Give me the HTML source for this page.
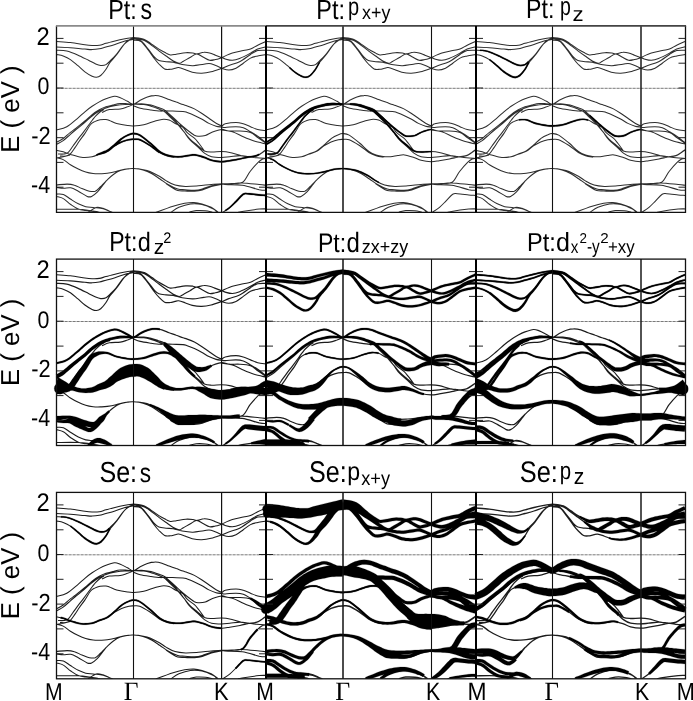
<!DOCTYPE html><html><head><meta charset="utf-8"><style>html,body{margin:0;padding:0;background:#fff;}svg{display:block;}</style></head><body>
<svg width="693" height="701" viewBox="0 0 693 701">
<rect width="693" height="701" fill="#fff"/>
<defs><path id="thin" d="M56.5 41.5C58.8 41.7 65.7 42.1 70.4 42.6C75.1 43.1 81.3 44.3 84.9 44.8C88.5 45.3 89.7 45.4 92.1 45.5C94.5 45.6 97.0 45.6 99.3 45.2C101.6 44.8 103.4 44.0 106.0 43.3C108.6 42.6 111.8 41.8 115.0 41.0C118.2 40.2 121.9 39.4 125.0 38.8C128.1 38.2 132.1 37.8 133.5 37.6 M56.5 47.0C58.8 47.1 65.7 47.4 70.4 47.7C75.1 48.1 81.3 48.8 84.9 49.1C88.5 49.4 89.7 49.7 92.1 49.6C94.5 49.5 97.0 49.2 99.3 48.8C101.6 48.4 103.4 47.7 106.0 47.0C108.6 46.3 111.8 45.5 115.0 44.5C118.2 43.5 121.9 41.9 125.0 41.0C128.1 40.1 132.1 39.6 133.5 39.3 M56.5 50.2C58.2 50.3 63.3 50.1 66.8 50.9C70.3 51.7 74.0 53.3 77.6 54.9C81.2 56.5 85.5 58.8 88.5 60.3C91.5 61.8 93.7 63.0 95.7 63.9C97.7 64.8 99.0 65.3 100.7 65.4C102.4 65.5 104.3 65.5 106.0 64.6C107.7 63.7 109.3 61.6 111.0 60.0C112.7 58.4 114.0 57.3 116.0 54.9C118.0 52.5 120.8 48.0 123.0 45.5C125.2 43.0 127.2 41.2 129.0 40.0C130.8 38.8 132.8 38.5 133.5 38.2 M56.5 54.5C57.6 54.8 60.9 55.1 63.2 56.0C65.5 56.9 68.0 58.0 70.4 59.6C72.8 61.2 75.2 63.4 77.6 65.4C80.0 67.4 82.5 70.0 84.9 71.8C87.3 73.6 90.2 75.3 92.1 76.2C94.0 77.1 95.0 77.4 96.4 77.3C97.8 77.2 99.1 76.8 100.7 75.5C102.3 74.2 104.5 71.5 106.0 69.3C107.5 67.1 108.3 64.8 110.0 62.5C111.7 60.2 113.6 58.6 116.0 55.5C118.4 52.4 122.2 46.6 124.5 44.0C126.8 41.4 128.5 40.7 130.0 39.8C131.5 38.9 132.9 39.0 133.5 38.8 M133.5 37.6C135.3 37.9 141.4 38.3 144.4 39.4C147.4 40.5 149.2 42.5 151.6 44.1C154.0 45.7 156.5 47.6 158.9 49.1C161.3 50.6 164.2 52.1 166.1 53.1C168.0 54.1 168.7 54.7 170.4 54.9C172.1 55.1 173.6 54.6 176.2 54.2C178.8 53.8 183.0 52.9 185.8 52.7C188.6 52.5 191.2 52.8 193.0 53.0C194.8 53.2 194.8 54.0 196.6 53.9C198.4 53.8 201.7 52.4 203.9 52.3C206.1 52.1 207.7 52.5 209.6 53.0C211.5 53.5 213.4 54.4 215.4 55.2C217.4 56.0 220.7 57.3 221.8 57.7 M133.5 38.4C135.3 38.7 141.4 39.2 144.4 40.4C147.4 41.6 149.2 43.7 151.6 45.4C154.0 47.1 156.5 49.0 158.9 50.8C161.3 52.6 163.7 54.3 166.1 56.0C168.5 57.7 171.2 59.8 173.3 61.0C175.5 62.2 177.4 63.2 179.0 63.3C180.6 63.4 181.2 62.5 183.0 61.5C184.8 60.5 187.7 58.8 190.0 57.5C192.3 56.2 194.4 54.0 196.6 53.9C198.8 53.8 200.8 55.9 203.0 57.0C205.2 58.1 207.5 59.9 209.6 60.3C211.7 60.7 213.4 59.9 215.4 59.5C217.4 59.1 220.7 58.0 221.8 57.7 M133.5 40.1C134.7 40.2 138.4 39.3 140.8 40.8C143.2 42.2 145.7 46.1 148.0 48.8C150.3 51.5 152.7 55.2 154.5 57.2C156.3 59.2 157.0 59.8 158.9 60.5C160.8 61.2 163.7 61.4 166.1 61.7C168.5 62.0 170.6 61.7 173.3 62.2C176.0 62.7 178.9 64.0 182.2 64.6C185.5 65.2 189.4 65.8 193.0 65.7C196.6 65.6 200.9 64.5 203.9 64.2C206.9 63.9 208.1 63.1 211.1 63.8C214.1 64.5 220.0 67.5 221.8 68.3 M133.5 40.3C134.8 40.5 138.6 39.9 141.0 41.5C143.4 43.1 145.8 46.9 148.0 49.8C150.2 52.7 152.7 56.4 154.5 58.8C156.3 61.2 157.2 62.3 158.9 64.0C160.6 65.7 162.7 68.1 164.6 69.0C166.5 69.9 168.7 69.4 170.4 69.3C172.1 69.2 173.6 68.5 175.0 68.2C176.4 67.9 176.9 67.4 178.6 67.6C180.3 67.8 182.7 68.7 185.0 69.5C187.3 70.3 189.5 71.6 192.3 72.2C195.1 72.8 198.6 73.3 201.7 73.2C204.8 73.1 207.8 72.6 211.1 71.8C214.4 71.0 220.0 68.9 221.8 68.3 M221.8 57.5C223.6 56.8 228.8 54.2 232.4 53.1C236.0 52.0 240.3 51.3 243.3 50.6C246.3 49.9 248.1 50.0 250.5 49.1C252.9 48.2 255.1 46.5 257.7 45.2C260.3 43.9 264.6 42.1 266.0 41.5 M221.8 57.5C222.4 57.7 223.4 58.4 225.2 58.9C227.0 59.4 230.0 60.4 232.4 60.3C234.8 60.2 236.6 59.7 239.6 58.5C242.6 57.3 247.5 54.7 250.5 53.1C253.5 51.5 255.1 50.2 257.7 49.1C260.3 48.0 264.6 47.2 266.0 46.8 M221.8 68.5C223.0 68.0 225.8 66.5 228.8 65.4C231.8 64.3 236.0 63.5 239.6 61.7C243.2 59.9 247.5 56.4 250.5 54.5C253.5 52.6 255.1 51.3 257.7 50.6C260.3 49.9 264.6 50.3 266.0 50.2 M221.8 68.5C223.0 68.8 226.4 70.0 228.8 70.0C231.2 70.0 233.6 69.3 236.0 68.2C238.4 67.1 240.9 64.9 243.3 63.2C245.7 61.5 248.1 59.3 250.5 58.1C252.9 56.9 255.1 56.6 257.7 56.0C260.3 55.4 264.6 54.8 266.0 54.5 M56.5 130.0C58.2 129.5 63.3 128.8 66.8 126.8C70.3 124.8 74.6 120.8 77.6 118.3C80.6 115.8 82.5 113.8 84.9 111.8C87.3 109.8 89.7 107.9 92.1 106.3C94.5 104.7 97.0 103.2 99.3 101.9C101.6 100.6 103.5 99.6 106.0 98.7C108.5 97.8 112.1 96.5 114.5 96.3C116.9 96.1 118.1 96.9 120.3 97.7C122.5 98.5 125.3 100.2 127.5 101.3C129.7 102.4 131.4 104.4 133.5 104.2C135.6 104.0 137.9 101.5 140.2 100.3C142.5 99.1 145.0 97.8 147.4 97.0C149.8 96.2 152.2 95.6 154.6 95.6C157.0 95.5 159.5 96.0 161.9 96.7C164.3 97.4 166.7 98.6 169.1 99.5C171.5 100.4 174.0 101.2 176.3 102.1C178.6 102.9 181.2 104.0 183.0 104.6C184.8 105.2 185.3 105.2 187.2 105.9C189.1 106.6 192.0 107.7 194.4 108.9C196.8 110.1 199.2 111.7 201.6 113.3C204.0 114.9 206.5 116.6 208.9 118.3C211.3 120.0 214.0 122.0 216.1 123.2C218.2 124.4 220.2 125.6 221.7 125.7C223.2 125.8 222.8 124.3 225.2 123.8C227.6 123.2 233.0 122.4 236.0 122.4C239.0 122.4 240.9 123.1 243.3 123.8C245.7 124.5 248.1 125.7 250.5 126.7C252.9 127.7 255.1 128.9 257.7 129.6C260.3 130.3 264.6 130.5 266.0 130.7 M56.5 142.3C57.6 141.7 60.9 140.2 63.2 138.5C65.5 136.8 68.0 134.3 70.4 132.4C72.8 130.5 75.2 128.7 77.6 126.8C80.0 124.9 82.5 123.0 84.9 121.0C87.3 119.0 89.7 116.5 92.1 114.6C94.5 112.7 97.0 111.1 99.3 109.8C101.6 108.5 103.7 107.6 106.0 106.8C108.3 106.0 110.6 105.4 113.0 104.9C115.4 104.4 118.0 103.8 120.3 103.6C122.6 103.4 124.8 103.6 127.0 103.7C129.2 103.8 132.4 104.1 133.5 104.2 M56.5 144.5C57.6 143.8 60.9 142.3 63.2 140.6C65.5 138.9 68.0 136.4 70.4 134.3C72.8 132.2 75.2 130.3 77.6 128.3C80.0 126.3 82.5 124.5 84.9 122.4C87.3 120.4 89.7 117.9 92.1 116.0C94.5 114.1 97.0 112.3 99.3 111.0C101.6 109.7 103.7 108.8 106.0 108.0C108.3 107.2 110.6 106.5 113.0 106.0C115.4 105.5 118.0 105.0 120.3 104.8C122.6 104.5 124.8 104.6 127.0 104.5C129.2 104.4 132.4 104.4 133.5 104.4 M102.0 112.5C103.2 112.0 106.4 110.2 109.4 109.6C112.5 109.0 117.3 109.4 120.3 108.9C123.3 108.4 125.3 107.5 127.5 106.8C129.7 106.0 132.5 104.8 133.5 104.4 M58.0 154.0C59.0 154.0 62.3 154.3 64.0 154.0C65.7 153.7 66.8 153.7 68.3 152.4C69.8 151.1 71.5 148.1 73.0 146.0C74.5 143.9 75.9 141.8 77.6 139.6C79.3 137.4 81.2 135.1 83.1 132.6C85.0 130.1 87.4 126.9 88.9 124.8C90.5 122.7 91.2 121.5 92.4 120.0C93.6 118.5 94.5 117.1 95.8 115.8C97.1 114.5 98.6 113.0 100.0 112.0C101.4 111.0 103.3 109.9 104.0 109.5 M60.0 156.0C61.0 156.0 64.3 156.4 66.0 156.0C67.7 155.6 68.9 155.2 70.4 153.8C71.9 152.4 73.5 149.7 75.0 147.6C76.5 145.5 77.8 143.3 79.4 141.0C81.0 138.7 82.9 136.3 84.8 133.6C86.7 130.8 88.9 126.5 90.6 124.5C92.2 122.5 93.1 122.4 94.7 121.6C96.3 120.8 98.1 120.1 100.0 119.8C101.9 119.5 104.4 119.5 106.0 119.6C107.6 119.7 107.6 119.9 109.4 120.5C111.2 121.1 113.6 122.6 116.6 123.4C119.6 124.2 124.7 125.1 127.5 125.5C130.3 125.9 130.8 126.0 133.5 125.9C136.2 125.8 140.3 125.6 143.8 124.8C147.3 124.0 151.6 122.1 154.6 121.2C157.6 120.3 159.5 119.6 161.9 119.4C164.3 119.2 166.7 119.3 169.1 120.1C171.5 120.9 174.0 122.9 176.3 124.1C178.6 125.3 181.2 125.9 183.0 127.3C184.8 128.7 185.3 130.9 187.2 132.7C189.1 134.5 192.4 136.4 194.4 138.2C196.4 140.0 197.3 141.4 199.0 143.5C200.7 145.6 203.5 149.7 204.4 150.9 M133.5 104.0C135.2 104.0 140.9 103.7 143.8 103.9C146.7 104.1 148.6 104.4 151.0 105.0C153.4 105.6 156.1 106.7 158.3 107.5C160.5 108.3 162.2 108.5 164.0 109.6C165.8 110.7 167.0 112.2 169.1 114.0C171.2 115.8 174.5 118.8 176.3 120.5C178.1 122.2 178.2 122.4 180.0 124.0C181.8 125.6 184.8 128.1 187.2 130.0C189.6 131.9 192.6 134.1 194.4 135.2C196.2 136.2 196.2 136.2 198.0 136.3C199.8 136.4 202.9 136.3 205.3 135.6C207.7 134.9 209.8 133.0 212.5 132.0C215.2 131.0 219.0 129.6 221.7 129.4C224.4 129.2 225.8 130.7 228.8 131.0C231.8 131.3 236.0 130.8 239.6 131.0C243.2 131.2 247.5 131.4 250.5 132.5C253.5 133.6 255.1 135.7 257.7 137.5C260.3 139.3 264.6 142.3 266.0 143.3 M133.5 104.2C135.2 104.3 140.9 104.3 143.8 104.6C146.7 104.9 148.6 105.5 151.0 106.2C153.4 106.9 156.1 107.9 158.3 108.8C160.5 109.7 162.2 110.2 164.0 111.4C165.8 112.6 167.0 114.1 169.1 116.0C171.2 117.9 174.0 120.6 176.3 123.0C178.6 125.4 180.7 127.9 183.0 130.6C185.3 133.3 187.6 136.6 190.0 139.0C192.4 141.4 194.8 143.2 197.2 145.2C199.6 147.2 202.0 149.8 204.4 150.9C206.8 152.0 208.7 151.9 211.6 152.0C214.5 152.1 218.6 151.5 221.6 151.6C224.6 151.7 226.6 151.8 229.7 152.4C232.8 153.0 237.0 154.6 240.0 155.3C243.0 156.0 245.0 156.6 247.8 156.7C250.6 156.8 253.9 156.9 256.9 155.8C259.9 154.7 264.5 151.0 266.0 150.0 M165.5 111.8C166.8 113.0 171.1 116.7 173.4 119.0C175.7 121.3 177.4 123.4 179.2 125.5C181.0 127.6 182.2 129.4 184.0 131.8C185.8 134.2 187.8 137.6 190.0 140.0C192.2 142.4 194.8 144.1 197.2 146.3C199.6 148.5 202.0 151.4 204.4 153.1C206.8 154.8 208.7 156.0 211.6 156.7C214.5 157.4 218.6 157.4 221.6 157.4C224.6 157.4 226.6 157.0 229.7 156.7C232.8 156.4 236.9 155.6 240.0 155.6C243.1 155.6 245.2 156.1 248.0 156.5C250.8 156.9 253.9 157.5 256.9 157.8C259.9 158.1 264.5 158.3 266.0 158.4 M133.5 105.7C134.6 106.1 137.3 107.5 140.2 108.2C143.1 108.9 147.6 109.5 151.0 110.0C154.4 110.5 158.2 111.0 160.4 111.1C162.6 111.2 161.9 110.8 164.0 110.8C166.1 110.8 169.5 111.0 172.7 111.1C175.9 111.2 180.6 111.2 183.0 111.4C185.4 111.6 185.3 111.8 187.2 112.5C189.1 113.2 192.0 114.3 194.4 115.4C196.8 116.5 199.2 117.7 201.6 119.0C204.0 120.3 206.5 122.2 208.9 123.4C211.3 124.6 214.0 125.6 216.1 126.2C218.2 126.8 220.2 126.8 221.7 127.0C223.2 127.2 222.8 127.5 225.2 127.4C227.6 127.4 233.0 126.6 236.0 126.7C239.0 126.8 240.9 127.0 243.3 127.8C245.7 128.6 248.1 130.3 250.5 131.7C252.9 133.1 255.1 134.3 257.7 136.1C260.3 137.9 264.6 141.5 266.0 142.6 M221.6 129.9C223.4 130.2 228.8 130.5 232.4 131.7C236.0 132.8 239.7 135.2 243.3 136.8C246.9 138.4 250.3 139.9 254.1 141.1C257.9 142.3 264.0 143.5 266.0 144.0 M56.5 150.3C57.6 150.5 60.9 151.0 63.2 151.7C65.5 152.4 67.4 153.5 70.4 154.4C73.4 155.3 77.7 156.9 81.3 157.3C84.9 157.7 89.1 157.3 92.1 156.7C95.1 156.1 96.8 154.9 99.3 153.9C101.8 152.9 104.7 152.4 107.2 150.9C109.7 149.4 112.0 147.2 114.4 145.2C116.8 143.2 119.2 140.4 121.6 138.7C124.0 136.9 126.9 135.5 128.9 134.7C130.9 133.8 131.7 133.5 133.5 133.6C135.3 133.7 136.9 133.5 139.7 135.1C142.4 136.7 146.7 140.3 150.0 143.0C153.3 145.7 156.6 149.4 159.4 151.4C162.2 153.4 164.2 154.2 166.6 155.1C169.0 156.0 171.5 156.3 173.9 156.6C176.3 156.9 178.7 156.9 181.1 156.7C183.5 156.5 186.0 155.9 188.3 155.6C190.6 155.3 192.3 154.6 195.0 154.9C197.7 155.2 201.6 156.5 204.4 157.4C207.2 158.3 208.7 159.6 211.6 160.3C214.5 161.0 218.6 161.6 221.6 161.7C224.6 161.8 226.6 161.2 229.7 160.7C232.8 160.2 237.0 159.5 240.0 158.9C243.0 158.3 245.0 157.8 247.8 157.2C250.6 156.6 254.4 156.3 256.9 155.5C259.4 154.7 261.1 153.0 262.6 152.1C264.1 151.2 265.4 150.2 266.0 149.8 M99.3 154.2C100.6 153.7 104.7 152.8 107.2 151.4C109.7 150.0 112.0 147.5 114.4 145.9C116.8 144.3 119.2 142.9 121.6 141.9C124.0 140.9 126.9 140.1 128.9 139.7C130.9 139.3 131.7 139.4 133.5 139.4C135.3 139.4 136.9 138.7 139.7 139.7C142.4 140.7 146.7 143.4 150.0 145.5C153.3 147.6 156.6 150.8 159.4 152.5C162.2 154.2 164.2 155.0 166.6 155.8C169.0 156.6 172.7 157.0 173.9 157.2 M56.5 158.2C57.6 157.9 61.0 157.2 63.2 156.7C65.5 156.2 68.9 155.3 70.0 155.0 M56.5 157.8C57.6 158.1 60.9 158.4 63.2 159.6C65.5 160.8 67.9 163.1 70.4 164.7C72.9 166.3 75.8 167.8 78.3 169.0C80.8 170.2 83.2 171.2 85.7 172.0C88.2 172.8 90.6 173.2 93.1 173.5C95.6 173.8 98.1 173.8 100.5 173.7C102.9 173.6 104.7 173.6 107.3 173.2C109.9 172.8 113.1 172.2 116.0 171.5C118.9 170.8 121.7 169.8 124.6 169.3C127.5 168.8 130.4 168.5 133.5 168.6C136.6 168.7 140.6 169.2 143.3 169.7C146.1 170.2 147.3 170.4 150.0 171.5C152.7 172.6 156.7 174.7 159.4 176.2C162.1 177.7 163.4 179.1 166.0 180.6C168.6 182.1 171.8 184.1 175.1 185.1C178.3 186.1 181.6 186.3 185.5 186.4C189.4 186.5 194.1 186.1 198.4 185.8C202.7 185.5 207.5 184.8 211.4 184.5C215.3 184.2 218.7 183.9 221.8 183.8C224.9 183.7 226.6 184.0 230.0 183.8C233.4 183.7 237.2 182.8 242.1 182.9C247.0 183.0 255.2 184.2 259.2 184.6C263.2 185.0 264.9 185.1 266.0 185.2 M56.5 184.9C58.3 184.8 64.1 184.1 67.1 184.1C70.1 184.1 72.0 184.4 74.5 185.2C77.0 185.9 79.5 187.6 82.0 188.6C84.5 189.6 87.2 190.8 89.4 191.2C91.6 191.6 93.5 191.9 95.3 191.2C97.1 190.4 98.7 188.4 100.5 186.7C102.3 185.0 103.8 183.1 106.0 181.1C108.2 179.1 111.0 176.2 113.4 174.5C115.8 172.8 118.0 171.5 120.3 170.6C122.6 169.7 124.8 169.3 127.0 169.0C129.2 168.7 130.8 168.4 133.5 168.6C136.2 168.8 139.9 169.1 143.0 170.0C146.1 170.9 149.2 172.3 152.0 173.8C154.8 175.3 157.3 177.2 160.0 179.0C162.7 180.8 165.1 182.8 168.0 184.5C170.9 186.2 174.9 188.1 177.7 189.0C180.5 189.9 182.2 189.5 185.0 189.7C187.8 189.9 191.6 190.4 194.5 190.3C197.4 190.2 199.5 189.8 202.3 189.0C205.1 188.2 208.2 186.6 211.4 185.8C214.7 185.0 219.5 184.4 221.8 184.2C224.1 184.0 221.6 184.4 225.0 184.6C228.4 184.8 236.4 184.3 242.1 185.2C247.8 186.0 255.2 188.8 259.2 189.7C263.2 190.5 264.9 190.2 266.0 190.3 M56.5 187.4C57.6 187.5 61.0 188.1 63.4 188.2C65.8 188.3 68.3 187.3 70.8 187.8C73.3 188.3 75.6 189.8 78.3 191.2C81.0 192.6 85.0 195.5 87.2 196.4C89.4 197.3 89.9 197.2 91.6 196.4C93.3 195.7 95.6 193.8 97.5 191.9C99.4 190.0 101.6 186.8 103.0 185.0C104.4 183.2 105.5 181.8 106.0 181.1 M166.0 183.5C167.0 184.2 170.1 186.3 172.0 187.5C173.9 188.7 175.5 190.0 177.7 190.6C179.9 191.2 182.2 190.9 185.0 191.0C187.8 191.1 191.6 191.4 194.5 191.2C197.4 191.0 199.5 190.8 202.3 190.0C205.1 189.2 208.2 187.6 211.4 186.6C214.7 185.6 220.1 184.6 221.8 184.2 M221.8 184.2C223.5 184.1 228.5 183.8 232.0 183.5C235.5 183.2 239.7 184.3 242.7 182.3C245.7 180.3 247.5 174.8 250.1 171.5C252.7 168.2 256.0 164.5 258.1 162.4C260.2 160.3 261.3 159.7 262.6 159.0C263.9 158.3 265.4 158.5 266.0 158.4 M56.5 194.1C57.6 194.2 61.0 193.6 63.4 194.5C65.8 195.4 68.3 197.8 70.8 199.3C73.3 200.9 75.8 202.6 78.3 203.8C80.8 205.0 83.2 206.1 85.7 206.7C88.2 207.3 90.6 207.2 93.1 207.5C95.6 207.8 98.3 207.8 100.5 208.2C102.7 208.6 104.1 209.0 106.0 209.7C107.9 210.4 111.0 212.0 112.0 212.5 M56.5 196.4C57.6 196.8 61.0 197.2 63.4 198.6C65.8 199.9 68.3 202.8 70.8 204.5C73.3 206.2 75.8 208.0 78.3 209.0C80.8 210.0 82.9 210.0 85.7 210.4C88.5 210.8 92.6 211.2 95.0 211.5C97.4 211.8 99.2 212.3 100.0 212.5 M56.5 209.3C60.1 209.3 72.4 209.1 78.0 209.3C83.6 209.5 86.7 210.1 90.0 210.5C93.3 210.9 96.7 211.6 98.0 211.8 M88.0 212.5C89.3 211.7 93.6 208.1 96.1 207.4C98.6 206.7 100.8 207.7 103.0 208.3C105.2 208.9 107.3 210.2 109.0 210.9C110.7 211.6 112.3 212.2 113.0 212.5 M155.8 212.5C158.7 211.4 168.3 207.7 173.1 206.2C177.9 204.7 181.1 203.9 184.6 203.3C188.1 202.7 191.0 202.4 193.9 202.5C196.8 202.6 199.1 203.1 202.0 203.9C204.9 204.7 208.5 205.9 211.2 207.3C213.9 208.7 216.9 211.4 218.1 212.2 M170.8 212.5C172.2 211.6 175.6 208.7 178.9 207.3C182.2 205.9 186.6 204.4 190.4 203.9C194.2 203.4 198.2 203.6 202.0 204.4C205.8 205.2 211.0 207.7 213.5 209.0C216.0 210.3 216.4 211.7 217.0 212.2 M189.3 212.2C190.5 211.9 193.5 210.8 196.2 210.6C198.9 210.4 202.7 210.5 205.4 210.8C208.1 211.1 211.2 212.0 212.4 212.2 M222.5 212.5C223.8 211.6 227.7 209.2 230.0 207.3C232.3 205.4 234.2 203.3 236.4 201.1C238.6 198.9 241.3 195.5 243.2 194.3C245.1 193.1 245.1 193.6 247.8 193.7C250.5 193.8 256.2 194.6 259.2 194.9C262.2 195.2 264.9 195.3 266.0 195.4 M238.0 212.5C238.7 212.3 238.6 212.0 242.1 211.4C245.6 210.8 255.2 209.5 259.2 209.1C263.2 208.7 264.9 208.9 266.0 208.9"/></defs>
<clipPath id="cr0"><rect x="53.0" y="25.9" width="635.5" height="186.4"/></clipPath>
<clipPath id="cr1"><rect x="53.0" y="259.1" width="635.5" height="186.4"/></clipPath>
<clipPath id="cr2"><rect x="53.0" y="492.4" width="635.5" height="186.4"/></clipPath>
<line x1="56.5" y1="88.3" x2="685.5" y2="88.3" stroke="#7a7a7a" stroke-width="1" stroke-dasharray="3.2,0.8"/>
<g clip-path="url(#cr0)">
<use href="#thin" transform="translate(0.0 0.0)" fill="none" stroke="#2e2e2e" stroke-width="1.05" stroke-linejoin="round"/>
<path d="M96.6,155.8 98.6,155.1 100.6,154.4 102.6,153.9 104.7,153.4 106.7,152.4 108.6,151.3 110.3,150.1 111.9,148.7 113.5,147.3 115.1,145.9 116.7,144.5 118.2,142.9 119.8,141.4 121.3,140.0 123.0,138.8 124.8,137.6 126.7,136.6 128.4,135.8 130.5,134.9 132.4,134.4 134.4,134.4 136.1,134.6 138.1,135.2 140.0,136.2 141.5,137.3 143.3,138.5 145.1,140.0 146.9,141.5 148.6,142.9 150.3,144.3 151.9,145.8 153.5,147.3 155.1,148.8 156.6,150.3 158.1,151.6 159.9,152.9 161.8,154.0 163.6,154.9 165.4,155.6 167.4,156.3 169.5,156.8 171.7,157.2 173.8,157.4 175.9,157.6 178.0,157.7 180.1,157.6 182.2,157.4 184.3,157.1 186.4,156.8 188.4,156.4 190.6,156.1 192.6,155.7 194.9,155.7 196.8,156.1 198.9,156.6 201.1,157.2 203.2,157.9 205.2,158.6 207.1,159.5 209.1,160.3 211.4,161.1 213.3,161.5 215.4,161.9 217.5,162.2 219.6,162.4 221.6,162.5 223.8,162.4 225.7,162.2 227.7,161.8 229.8,161.5 231.8,161.2 233.9,160.8 236.1,160.4 238.2,160.0 240.1,159.6 242.5,159.1 244.7,158.6 246.8,158.2 248.9,157.7 251.0,157.4 253.1,157.1 255.2,156.7 257.2,156.2 259.4,155.1 258.8,153.8 256.6,154.8 254.9,155.3 252.9,155.7 250.8,156.0 248.6,156.3 246.5,156.7 244.3,157.2 242.2,157.7 239.9,158.2 237.9,158.5 235.8,158.9 233.7,159.3 231.5,159.6 229.6,159.9 227.4,160.3 225.5,160.6 223.6,160.8 221.6,160.9 219.7,160.8 217.7,160.6 215.6,160.3 213.6,159.9 211.8,159.5 209.7,158.8 207.8,157.9 205.8,157.0 203.7,156.3 201.6,155.6 199.3,154.9 197.1,154.4 195.1,154.1 192.5,154.0 190.3,154.4 188.2,154.8 186.1,155.1 184.1,155.5 182.0,155.8 180.0,155.9 178.0,156.0 176.0,155.9 174.0,155.8 171.9,155.5 169.9,155.1 167.9,154.6 166.0,153.9 164.4,153.3 162.7,152.4 160.9,151.4 159.2,150.2 157.8,149.0 156.3,147.6 154.7,146.1 153.0,144.5 151.4,143.1 149.7,141.7 147.9,140.2 146.1,138.7 144.2,137.3 142.5,136.0 140.8,134.8 138.7,133.7 136.4,133.0 134.4,132.8 132.2,132.8 129.9,133.4 127.8,134.3 126.0,135.2 124.0,136.2 122.1,137.4 120.3,138.6 118.6,140.0 116.9,141.6 115.3,143.1 113.7,144.5 112.1,145.8 110.6,147.1 109.0,148.4 107.4,149.4 105.7,150.4 103.8,151.1 101.9,151.9 99.9,152.7 97.9,153.6 96.1,154.6Z M108.4,151.5 110.1,150.3 111.7,148.9 113.3,147.6 114.8,146.5 116.6,145.4 118.4,144.3 120.1,143.4 121.9,142.6 124.0,141.8 126.2,141.1 128.2,140.6 130.3,140.2 132.3,140.1 134.4,140.1 136.2,139.9 138.3,140.0 140.2,140.7 141.9,141.5 143.8,142.5 145.8,143.7 147.8,144.9 149.6,146.1 151.4,147.3 153.1,148.7 154.9,150.1 156.6,151.4 158.2,152.6 159.0,153.1 159.8,151.9 159.0,151.4 157.4,150.3 155.8,149.0 154.0,147.6 152.2,146.2 150.4,144.9 148.5,143.7 146.5,142.5 144.5,141.3 142.6,140.2 140.8,139.3 138.6,138.6 136.2,138.4 134.4,138.6 132.3,138.6 130.1,138.7 127.8,139.2 125.8,139.7 123.5,140.4 121.3,141.2 119.5,142.1 117.6,143.0 115.8,144.1 114.0,145.3 112.4,146.5 110.8,147.8 109.2,149.2 107.6,150.3Z M225.7,211.1 227.7,209.9 229.6,208.5 231.3,207.1 233.0,205.6 234.6,204.1 236.2,202.5 237.8,200.9 239.3,199.2 240.9,197.5 242.4,196.0 243.6,195.0 245.3,194.3 247.7,194.5 249.4,194.7 251.5,194.9 253.8,195.1 256.1,195.4 258.2,195.7 260.6,195.9 263.3,196.1 265.3,196.2 265.9,196.2 266.1,194.6 265.4,194.5 263.4,194.4 260.7,194.2 258.4,194.0 256.3,193.7 254.0,193.5 251.7,193.2 249.6,193.0 247.9,192.9 245.1,192.7 242.8,193.6 241.3,194.8 239.7,196.3 238.1,198.1 236.5,199.7 235.0,201.3 233.4,202.9 231.9,204.5 230.4,206.0 228.7,207.4 226.9,208.7 225.0,210.1Z" fill="#000" stroke="#000" stroke-width="0.2"/>
<use href="#thin" transform="translate(209.5 0.0)" fill="none" stroke="#2e2e2e" stroke-width="1.05" stroke-linejoin="round"/>
<path d="M289.1,68.0 290.7,69.5 292.4,71.0 294.0,72.3 295.9,73.7 297.8,74.9 299.7,76.0 301.3,76.9 303.7,77.8 306.0,78.0 308.3,77.5 310.6,76.1 312.0,74.7 313.4,73.1 314.8,71.4 316.0,69.7 317.2,67.7 318.3,65.8 319.4,63.8 320.0,62.8 319.0,62.2 318.3,63.2 317.2,65.2 316.1,67.1 315.0,68.9 313.7,70.6 312.4,72.3 311.0,73.8 309.8,74.9 307.7,76.2 305.8,76.6 304.1,76.4 301.9,75.5 300.3,74.8 298.5,73.7 296.6,72.6 294.8,71.3 293.2,70.0 291.6,68.6 289.9,67.1Z M266.3,143.0 267.8,142.2 269.8,141.1 272.1,139.8 273.9,138.5 275.5,137.2 277.2,135.8 278.8,134.3 280.4,133.0 282.0,131.7 283.6,130.5 285.1,129.3 286.8,128.0 288.4,126.8 290.0,125.5 291.6,124.2 293.3,122.9 294.9,121.6 296.5,120.1 298.1,118.7 299.7,117.2 301.3,115.8 303.0,114.5 304.7,113.2 306.5,112.0 308.3,111.0 310.1,109.9 312.0,109.0 313.9,108.2 315.7,107.5 317.7,106.9 319.6,106.3 321.7,105.9 323.7,105.4 325.8,105.0 327.9,104.6 329.9,104.3 332.1,104.3 334.3,104.3 336.5,104.4 338.9,104.6 341.3,104.8 342.9,104.9 343.1,103.5 341.4,103.3 339.0,103.1 336.5,103.0 334.3,102.8 332.1,102.8 329.7,102.9 327.6,103.1 325.5,103.5 323.4,103.9 321.3,104.4 319.3,104.9 317.3,105.4 315.3,106.1 313.3,106.8 311.4,107.6 309.4,108.6 307.5,109.7 305.7,110.8 303.9,112.0 302.1,113.3 300.3,114.7 298.7,116.1 297.1,117.6 295.5,119.0 293.9,120.4 292.3,121.8 290.7,123.0 289.1,124.3 287.4,125.6 285.8,126.8 284.2,128.1 282.6,129.3 281.0,130.5 279.4,131.8 277.8,133.2 276.2,134.6 274.6,136.0 273.0,137.3 271.3,138.6 269.1,139.8 267.1,140.9 265.7,141.6Z M266.3,145.1 267.7,144.4 269.8,143.3 272.0,141.9 273.9,140.6 275.5,139.2 277.1,137.7 278.8,136.2 280.4,134.8 281.9,133.5 283.5,132.1 285.1,130.8 286.7,129.5 288.3,128.2 290.0,126.9 291.6,125.6 293.2,124.3 294.9,122.9 296.5,121.5 298.1,120.0 299.7,118.6 301.2,117.2 302.9,115.8 304.7,114.5 306.5,113.2 308.3,112.1 310.1,111.1 312.0,110.2 313.8,109.4 315.7,108.7 317.7,108.0 319.6,107.4 321.6,106.9 323.7,106.5 325.8,106.1 327.8,105.7 329.9,105.5 332.1,105.3 334.3,105.3 336.5,105.2 338.9,105.1 341.3,105.1 343.0,105.1 343.0,103.7 341.3,103.7 338.9,103.7 336.5,103.8 334.3,103.9 332.0,103.9 329.7,104.1 327.7,104.4 325.5,104.7 323.4,105.1 321.3,105.6 319.3,106.1 317.3,106.7 315.3,107.3 313.3,108.1 311.4,108.9 309.5,109.8 307.6,110.9 305.7,112.1 303.9,113.4 302.1,114.7 300.4,116.1 298.7,117.5 297.1,119.0 295.5,120.5 293.9,121.9 292.3,123.2 290.7,124.5 289.1,125.8 287.5,127.1 285.9,128.4 284.2,129.7 282.6,131.1 281.0,132.4 279.4,133.8 277.8,135.2 276.2,136.7 274.6,138.1 273.0,139.5 271.3,140.7 269.1,142.0 267.1,143.1 265.7,143.9Z M267.5,154.7 269.1,154.8 271.4,154.8 273.6,154.7 276.0,154.3 278.2,152.9 279.7,151.4 281.0,149.4 282.4,147.4 283.7,145.5 285.0,143.7 286.3,141.9 287.7,140.0 289.0,138.3 290.3,136.6 291.7,134.9 293.2,133.0 294.5,131.3 295.8,129.4 297.2,127.6 298.4,126.0 299.8,124.0 301.2,122.1 302.5,120.4 303.8,118.7 305.1,117.1 306.6,115.5 308.3,113.9 309.9,112.6 312.1,111.1 313.9,110.1 313.1,108.9 311.4,109.9 309.1,111.4 307.3,112.9 305.6,114.5 304.0,116.1 302.7,117.8 301.3,119.6 300.1,121.3 298.7,123.2 297.3,125.1 296.1,126.8 294.7,128.6 293.4,130.4 292.0,132.2 290.6,134.0 289.2,135.8 287.9,137.5 286.5,139.2 285.2,141.1 283.9,142.9 282.6,144.7 281.3,146.6 279.9,148.6 278.6,150.5 277.4,151.9 275.5,152.9 273.4,153.3 271.4,153.4 269.1,153.4 267.5,153.3Z M350.1,104.5 352.3,104.5 354.4,104.7 356.5,104.9 358.4,105.2 360.3,105.7 362.4,106.3 364.5,107.1 366.6,107.8 368.6,108.6 370.5,109.1 372.3,109.8 373.9,110.8 375.5,112.1 377.1,113.7 378.8,115.2 380.5,116.7 382.2,118.3 383.9,119.8 385.3,121.0 386.8,122.5 388.1,123.7 389.7,125.1 391.2,126.4 392.8,127.8 394.6,129.3 396.2,130.6 398.1,132.0 400.1,133.5 401.9,134.8 403.5,135.9 406.0,136.9 408.3,137.1 410.4,137.0 412.7,136.8 415.0,136.3 416.9,135.5 418.6,134.5 420.4,133.5 422.3,132.6 424.2,131.9 426.3,131.2 428.4,130.6 430.4,130.1 431.3,130.0 431.1,128.8 430.1,128.9 428.1,129.3 425.9,129.9 423.7,130.6 421.7,131.4 419.7,132.3 417.9,133.3 416.2,134.2 414.6,134.9 412.5,135.3 410.3,135.5 408.4,135.6 406.3,135.5 404.3,134.5 402.8,133.6 401.0,132.3 399.0,130.9 397.2,129.4 395.5,128.1 393.8,126.7 392.1,125.3 390.6,124.0 389.1,122.6 387.9,121.5 386.3,120.0 384.9,118.7 383.2,117.1 381.5,115.6 379.8,114.1 378.1,112.6 376.5,111.0 374.8,109.6 372.9,108.4 371.0,107.7 369.1,107.1 367.1,106.5 365.0,105.7 362.8,104.9 360.7,104.3 358.7,103.9 356.7,103.5 354.5,103.3 352.4,103.2 350.1,103.2Z M350.1,105.0 352.3,105.2 354.4,105.4 356.5,105.8 358.3,106.3 360.3,106.9 362.4,107.5 364.5,108.3 366.6,109.1 368.6,109.9 370.5,110.7 372.2,111.5 373.9,112.6 375.4,114.0 377.1,115.6 378.7,117.1 380.1,118.4 381.6,119.9 383.1,121.3 384.6,122.8 385.9,124.2 387.3,125.7 388.6,127.2 389.9,128.7 391.2,130.3 392.6,131.9 394.0,133.6 395.4,135.4 396.8,137.1 398.2,138.8 399.8,140.3 401.4,141.8 403.0,143.2 404.6,144.5 406.2,145.8 407.8,147.2 409.4,148.6 411.0,149.9 412.7,151.1 414.7,152.0 416.7,152.5 418.8,152.6 421.1,152.7 423.0,152.7 425.0,152.6 427.1,152.4 429.2,152.3 431.1,152.3 431.1,150.9 429.2,151.0 427.1,151.1 424.9,151.2 422.9,151.3 421.1,151.3 418.9,151.2 416.9,151.1 415.1,150.6 413.5,149.8 412.0,148.8 410.4,147.5 408.8,146.0 407.2,144.6 405.6,143.3 404.0,142.0 402.4,140.7 400.8,139.2 399.3,137.7 398.0,136.1 396.6,134.4 395.2,132.7 393.8,130.9 392.4,129.3 391.1,127.8 389.7,126.2 388.4,124.7 387.0,123.2 385.6,121.7 384.1,120.2 382.6,118.8 381.1,117.4 379.8,116.1 378.2,114.5 376.5,112.9 374.8,111.4 373.0,110.2 371.1,109.3 369.1,108.5 367.1,107.7 365.0,107.0 362.9,106.2 360.7,105.5 358.7,105.0 356.7,104.5 354.6,104.1 352.4,103.8 350.2,103.7Z M270.0,159.3 272.4,160.2 274.1,161.2 275.8,162.5 277.7,163.9 279.5,165.3 281.5,166.4 283.5,167.6 285.5,168.6 287.5,169.6 289.7,170.6 291.8,171.5 293.9,172.3 296.1,172.9 298.2,173.5 300.4,173.9 302.5,174.2 304.7,174.3 306.9,174.4 309.0,174.4 311.2,174.3 313.4,174.2 315.6,174.0 317.9,173.7 320.1,173.3 322.3,172.9 324.6,172.4 326.7,171.9 328.9,171.3 331.0,170.7 333.2,170.2 335.3,169.8 337.4,169.5 339.6,169.4 341.8,169.3 344.0,169.3 346.3,169.5 348.5,169.8 350.7,170.1 352.7,170.4 355.0,170.8 357.0,171.3 359.3,172.1 361.0,172.9 362.9,173.8 364.9,174.8 366.8,175.8 368.6,176.8 370.5,178.0 372.3,179.3 374.1,180.5 376.0,181.6 377.7,182.6 378.6,183.1 379.2,182.0 378.3,181.5 376.6,180.5 374.8,179.4 373.0,178.2 371.3,176.9 369.2,175.6 367.5,174.6 365.5,173.6 363.5,172.6 361.5,171.6 359.7,170.9 357.4,170.0 355.3,169.5 352.9,169.0 350.9,168.7 348.7,168.4 346.4,168.1 344.1,167.9 341.8,167.9 339.5,168.0 337.3,168.2 335.1,168.4 332.9,168.8 330.7,169.4 328.5,170.0 326.4,170.6 324.3,171.1 322.0,171.6 319.8,172.0 317.7,172.4 315.5,172.7 313.3,172.9 311.1,173.0 309.0,173.0 306.9,173.1 304.8,173.0 302.7,172.8 300.6,172.5 298.5,172.2 296.4,171.7 294.4,171.0 292.3,170.3 290.2,169.4 288.1,168.4 286.1,167.4 284.2,166.4 282.2,165.3 280.3,164.1 278.4,162.9 276.6,161.5 274.8,160.1 273.0,159.0 270.4,158.1Z" fill="#000" stroke="#000" stroke-width="0.2"/>
<use href="#thin" transform="translate(419.0 0.0)" fill="none" stroke="#2e2e2e" stroke-width="1.05" stroke-linejoin="round"/>
<path d="M479.9,50.9 482.3,51.0 484.6,51.3 486.6,51.8 488.5,52.3 490.4,53.0 492.4,53.8 494.4,54.7 496.3,55.5 498.2,56.4 500.1,57.3 502.0,58.3 503.8,59.2 505.6,60.1 507.2,61.0 509.3,62.0 511.1,63.0 512.8,63.9 514.4,64.6 516.6,65.5 518.6,66.1 520.7,66.2 523.0,66.0 525.3,65.2 527.1,63.9 528.8,62.1 527.9,61.3 526.3,62.9 524.7,64.0 522.7,64.6 520.7,64.7 518.9,64.5 517.1,64.0 515.0,63.2 513.5,62.5 511.8,61.7 510.0,60.7 507.8,59.6 506.2,58.8 504.5,57.9 502.6,57.0 500.7,56.0 498.7,55.1 496.9,54.3 494.9,53.4 492.9,52.6 490.9,51.8 488.9,51.1 486.9,50.5 484.8,50.1 482.4,49.8 480.0,49.7Z M489.0,60.1 490.6,61.3 492.2,62.5 493.7,63.9 495.3,65.3 496.9,66.7 498.5,68.1 500.1,69.7 501.8,71.1 503.4,72.5 505.3,73.8 507.2,75.1 509.1,76.2 510.7,77.0 513.2,78.0 515.5,78.2 517.8,77.6 520.2,76.2 521.6,74.8 523.0,73.2 524.3,71.4 525.6,69.7 526.8,67.7 527.8,65.8 528.9,63.8 529.5,62.8 528.5,62.2 527.8,63.2 526.6,65.1 525.6,67.1 524.4,68.9 523.2,70.5 521.8,72.2 520.4,73.7 519.2,74.8 517.2,76.1 515.3,76.4 513.6,76.3 511.5,75.4 509.9,74.6 508.1,73.6 506.3,72.4 504.4,71.1 502.8,69.9 501.2,68.5 499.6,67.0 497.9,65.5 496.3,64.2 494.7,62.8 493.0,61.5 491.4,60.2 489.8,59.1Z M519.1,120.4 521.1,120.2 523.2,120.2 524.9,120.3 526.9,120.7 528.9,121.5 530.7,122.3 532.9,123.3 535.4,124.2 537.2,124.6 539.3,125.1 541.5,125.5 543.6,125.9 545.6,126.2 547.6,126.5 549.5,126.7 551.3,126.8 553.4,126.7 555.3,126.6 557.4,126.4 559.6,126.2 561.9,125.8 564.0,125.3 566.1,124.7 568.1,124.0 570.2,123.2 572.1,122.5 573.8,121.9 576.2,121.2 578.1,120.6 580.0,120.2 582.0,120.0 584.0,120.0 585.9,120.2 588.0,120.7 588.2,119.5 586.2,119.0 584.0,118.7 581.9,118.7 579.8,118.8 577.8,119.2 575.7,119.8 573.4,120.5 571.6,121.0 569.6,121.7 567.6,122.5 565.6,123.2 563.6,123.8 561.6,124.2 559.4,124.5 557.3,124.8 555.2,124.9 553.3,125.0 551.3,125.1 549.6,125.1 547.8,124.9 545.8,124.6 543.9,124.3 541.8,123.9 539.7,123.5 537.6,123.1 535.8,122.6 533.4,121.8 531.3,120.9 529.5,120.1 527.3,119.3 525.1,118.9 523.2,118.9 521.0,118.9 518.9,119.2Z M589.2,115.8 590.9,117.4 592.6,119.0 594.2,120.4 595.7,121.9 596.9,123.1 598.5,124.6 599.9,125.8 601.5,127.1 603.2,128.6 604.9,130.0 606.6,131.4 608.5,132.9 610.5,134.3 612.2,135.5 614.4,136.7 616.9,137.1 618.8,137.2 621.1,137.0 623.4,136.7 625.5,136.1 627.3,135.1 629.0,134.1 630.8,133.1 632.7,132.3 634.7,131.6 636.8,130.9 638.9,130.3 640.8,130.0 640.6,128.8 638.6,129.0 636.5,129.5 634.3,130.2 632.2,130.9 630.2,131.7 628.3,132.7 626.5,133.7 624.9,134.5 623.0,135.0 620.9,135.4 618.8,135.5 617.1,135.5 615.0,135.1 613.1,134.0 611.5,132.9 609.6,131.5 607.6,130.1 605.9,128.7 604.2,127.4 602.5,125.9 600.9,124.6 599.5,123.4 597.9,122.0 596.7,120.8 595.1,119.4 593.5,118.0 591.8,116.4 590.1,114.9Z" fill="#000" stroke="#000" stroke-width="0.2"/>
</g>
<line x1="56.5" y1="321.5" x2="685.5" y2="321.5" stroke="#7a7a7a" stroke-width="1" stroke-dasharray="3.2,0.8"/>
<g clip-path="url(#cr1)">
<use href="#thin" transform="translate(0.0 233.2)" fill="none" stroke="#1c1c1c" stroke-width="1.15" stroke-linejoin="round"/>
<path d="M55.4,389.6 57.1,389.6 59.6,389.1 62.1,388.7 63.9,388.8 65.9,389.1 68.3,389.7 70.5,390.2 72.4,390.6 74.5,391.1 76.7,391.7 78.9,392.2 81.1,392.6 83.5,392.8 85.9,392.9 88.3,392.8 90.5,392.7 92.7,392.4 95.3,391.8 97.5,391.0 99.4,390.2 101.3,389.7 103.3,389.2 105.5,388.7 107.8,387.8 110.0,386.7 112.0,385.5 113.8,384.2 115.4,382.8 117.0,381.4 118.7,379.9 120.4,378.3 121.9,376.9 123.3,375.6 124.7,374.5 126.3,373.3 127.9,372.1 129.4,371.2 131.1,370.1 132.6,369.5 134.3,369.4 135.7,369.6 137.1,370.3 138.6,371.3 139.8,372.3 141.2,373.6 142.8,375.0 144.6,376.4 146.4,377.8 148.1,379.0 149.7,380.3 151.4,381.7 153.1,383.2 154.8,384.5 156.6,385.7 158.7,386.9 160.9,388.0 162.9,388.7 164.9,389.2 167.0,389.7 169.3,390.1 171.6,390.3 173.8,390.3 175.9,390.3 178.0,390.3 180.1,390.2 182.3,390.0 184.4,389.7 186.4,389.3 188.5,389.0 190.7,389.0 192.7,389.0 194.9,389.3 196.6,390.1 198.5,391.2 200.5,392.3 202.4,393.3 204.2,394.3 205.9,395.5 207.9,396.7 210.3,398.0 212.5,398.5 214.7,398.9 217.0,399.2 219.3,399.4 221.6,399.6 224.0,399.4 226.3,399.1 228.3,398.7 230.4,398.3 232.4,398.0 234.5,397.6 236.7,397.1 238.8,396.6 240.8,396.1 243.2,395.5 245.4,394.9 247.4,394.2 249.4,393.6 251.3,393.1 253.5,392.6 255.7,392.1 257.9,391.3 260.5,390.0 262.5,388.6 264.1,387.5 266.1,386.0 267.4,385.1 264.6,380.9 263.2,381.8 261.1,383.1 259.5,384.2 257.8,385.3 255.9,386.1 254.4,386.3 252.5,386.6 250.4,386.7 248.2,386.9 245.9,387.1 243.6,387.4 241.5,387.7 239.2,388.1 237.3,388.3 235.2,388.6 233.0,388.9 230.9,389.2 229.0,389.5 226.8,389.8 225.0,390.1 223.4,390.2 221.6,390.2 220.0,390.2 218.2,389.9 216.2,389.7 214.4,389.3 212.9,389.0 211.0,388.8 209.1,388.3 206.8,387.7 204.4,387.3 202.1,386.9 199.7,386.8 197.3,386.7 195.1,386.9 192.5,386.6 190.3,386.8 188.1,387.0 186.1,387.3 184.0,387.7 182.0,388.0 180.0,388.1 178.0,388.1 176.0,388.0 174.0,387.5 172.1,387.0 170.1,386.4 168.3,385.6 166.5,384.7 165.1,383.9 163.7,382.9 162.2,381.7 160.8,380.4 159.6,379.1 158.3,377.6 156.8,376.1 155.2,374.4 153.5,372.8 151.9,371.2 150.2,369.6 148.3,368.1 146.3,367.0 144.3,366.0 142.3,365.1 139.7,364.2 136.8,363.9 134.5,364.1 132.0,364.2 129.3,364.6 126.8,365.3 124.8,366.0 122.6,366.9 120.4,368.0 118.3,369.4 116.5,371.0 114.8,372.5 113.3,374.0 111.8,375.4 110.2,376.7 108.7,378.1 107.3,379.4 106.0,380.4 104.7,381.4 103.0,382.2 101.2,383.0 99.2,383.8 97.1,384.8 95.2,385.9 93.5,386.7 91.5,387.4 89.8,387.8 87.8,388.1 85.7,388.4 83.6,388.5 81.5,388.4 79.7,388.1 77.7,387.7 75.7,387.1 73.8,386.3 72.0,385.5 70.1,384.7 68.1,383.6 66.4,382.3 64.3,381.1 61.7,379.5 59.3,378.0 57.6,377.4Z M230.8,390.9 232.9,390.8 235.0,390.7 237.2,390.7 239.1,390.7 241.0,390.9 242.9,391.3 244.7,391.7 246.6,392.2 248.6,392.7 250.8,393.2 253.0,393.6 255.4,394.0 257.7,394.3 260.0,394.6 262.4,394.8 264.4,395.0 265.8,395.1 266.2,388.1 264.8,388.1 262.8,388.0 260.5,388.0 258.2,387.9 256.2,387.7 254.0,387.5 251.7,387.2 249.5,387.0 247.4,386.9 245.4,386.8 243.4,386.7 241.2,386.7 239.0,386.9 236.8,387.3 234.7,387.8 232.5,388.3 230.5,388.7Z M57.1,394.3 58.9,393.8 61.3,393.1 63.8,392.3 65.9,391.5 68.0,390.6 69.8,389.9 70.4,389.7 69.6,386.7 69.0,386.8 67.1,387.0 64.8,387.3 62.6,387.5 60.1,387.9 57.6,388.2 55.9,388.5Z M105.8,387.2 108.3,386.6 110.4,385.7 112.4,384.6 114.1,383.4 115.6,382.4 117.2,381.5 119.0,380.7 120.7,379.9 122.4,379.3 124.2,378.7 126.1,378.0 128.1,377.5 129.6,377.1 131.5,376.8 133.6,376.8 135.5,376.5 136.9,376.2 138.6,376.4 139.8,376.7 141.6,377.4 143.6,378.3 145.6,379.3 147.6,380.4 149.5,381.4 151.3,382.5 153.1,383.7 155.0,384.9 156.8,386.1 158.5,387.2 160.9,388.3 163.1,389.2 164.1,389.5 165.1,387.1 164.2,386.7 162.3,385.6 160.3,384.2 158.9,383.1 157.4,381.8 155.8,380.3 154.1,378.8 152.3,377.2 150.5,375.8 148.7,374.4 146.7,373.0 144.7,371.7 142.8,370.5 140.8,369.4 137.7,368.5 135.0,368.4 133.4,368.4 131.0,368.4 128.2,368.7 126.0,369.2 123.6,369.9 121.2,370.7 119.0,371.7 117.0,372.9 115.2,374.2 113.4,375.5 111.6,376.9 110.0,378.4 108.5,379.9 107.3,381.3 106.1,382.6 104.4,383.9Z M59.8,392.9 61.5,392.8 64.0,392.6 66.6,392.3 69.7,391.2 72.3,389.2 74.0,387.3 75.4,385.3 76.6,383.3 77.9,381.4 79.1,379.5 80.3,377.6 81.6,375.7 82.6,374.2 83.8,372.6 85.0,370.9 86.3,369.2 87.5,367.3 88.7,365.3 89.9,363.2 91.0,361.3 92.0,359.8 93.1,358.4 94.2,357.5 95.6,356.7 97.4,355.7 99.3,354.8 101.2,354.3 103.2,353.9 105.1,353.8 107.0,353.9 109.1,354.6 110.7,355.2 112.7,356.1 115.1,357.0 117.3,357.6 119.3,358.1 121.4,358.5 123.6,358.9 125.6,359.2 127.4,359.5 129.6,359.8 131.3,359.9 133.5,359.9 135.3,359.8 137.4,359.8 139.5,359.6 141.8,359.3 144.0,359.0 146.1,358.4 148.2,357.8 150.3,357.1 152.3,356.4 154.1,355.8 156.2,355.2 158.3,354.5 160.2,354.1 162.0,353.8 164.0,353.7 165.9,353.8 167.8,354.1 169.6,354.7 171.3,355.6 173.0,356.7 174.9,357.8 176.9,358.8 178.9,359.6 180.8,360.4 182.3,361.3 183.7,362.8 185.2,361.5 183.7,359.7 181.8,358.5 179.7,357.6 177.8,356.8 176.0,355.9 174.2,354.8 172.4,353.6 170.5,352.6 168.4,351.9 166.2,351.5 164.0,351.3 161.8,351.4 159.7,351.7 157.7,352.2 155.5,352.9 153.4,353.6 151.5,354.2 149.5,355.0 147.5,355.8 145.5,356.5 143.6,357.0 141.5,357.5 139.3,357.8 137.2,358.0 135.2,358.2 133.5,358.3 131.4,358.3 129.8,358.2 127.6,357.9 125.9,357.6 123.9,357.3 121.7,356.9 119.6,356.5 117.7,356.1 115.6,355.5 113.4,354.5 111.4,353.6 109.7,352.8 107.4,352.0 105.2,351.7 103.1,351.5 100.8,351.4 98.5,351.6 96.0,352.2 93.8,352.9 91.9,353.7 89.9,355.0 88.2,356.9 87.0,358.7 85.7,360.7 84.4,362.7 83.3,364.6 82.1,366.2 80.9,367.9 79.6,369.5 78.4,371.1 77.2,372.7 75.8,374.7 74.6,376.6 73.4,378.4 72.1,380.2 70.7,382.1 69.4,383.7 68.5,384.8 66.9,385.8 65.4,386.1 63.8,386.1 61.8,385.7 60.2,385.5Z M56.7,420.1 58.2,419.9 60.3,419.5 62.7,419.2 65.1,418.9 67.1,418.8 69.3,419.0 71.2,419.4 73.0,419.8 74.8,420.5 76.5,421.3 78.2,422.4 80.1,423.5 82.1,424.5 84.3,425.6 86.6,426.5 88.8,427.1 91.7,427.6 94.7,427.5 97.6,426.3 99.9,424.6 101.7,422.8 103.4,421.3 104.6,419.4 105.7,417.3 106.9,415.2 108.3,413.7 109.9,412.1 108.5,410.5 106.7,412.0 105.1,413.4 102.9,414.7 100.9,415.9 99.1,417.1 97.6,418.7 96.0,420.4 94.8,421.5 93.6,422.0 92.1,422.0 90.0,421.7 88.2,421.2 86.2,420.6 84.0,419.9 82.0,419.3 80.1,418.6 78.2,417.7 76.1,417.0 73.9,416.4 71.8,416.0 69.6,415.8 67.1,415.8 64.9,415.8 62.4,415.8 60.0,415.9 57.8,416.0 56.3,416.1Z M56.3,422.1 58.1,422.4 60.6,422.8 63.4,423.1 65.7,423.0 67.8,423.0 69.6,423.3 71.0,423.9 72.3,424.7 73.8,425.8 75.7,426.8 77.6,427.5 79.5,428.4 81.6,429.3 83.7,430.3 85.7,431.1 88.2,432.0 90.9,432.0 93.3,430.9 95.2,429.6 97.0,428.1 98.7,426.3 100.2,424.5 101.6,422.5 102.9,420.6 104.0,419.0 102.0,417.4 100.7,419.0 99.3,420.7 97.7,422.4 96.3,423.9 94.6,425.3 92.9,426.6 91.4,427.5 90.1,428.1 89.0,428.1 87.3,427.5 85.9,426.4 84.3,425.1 82.5,423.6 80.7,422.2 78.9,420.9 76.9,419.8 74.8,419.1 72.4,418.6 69.9,418.5 67.4,419.0 65.3,419.5 63.4,419.7 61.0,419.6 58.5,419.3 56.7,419.1Z M149.7,405.4 151.4,406.3 153.2,407.3 155.2,408.4 157.0,409.6 158.7,410.6 160.5,412.1 162.0,413.5 163.8,415.0 165.6,416.4 167.2,417.6 169.0,418.8 170.9,419.9 173.1,421.0 175.2,421.8 177.4,422.5 179.6,423.0 181.9,423.4 184.2,423.7 186.4,424.0 188.7,424.1 190.9,423.9 193.2,423.7 195.4,423.5 197.6,423.2 199.7,423.0 201.8,422.7 203.9,422.3 205.9,421.8 207.9,421.2 209.8,420.7 211.6,420.3 213.9,419.8 216.0,419.4 218.0,419.1 220.0,418.8 221.8,418.5 223.9,418.5 225.8,418.6 227.7,418.6 230.1,418.6 231.9,418.5 233.7,418.3 235.7,418.1 237.7,418.0 239.9,417.9 239.6,414.4 237.4,414.5 235.3,414.8 233.4,415.0 231.6,415.2 229.9,415.4 227.7,415.5 225.8,415.5 223.9,415.4 221.8,415.5 219.8,415.4 217.8,415.3 215.7,415.3 213.5,415.3 211.2,415.1 209.3,415.0 207.2,414.9 205.2,414.8 203.1,414.7 201.1,414.7 199.1,414.8 197.0,414.9 194.8,415.0 192.6,415.1 190.5,415.1 188.4,415.1 186.5,415.2 184.5,415.4 182.4,415.5 180.5,415.5 178.7,415.5 176.9,415.3 175.2,415.0 173.5,414.4 171.6,413.7 169.8,412.9 168.0,412.1 166.1,411.3 164.3,410.3 162.4,409.3 160.1,408.2 158.3,407.3 156.3,406.4 154.2,405.5 152.1,404.7 150.3,404.0Z M170.1,420.7 172.1,422.0 174.1,423.1 176.0,424.2 178.3,424.9 180.7,425.0 182.8,425.0 184.9,424.9 186.8,424.9 189.0,424.9 191.3,424.8 193.5,424.7 194.5,424.5 194.5,422.5 193.5,422.4 191.5,422.1 189.3,421.7 187.2,421.3 185.1,420.9 182.9,420.7 181.1,420.5 179.4,420.1 177.6,419.6 175.7,419.2 173.7,418.5 171.6,417.8Z M88.6,446.5 90.0,445.8 92.0,444.8 94.2,443.8 96.0,442.9 97.5,442.7 99.3,443.0 101.3,443.4 103.3,443.9 105.4,444.5 107.4,445.2 109.7,445.8 111.0,446.1 111.8,444.0 110.7,443.4 108.8,442.2 107.0,441.0 104.8,439.8 102.6,438.9 100.1,438.1 97.1,438.1 94.4,438.9 92.1,440.3 90.2,442.1 88.5,443.8 87.4,444.9Z M156.7,446.5 158.2,446.0 160.0,445.5 162.1,444.9 164.3,444.3 166.6,443.6 168.9,442.9 171.0,442.2 172.9,441.7 175.0,441.1 177.3,440.5 179.4,439.9 181.3,439.5 183.2,439.1 185.0,438.7 187.1,438.3 189.2,438.0 191.1,437.8 192.9,437.7 194.8,437.8 196.7,437.9 198.6,438.1 200.5,438.5 202.5,438.9 204.6,439.5 206.7,440.1 208.8,440.8 210.6,441.5 212.7,442.7 213.7,443.3 214.9,441.6 213.8,440.8 211.8,439.5 209.8,438.4 207.7,437.5 205.5,436.6 203.4,435.8 201.4,435.2 199.3,434.6 197.2,434.1 195.1,433.8 192.9,433.6 190.9,433.6 188.7,433.7 186.5,434.0 184.2,434.3 182.3,434.6 180.3,435.1 178.3,435.6 176.1,436.1 173.7,436.9 171.6,437.7 169.7,438.4 167.6,439.3 165.4,440.2 163.2,441.2 161.0,442.2 159.1,443.1 157.3,443.9 156.0,444.5Z M225.8,444.4 227.8,443.2 229.7,441.9 231.5,440.5 233.2,439.1 234.8,437.5 236.5,436.0 238.1,434.5 239.8,432.9 241.5,431.3 243.1,430.0 244.2,429.3 245.5,428.8 247.6,429.2 249.3,429.5 251.4,429.7 253.7,430.0 255.9,430.3 258.1,430.5 260.5,430.7 263.1,430.9 265.2,431.0 265.8,431.1 266.2,426.1 265.5,426.1 263.5,425.9 260.9,425.7 258.6,425.5 256.5,425.3 254.2,425.0 251.9,424.7 249.7,424.6 248.0,424.6 244.9,424.6 242.2,425.7 240.6,427.2 239.1,428.9 237.6,430.8 236.2,432.6 234.7,434.2 233.2,435.9 231.7,437.5 230.2,439.0 228.6,440.4 226.8,441.8 224.9,443.2Z M251.2,444.2 253.6,444.2 255.8,444.2 257.8,444.2 259.4,444.2 262.6,444.5 264.6,444.8 265.9,445.1 266.1,439.1 264.6,439.3 262.4,439.7 259.0,440.4 257.4,440.8 255.4,441.3 253.2,441.8 251.0,442.4Z M163.4,343.6 164.9,345.0 166.2,346.6 167.9,348.6 169.3,350.1 170.9,351.7 172.6,353.3 174.1,354.8 175.6,356.3 176.8,357.5 178.3,359.1 179.7,360.3 181.3,361.7 183.1,363.1 184.8,364.5 186.6,365.9 188.6,367.4 190.5,368.8 192.3,370.1 194.9,371.5 197.8,372.0 199.9,371.9 202.2,371.6 204.7,371.1 206.9,370.3 208.7,369.1 210.3,367.8 212.0,366.6 211.0,364.7 209.0,365.4 207.1,366.1 205.5,366.7 203.8,367.0 201.8,367.2 199.8,367.1 198.2,367.0 196.6,366.8 195.0,365.8 193.4,364.7 191.6,363.4 189.7,361.9 187.9,360.6 186.3,359.2 184.6,357.8 183.0,356.5 181.7,355.3 180.1,354.0 178.8,352.8 177.2,351.4 175.6,350.0 173.8,348.5 172.0,347.0 170.3,345.8 168.3,344.4 166.5,343.0 164.6,342.0Z M163.4,345.4 164.8,346.9 166.2,348.5 167.8,350.5 169.0,351.9 170.5,353.2 172.0,354.7 173.4,356.1 174.9,357.6 176.2,359.0 177.5,360.5 178.8,362.0 180.2,363.4 181.6,364.9 183.1,366.5 184.5,368.2 186.0,369.9 187.5,371.6 189.1,373.1 190.8,374.6 192.5,376.0 194.2,377.2 195.4,375.7 193.9,374.3 192.4,372.8 190.9,371.3 189.6,369.7 188.3,368.0 187.0,366.2 185.7,364.4 184.4,362.7 183.1,361.0 181.8,359.4 180.5,357.8 179.1,356.3 177.7,354.8 176.3,353.3 174.8,351.8 173.2,350.4 171.8,349.0 170.4,347.9 168.3,346.3 166.5,344.9 164.6,343.8Z M56.7,364.1 58.1,363.7 60.1,363.3 62.4,362.7 64.9,361.9 67.2,360.8 69.0,359.7 70.8,358.4 72.5,357.0 74.3,355.6 75.9,354.1 77.5,352.8 79.2,351.4 80.9,349.8 82.5,348.4 84.0,347.0 85.5,345.7 87.1,344.4 88.7,343.2 90.3,342.0 91.8,340.8 93.5,339.7 95.3,338.5 97.1,337.4 98.9,336.4 100.7,335.4 102.5,334.4 104.3,333.6 106.3,332.8 108.4,332.0 110.6,331.3 112.7,330.7 114.5,330.4 116.8,330.6 118.8,331.3 120.8,332.1 122.5,333.0 124.4,333.9 126.2,334.9 128.1,335.9 130.1,337.2 132.3,338.2 134.7,338.1 136.8,337.0 138.8,335.5 140.7,334.3 142.6,333.3 144.7,332.3 146.7,331.4 148.7,330.7 150.7,330.2 152.6,329.8 154.6,329.7 156.6,329.7 158.6,330.0 159.7,330.2 160.0,328.6 158.9,328.3 156.8,328.0 154.6,327.9 152.4,328.1 150.3,328.5 148.2,329.0 146.0,329.7 143.9,330.6 141.8,331.6 139.7,332.7 137.7,334.0 135.8,335.4 134.1,336.3 132.7,336.4 131.0,335.6 129.1,334.3 127.1,333.2 125.3,332.3 123.4,331.3 121.5,330.4 119.4,329.5 117.1,328.8 114.5,328.6 112.3,328.9 110.0,329.5 107.8,330.3 105.7,331.0 103.6,331.9 101.7,332.8 99.8,333.8 98.0,334.8 96.2,335.8 94.3,336.9 92.5,338.1 90.8,339.3 89.2,340.5 87.5,341.7 85.9,343.0 84.3,344.3 82.7,345.7 81.2,347.0 79.7,348.5 78.0,350.0 76.3,351.4 74.7,352.7 73.1,354.2 71.4,355.6 69.7,357.0 68.0,358.2 66.4,359.2 64.2,360.2 61.9,360.9 59.6,361.5 57.7,362.0 56.3,362.3Z M57.0,376.4 58.4,375.6 60.4,374.6 62.7,373.2 64.6,371.9 66.2,370.6 67.8,369.2 69.4,367.7 71.0,366.4 72.6,365.1 74.2,363.9 75.8,362.7 77.4,361.4 79.0,360.2 80.6,358.9 82.3,357.6 83.9,356.3 85.5,355.0 87.2,353.5 88.8,352.0 90.4,350.6 91.9,349.2 93.6,347.9 95.4,346.6 97.2,345.4 98.9,344.4 100.7,343.4 102.6,342.4 104.5,341.7 106.3,340.9 108.3,340.3 110.2,339.8 112.2,339.3 114.2,338.8 116.3,338.4 118.4,338.0 120.4,337.8 122.6,337.7 124.8,337.8 126.9,337.9 129.3,338.1 131.7,338.3 133.4,338.4 133.6,336.4 131.9,336.3 129.5,336.1 127.1,335.9 124.8,335.8 122.6,335.7 120.2,335.8 118.1,336.1 115.9,336.4 113.8,336.9 111.8,337.4 109.7,337.8 107.7,338.4 105.7,339.1 103.7,339.8 101.8,340.6 99.8,341.6 97.9,342.6 96.1,343.8 94.3,345.0 92.4,346.3 90.7,347.7 89.0,349.1 87.4,350.6 85.8,352.0 84.3,353.4 82.7,354.8 81.0,356.0 79.4,357.3 77.8,358.6 76.2,359.8 74.6,361.1 73.0,362.3 71.4,363.5 69.8,364.8 68.1,366.2 66.5,367.7 64.9,369.1 63.4,370.3 61.6,371.6 59.5,372.8 57.4,373.9 56.0,374.6Z M57.0,378.6 58.4,377.8 60.4,376.7 62.7,375.4 64.6,374.0 66.2,372.6 67.8,371.2 69.5,369.7 71.1,368.3 72.6,366.9 74.2,365.6 75.8,364.3 77.4,362.9 79.0,361.6 80.7,360.3 82.3,359.0 83.9,357.7 85.6,356.4 87.2,354.9 88.8,353.4 90.4,352.0 91.9,350.6 93.6,349.3 95.4,347.9 97.2,346.7 98.9,345.6 100.7,344.5 102.6,343.6 104.4,342.9 106.3,342.1 108.3,341.5 110.2,340.9 109.7,339.0 107.7,339.6 105.7,340.3 103.7,341.0 101.8,341.8 99.8,342.8 97.9,343.9 96.1,345.0 94.2,346.3 92.4,347.7 90.7,349.1 89.0,350.5 87.4,352.0 85.8,353.4 84.2,354.8 82.6,356.2 81.0,357.5 79.4,358.8 77.8,360.1 76.2,361.4 74.6,362.7 73.0,364.0 71.4,365.4 69.7,366.7 68.1,368.2 66.5,369.7 64.9,371.1 63.4,372.4 61.6,373.7 59.4,375.0 57.4,376.1 56.0,376.8Z M54.2,388.5a5.8,5.8 0 1,0 11.6,0a5.8,5.8 0 1,0 -11.6,0Z" fill="#000" stroke="#000" stroke-width="0.2"/>
<use href="#thin" transform="translate(209.5 233.2)" fill="none" stroke="#1c1c1c" stroke-width="1.20" stroke-linejoin="round"/>
<path d="M265.9,275.8 267.3,275.9 269.2,276.1 271.4,276.2 273.8,276.4 276.3,276.6 278.7,276.8 280.8,277.1 282.9,277.4 285.2,277.7 287.4,278.1 289.6,278.4 291.6,278.7 293.4,279.0 295.7,279.3 297.9,279.6 299.7,279.8 301.6,279.8 303.7,279.9 305.8,279.8 307.9,279.7 310.2,279.3 312.4,278.7 314.6,278.0 316.7,277.4 318.6,276.9 320.6,276.4 322.7,275.8 324.8,275.3 326.7,274.9 328.8,274.4 330.8,273.9 332.8,273.5 334.7,273.1 337.1,272.7 339.5,272.4 341.7,272.1 343.1,271.9 342.9,269.7 341.4,269.9 339.2,270.1 336.8,270.5 334.3,270.9 332.4,271.2 330.3,271.7 328.2,272.1 326.2,272.6 324.2,273.1 322.1,273.6 320.0,274.1 318.0,274.6 316.1,275.2 313.9,275.8 311.7,276.5 309.7,277.1 307.7,277.4 305.7,277.5 303.7,277.6 301.6,277.6 299.8,277.5 298.1,277.3 296.0,277.0 293.8,276.7 291.9,276.5 289.9,276.1 287.8,275.8 285.5,275.4 283.3,275.1 281.1,274.8 278.9,274.5 276.5,274.3 274.0,274.1 271.5,273.9 269.3,273.8 267.4,273.7 266.1,273.6Z M265.9,281.3 267.3,281.4 269.2,281.5 271.4,281.6 273.8,281.7 276.3,281.8 278.7,282.0 280.8,282.1 283.0,282.3 285.2,282.5 287.5,282.8 289.6,283.0 291.6,283.2 293.5,283.4 295.7,283.6 297.9,283.8 299.7,283.9 301.6,283.9 303.8,283.8 305.9,283.6 308.0,283.3 310.2,282.9 312.3,282.3 314.6,281.7 316.7,281.1 318.6,280.6 320.6,280.0 322.7,279.4 324.9,278.8 326.8,278.1 328.9,277.4 331.0,276.6 332.9,275.9 334.8,275.3 337.2,274.7 339.6,274.3 341.7,273.9 343.2,273.6 342.8,271.4 341.3,271.6 339.2,272.0 336.7,272.5 334.2,273.1 332.2,273.7 330.2,274.4 328.1,275.2 326.1,276.0 324.1,276.6 322.1,277.2 320.0,277.8 318.0,278.3 316.1,278.8 313.9,279.4 311.7,280.1 309.7,280.6 307.6,281.0 305.6,281.3 303.6,281.5 301.6,281.7 299.8,281.6 298.1,281.5 295.9,281.3 293.7,281.1 291.9,280.9 289.9,280.7 287.7,280.5 285.4,280.2 283.2,280.0 281.0,279.8 278.8,279.7 276.4,279.5 273.9,279.4 271.5,279.3 269.3,279.2 267.4,279.1 266.1,279.1Z M266.0,284.5 267.4,284.6 269.3,284.6 271.6,284.7 273.9,284.9 276.1,285.2 277.9,285.7 279.8,286.3 281.7,287.1 283.7,287.9 285.7,288.7 287.5,289.6 289.4,290.4 291.3,291.4 293.2,292.3 295.0,293.3 296.7,294.1 298.6,295.1 300.5,296.1 302.3,297.0 304.0,297.8 305.9,298.6 308.0,299.4 310.1,299.7 312.4,299.8 314.8,299.3 317.0,298.2 318.8,296.6 320.5,294.8 322.0,293.4 323.3,292.1 324.8,290.7 326.4,288.8 327.6,287.3 328.9,285.5 330.2,283.6 331.5,281.8 332.8,280.2 334.2,278.6 335.7,277.0 337.1,275.7 338.5,274.6 340.3,273.5 342.6,272.7 343.3,272.5 342.7,270.3 341.9,270.5 339.4,271.4 337.2,272.7 335.7,273.9 334.1,275.4 332.5,277.0 331.0,278.7 329.7,280.4 328.3,282.3 327.0,284.2 325.7,285.9 324.6,287.4 323.1,289.1 321.7,290.4 320.4,291.7 318.8,293.2 317.2,294.9 315.7,296.3 314.1,297.2 312.2,297.5 310.3,297.5 308.6,297.2 306.8,296.5 304.9,295.7 303.3,295.0 301.6,294.1 299.6,293.0 297.7,292.1 296.1,291.2 294.2,290.3 292.3,289.3 290.4,288.4 288.5,287.5 286.6,286.6 284.6,285.8 282.6,284.9 280.6,284.2 278.6,283.5 276.5,283.0 274.2,282.6 271.7,282.4 269.4,282.3 267.4,282.3 266.0,282.3Z M265.8,288.8 267.5,289.1 269.9,289.6 272.3,290.3 274.0,291.0 275.8,291.8 277.5,292.7 279.3,293.8 280.8,294.8 282.4,296.1 283.9,297.4 285.5,298.8 287.1,300.2 288.8,301.6 290.4,303.1 292.0,304.6 293.7,305.9 295.6,307.3 297.6,308.5 299.5,309.6 301.1,310.4 303.6,311.5 306.0,311.6 308.4,311.1 310.9,309.6 312.3,308.3 313.7,306.7 315.2,304.9 316.5,303.1 317.7,301.2 318.7,299.2 319.8,297.3 321.0,295.7 322.1,294.3 323.4,292.9 324.8,291.3 326.4,289.4 327.5,287.9 328.8,286.2 330.1,284.4 331.4,282.5 332.6,280.8 333.8,279.2 334.8,278.0 336.9,276.0 338.5,274.9 339.9,274.1 342.5,273.2 343.2,273.1 342.8,270.9 341.9,271.0 339.1,271.9 337.3,272.9 335.4,274.3 333.2,276.4 332.0,277.8 330.8,279.4 329.5,281.2 328.2,283.0 326.9,284.9 325.7,286.5 324.6,288.0 323.1,289.8 321.7,291.4 320.4,292.8 319.2,294.3 317.9,296.1 316.7,298.1 315.7,300.0 314.5,301.9 313.3,303.5 312.0,305.2 310.7,306.7 309.5,307.8 307.5,309.0 305.8,309.4 304.2,309.2 302.1,308.4 300.6,307.6 298.8,306.5 296.9,305.4 295.1,304.1 293.5,302.8 291.9,301.4 290.3,299.9 288.7,298.4 287.0,297.0 285.4,295.7 283.8,294.3 282.2,293.0 280.5,291.8 278.7,290.7 276.8,289.7 274.9,288.8 273.1,288.1 270.4,287.4 267.9,286.9 266.2,286.6Z M342.9,271.9 344.2,272.1 346.2,272.3 348.4,272.6 350.7,273.0 352.7,273.4 354.5,274.1 356.2,275.1 357.9,276.3 359.5,277.6 361.4,278.9 363.2,280.1 365.0,281.4 366.9,282.7 368.7,283.8 370.7,285.0 372.6,286.0 374.3,286.9 376.3,288.0 378.5,289.0 380.9,289.3 383.2,289.0 385.9,288.5 387.8,288.2 390.0,287.8 392.3,287.4 394.4,287.1 396.5,287.0 398.7,287.0 400.7,287.2 402.2,287.3 404.6,288.1 407.1,288.1 409.3,287.6 411.6,287.0 413.5,286.6 415.7,286.7 417.7,287.1 419.7,287.6 421.5,288.3 423.5,289.1 425.6,289.9 428.0,290.9 430.2,291.7 430.9,292.0 431.7,289.8 431.0,289.6 428.9,288.7 426.4,287.8 424.3,286.9 422.4,286.1 420.4,285.4 418.2,284.8 415.9,284.4 413.3,284.4 411.1,284.7 408.8,285.4 406.8,285.8 405.0,285.8 402.8,285.1 400.9,284.9 398.8,284.7 396.5,284.7 394.2,284.8 392.0,285.2 389.6,285.6 387.4,286.0 385.5,286.3 382.9,286.7 380.9,287.0 379.1,286.8 377.4,285.9 375.4,284.9 373.7,284.0 371.8,283.0 369.9,281.9 368.1,280.8 366.3,279.5 364.5,278.3 362.7,277.0 360.9,275.8 359.2,274.5 357.5,273.2 355.5,272.0 353.3,271.2 351.1,270.7 348.7,270.3 346.5,270.1 344.5,269.8 343.1,269.7Z M342.8,272.7 344.2,272.9 346.2,273.2 348.4,273.5 350.7,273.9 352.7,274.4 354.5,275.1 356.2,276.2 357.8,277.5 359.5,278.8 361.2,280.1 362.8,281.3 364.5,282.5 366.1,283.7 367.7,284.9 369.5,286.2 371.3,287.6 373.1,288.9 374.9,290.1 376.8,291.5 378.6,292.8 380.5,294.1 382.2,295.2 384.4,296.4 386.4,297.2 388.5,297.6 390.9,297.0 393.1,295.7 394.6,294.8 396.4,293.8 398.3,292.7 400.1,291.7 402.1,290.4 403.9,289.1 405.5,288.4 406.8,288.3 408.3,289.0 410.1,290.1 411.9,291.2 413.8,292.2 415.8,293.4 417.9,294.3 420.3,294.8 422.8,294.4 425.2,293.8 427.5,293.2 429.9,292.5 431.6,292.0 431.0,289.8 429.3,290.3 426.9,291.0 424.6,291.6 422.3,292.2 420.3,292.5 418.5,292.1 416.9,291.3 415.0,290.2 413.1,289.2 411.3,288.1 409.4,286.9 407.2,286.1 404.9,286.1 402.7,287.2 400.8,288.5 398.9,289.7 397.1,290.7 395.3,291.8 393.5,292.8 391.9,293.7 389.9,294.9 388.5,295.4 387.1,295.0 385.4,294.3 383.4,293.2 381.7,292.2 380.0,290.9 378.1,289.6 376.3,288.3 374.5,287.0 372.7,285.7 370.9,284.4 369.1,283.1 367.5,281.9 365.8,280.7 364.2,279.5 362.6,278.3 360.9,277.0 359.3,275.7 357.5,274.3 355.5,273.1 353.4,272.2 351.1,271.7 348.8,271.2 346.5,270.9 344.5,270.7 343.2,270.5Z M343.0,274.4 344.6,274.4 346.7,274.3 348.8,274.6 350.4,275.4 351.7,276.7 353.1,278.3 354.5,280.1 355.9,281.9 357.3,283.6 358.6,285.3 360.0,287.2 361.3,288.9 362.6,290.5 364.2,292.2 365.9,293.7 368.0,294.8 370.0,295.3 372.2,295.7 374.4,295.9 376.5,296.1 378.6,296.2 380.5,296.3 382.6,296.5 384.3,296.9 386.2,297.5 388.2,298.1 390.4,298.7 392.5,299.1 394.6,299.4 396.8,299.7 399.1,299.9 401.4,300.1 403.6,300.0 405.7,299.8 407.8,299.5 409.9,299.1 411.8,298.8 413.6,298.5 415.8,298.2 417.5,297.9 419.3,297.9 421.2,298.3 423.1,299.1 425.4,300.0 427.6,301.0 429.5,301.9 430.8,302.5 431.8,300.5 430.4,299.8 428.5,298.9 426.3,297.9 424.0,296.9 421.8,296.1 419.6,295.6 417.4,295.6 415.4,295.9 413.2,296.3 411.5,296.5 409.5,296.8 407.5,297.2 405.4,297.5 403.4,297.7 401.4,297.8 399.3,297.7 397.1,297.5 395.0,297.2 392.9,296.8 390.9,296.5 388.8,295.9 386.9,295.3 384.9,294.7 383.0,294.3 380.7,294.0 378.6,293.9 376.7,293.8 374.7,293.6 372.5,293.4 370.5,293.1 368.8,292.6 367.2,291.8 365.8,290.6 364.3,289.0 363.1,287.5 361.8,285.8 360.5,284.0 359.1,282.1 357.7,280.4 356.3,278.6 354.8,276.8 353.3,275.1 351.7,273.6 349.5,272.4 346.9,272.0 344.5,272.1 343.0,272.2Z M343.0,274.6 344.6,274.7 346.8,274.8 349.0,275.2 350.5,276.2 351.8,277.4 353.2,279.1 354.5,280.9 355.9,282.8 357.2,284.5 358.4,286.2 359.7,287.9 360.9,289.6 362.0,291.3 363.1,292.7 364.7,294.7 366.1,296.4 367.6,298.0 369.1,299.6 370.8,301.3 372.7,302.7 375.0,303.7 377.7,303.9 380.1,303.6 382.6,303.1 384.8,302.5 386.8,301.9 388.8,302.1 390.7,302.6 393.0,303.4 395.1,304.1 397.0,305.0 399.2,305.8 401.5,306.5 403.6,306.9 405.7,307.2 407.9,307.5 410.1,307.6 412.3,307.5 414.4,307.3 416.5,307.0 418.7,306.6 420.9,306.1 422.9,305.5 425.2,304.8 427.5,304.1 429.5,303.3 431.1,302.8 431.7,302.6 430.9,300.4 430.3,300.6 428.7,301.2 426.7,301.9 424.5,302.6 422.3,303.3 420.3,303.9 418.2,304.4 416.1,304.8 414.2,305.0 412.2,305.2 410.2,305.3 408.1,305.2 406.0,305.0 403.9,304.6 402.1,304.3 399.9,303.6 397.9,302.8 395.9,302.0 393.7,301.2 391.4,300.4 389.2,299.8 386.6,299.7 384.2,300.3 382.1,300.9 379.7,301.4 377.6,301.6 375.5,301.5 373.9,300.7 372.3,299.5 370.7,298.0 369.2,296.4 367.8,294.9 366.5,293.3 364.9,291.3 363.9,289.9 362.8,288.3 361.5,286.6 360.3,284.8 359.0,283.1 357.7,281.4 356.4,279.6 355.0,277.7 353.5,275.9 351.9,274.3 349.8,273.1 347.1,272.5 344.6,272.4 343.0,272.4Z M431.8,291.8 433.0,291.2 434.8,290.4 436.9,289.5 439.1,288.5 441.3,287.7 443.2,287.1 445.2,286.6 447.3,286.1 449.3,285.7 451.3,285.3 453.0,284.9 455.3,284.5 457.3,284.2 459.3,283.7 461.4,283.0 463.2,282.0 465.0,280.9 466.8,279.9 468.6,279.0 470.7,278.1 472.8,277.1 474.7,276.3 476.0,275.8 475.0,273.6 473.7,274.2 471.9,275.0 469.7,276.0 467.6,276.9 465.7,277.9 463.8,279.0 462.1,280.0 460.4,280.9 458.7,281.5 456.9,281.9 454.9,282.2 452.6,282.7 450.8,283.0 448.9,283.4 446.8,283.9 444.7,284.3 442.6,284.9 440.5,285.6 438.3,286.4 436.0,287.4 433.9,288.3 432.1,289.1 430.8,289.6Z M430.8,291.7 432.7,292.7 435.2,293.4 437.3,294.0 439.6,294.5 441.9,294.6 444.0,294.5 446.1,294.0 448.3,293.3 450.3,292.4 452.1,291.6 454.1,290.7 456.1,289.7 458.0,288.7 459.7,287.7 461.6,286.7 463.5,285.6 465.2,284.6 466.8,283.8 468.6,283.0 470.9,282.3 473.2,281.7 475.1,281.3 475.8,281.1 475.2,278.9 474.6,279.0 472.7,279.5 470.3,280.1 467.9,280.8 465.8,281.7 464.0,282.6 462.3,283.6 460.5,284.7 458.7,285.7 456.9,286.6 455.0,287.6 453.1,288.6 451.2,289.5 449.4,290.3 447.5,291.1 445.4,291.8 443.7,292.2 441.9,292.4 439.9,292.2 437.8,291.7 435.9,291.2 433.6,290.5 431.8,289.7Z M431.8,302.7 433.2,302.1 435.1,301.2 437.5,300.2 439.5,299.4 441.3,298.8 443.3,298.3 445.4,297.6 447.5,296.9 449.6,295.9 451.4,294.9 453.2,293.8 455.0,292.6 456.7,291.3 458.4,290.2 459.9,289.1 461.7,288.0 463.5,286.8 465.1,285.9 466.7,285.2 468.4,284.7 470.6,284.5 472.9,284.5 474.8,284.6 475.5,284.5 475.5,282.3 474.9,282.3 473.0,282.2 470.5,282.2 468.1,282.4 465.9,283.0 464.1,283.8 462.3,284.9 460.5,286.1 458.7,287.2 457.1,288.3 455.4,289.5 453.7,290.7 451.9,291.9 450.2,293.0 448.6,293.9 446.7,294.7 444.6,295.4 442.6,296.1 440.6,296.6 438.8,297.2 436.6,298.0 434.2,299.1 432.2,300.0 430.8,300.7Z M431.0,302.8 432.5,303.2 434.7,303.8 437.1,304.3 439.4,304.3 441.6,304.0 443.8,303.3 446.0,302.4 447.9,301.4 449.8,300.0 451.7,298.7 453.5,297.3 455.3,296.0 457.1,294.6 458.8,293.3 460.5,292.3 462.4,291.6 464.3,291.0 466.4,290.6 468.5,290.1 470.8,289.7 473.1,289.3 475.0,288.9 475.7,288.8 475.3,286.6 474.7,286.7 472.8,287.0 470.4,287.4 468.0,287.8 465.9,288.3 463.8,288.8 461.6,289.4 459.5,290.3 457.6,291.4 455.7,292.7 453.9,294.1 452.1,295.5 450.3,296.8 448.5,298.2 446.7,299.4 445.0,300.4 443.1,301.2 441.1,301.7 439.2,302.0 437.3,302.0 435.2,301.6 433.1,301.0 431.6,300.6Z M265.9,276.4 267.3,276.5 269.1,276.6 271.3,276.7 273.8,276.9 276.2,277.1 278.6,277.3 280.7,277.5 282.9,277.8 285.1,278.1 287.3,278.5 289.5,278.8 291.5,279.1 293.4,279.4 295.6,279.7 297.8,280.0 299.7,280.1 301.6,280.2 303.7,280.2 305.8,280.2 308.0,280.0 310.2,279.6 312.5,279.0 314.7,278.2 316.8,277.6 318.7,277.1 320.7,276.6 322.7,276.1 324.8,275.5 326.8,275.1 328.8,274.6 330.8,274.1 332.8,273.7 334.7,273.3 337.1,272.9 339.5,272.6 341.7,272.3 343.2,272.1 342.8,269.5 341.3,269.7 339.2,270.0 336.7,270.3 334.3,270.7 332.3,271.1 330.3,271.5 328.2,271.9 326.1,272.4 324.2,272.9 322.1,273.4 320.0,273.9 317.9,274.4 316.0,274.9 313.8,275.5 311.6,276.2 309.6,276.8 307.6,277.1 305.7,277.2 303.7,277.3 301.6,277.2 299.9,277.1 298.2,277.0 296.0,276.7 293.8,276.4 292.0,276.1 290.0,275.7 287.8,275.4 285.6,275.0 283.3,274.6 281.1,274.3 278.9,274.1 276.5,273.8 274.0,273.6 271.6,273.4 269.3,273.2 267.5,273.1 266.1,273.0Z M265.9,281.9 267.3,282.0 269.2,282.0 271.4,282.1 273.8,282.2 276.3,282.3 278.7,282.4 280.8,282.6 283.0,282.8 285.2,283.0 287.4,283.2 289.6,283.4 291.6,283.6 293.4,283.8 295.7,283.9 297.9,284.1 299.7,284.3 301.6,284.3 303.8,284.2 305.9,283.9 308.0,283.6 310.2,283.2 312.4,282.6 314.7,281.9 316.8,281.3 318.7,280.8 320.7,280.3 322.8,279.7 324.9,279.0 326.9,278.3 329.0,277.6 331.0,276.8 333.0,276.1 334.9,275.5 337.2,274.9 339.6,274.4 341.7,274.1 343.2,273.8 342.8,271.2 341.3,271.5 339.1,271.8 336.6,272.3 334.1,272.9 332.2,273.5 330.1,274.2 328.0,275.0 326.0,275.7 324.1,276.4 322.0,277.0 319.9,277.6 317.9,278.1 316.0,278.6 313.9,279.2 311.6,279.8 309.6,280.4 307.6,280.7 305.6,281.0 303.6,281.2 301.6,281.3 299.8,281.3 298.1,281.1 296.0,280.9 293.7,280.7 291.9,280.5 289.9,280.3 287.7,280.0 285.5,279.8 283.2,279.6 281.1,279.4 278.9,279.2 276.5,279.0 274.0,278.9 271.5,278.8 269.3,278.7 267.4,278.6 266.1,278.5Z M266.2,364.0 267.6,363.6 269.5,363.2 271.9,362.6 274.3,361.8 276.7,360.7 278.4,359.6 280.2,358.4 282.0,356.9 283.7,355.5 285.4,354.1 286.9,352.7 288.6,351.3 290.3,349.8 291.9,348.3 293.4,347.0 294.9,345.6 296.5,344.3 298.1,343.1 299.7,341.9 301.3,340.7 303.0,339.6 304.8,338.4 306.6,337.3 308.3,336.3 310.2,335.3 312.0,334.4 313.8,333.5 315.8,332.7 317.8,332.0 320.1,331.2 322.2,330.7 324.0,330.4 326.3,330.5 328.3,331.2 330.3,332.0 332.1,332.9 333.9,333.9 335.7,334.8 337.6,335.9 339.6,337.2 341.8,338.2 344.2,338.0 346.3,336.9 348.2,335.5 350.1,334.3 352.1,333.3 354.2,332.3 356.2,331.4 358.2,330.7 360.2,330.2 362.2,329.9 364.1,329.7 366.1,329.8 368.1,330.1 370.1,330.6 372.1,331.1 374.1,331.9 376.2,332.8 378.2,333.7 380.3,334.4 382.4,335.2 384.4,335.9 386.4,336.7 388.5,337.5 390.4,338.2 392.2,338.9 394.2,339.5 396.3,340.2 398.1,340.9 400.2,341.7 402.3,342.7 404.2,343.7 406.0,344.7 407.7,345.8 409.5,347.0 411.3,348.2 413.1,349.4 414.9,350.7 416.7,352.0 418.5,353.3 420.3,354.6 422.2,356.0 424.0,357.2 425.9,358.3 428.0,359.5 430.2,360.3 432.9,360.1 435.4,358.4 436.7,358.2 438.9,357.8 441.3,357.5 443.6,357.2 445.5,357.1 447.7,357.3 449.5,357.6 451.4,358.1 453.3,358.7 455.3,359.5 457.4,360.4 459.4,361.3 461.4,362.1 463.5,363.0 465.7,363.9 468.0,364.4 470.4,364.8 472.8,365.1 474.7,365.2 475.3,365.3 475.7,362.5 475.0,362.4 473.1,362.2 470.8,362.0 468.5,361.6 466.6,361.1 464.6,360.3 462.6,359.4 460.6,358.5 458.5,357.7 456.5,356.8 454.3,355.9 452.2,355.3 450.2,354.7 448.0,354.2 445.5,354.1 443.3,354.2 440.9,354.4 438.4,354.7 436.2,355.1 434.0,355.6 431.6,357.1 430.6,357.2 429.3,356.7 427.4,355.7 425.6,354.6 423.9,353.5 422.0,352.3 420.1,351.0 418.3,349.7 416.5,348.5 414.6,347.2 412.7,346.0 410.9,344.8 409.1,343.7 407.2,342.6 405.4,341.5 403.4,340.5 401.1,339.6 399.0,338.7 397.1,338.0 394.9,337.3 392.8,336.7 391.2,336.1 389.2,335.4 387.2,334.7 385.2,333.9 383.1,333.2 381.0,332.5 379.0,331.7 376.9,330.9 374.9,330.1 372.7,329.3 370.6,328.7 368.4,328.2 366.3,327.9 364.1,327.9 361.9,328.1 359.8,328.5 357.7,329.0 355.5,329.7 353.4,330.6 351.3,331.7 349.3,332.7 347.2,334.0 345.3,335.4 343.7,336.3 342.1,336.5 340.5,335.7 338.5,334.4 336.6,333.3 334.7,332.3 332.8,331.3 331.0,330.5 328.9,329.6 326.6,328.8 324.0,328.6 321.8,329.0 319.6,329.6 317.3,330.3 315.2,331.1 313.1,331.9 311.2,332.8 309.4,333.8 307.5,334.8 305.7,335.9 303.9,337.0 302.0,338.2 300.3,339.4 298.7,340.5 297.1,341.8 295.5,343.0 293.9,344.4 292.3,345.7 290.8,347.1 289.2,348.5 287.5,350.1 285.8,351.5 284.3,352.8 282.6,354.2 280.9,355.7 279.2,357.1 277.5,358.3 275.9,359.3 273.7,360.3 271.4,361.0 269.2,361.6 267.2,362.1 265.8,362.4Z M370.0,345.3 372.2,345.1 374.3,345.0 376.3,345.1 378.6,345.2 381.0,345.3 383.2,345.4 385.3,345.5 387.6,345.5 389.8,345.6 391.6,345.7 393.7,345.9 395.2,346.4 397.2,347.1 399.1,347.9 401.3,348.8 403.4,349.7 405.2,350.5 406.9,351.4 408.7,352.3 410.5,353.3 412.2,354.4 414.1,355.5 415.9,356.7 417.8,357.8 420.0,358.8 422.2,359.7 424.3,360.4 426.6,361.0 429.0,361.4 431.0,361.6 433.0,362.0 435.5,362.0 437.6,361.8 440.0,361.6 442.4,361.4 444.6,361.3 446.7,361.3 448.7,361.4 450.5,361.7 452.4,362.3 454.0,363.0 455.8,363.9 457.5,364.9 459.3,366.0 461.1,367.0 462.9,368.0 464.6,369.1 466.5,370.3 468.2,371.6 470.1,373.1 471.9,374.5 473.6,375.9 474.7,376.8 476.3,374.8 475.1,373.9 473.5,372.6 471.6,371.1 469.7,369.6 467.9,368.3 466.0,367.0 464.2,365.8 462.4,364.8 460.7,363.8 458.9,362.7 457.1,361.6 455.2,360.6 453.2,359.7 451.1,359.1 449.0,358.8 446.8,358.6 444.5,358.5 442.2,358.7 439.7,358.8 437.4,359.0 435.5,359.2 433.2,359.2 431.4,358.8 429.3,358.6 427.1,358.3 425.0,357.8 423.1,357.2 421.0,356.4 419.0,355.4 417.2,354.5 415.4,353.4 413.6,352.2 411.7,351.1 409.9,350.1 408.1,349.2 406.2,348.3 404.4,347.5 402.2,346.6 400.0,345.7 398.0,344.9 396.0,344.2 394.1,343.6 391.8,343.4 389.8,343.3 387.7,343.3 385.4,343.3 383.2,343.2 381.0,343.2 378.6,343.1 376.4,343.0 374.3,343.0 372.1,343.1 369.8,343.3Z M343.0,338.2 344.5,338.2 346.6,338.1 348.9,338.1 351.3,338.1 353.2,338.2 355.5,338.3 357.4,338.6 359.2,339.0 361.2,339.5 363.3,340.2 365.4,341.0 367.4,341.8 369.5,342.4 371.3,343.0 372.9,343.8 374.4,344.9 376.0,346.4 377.8,348.1 379.3,349.5 381.0,351.0 382.8,352.6 384.3,354.0 385.9,355.4 387.1,356.7 388.7,358.1 390.0,359.4 391.6,360.8 393.3,362.2 395.0,363.7 396.7,365.1 398.6,366.6 400.5,368.1 402.3,369.3 404.7,370.7 407.3,371.2 409.4,371.3 411.7,371.1 414.1,370.8 416.3,370.1 418.3,369.2 420.0,368.1 421.7,367.2 423.6,366.6 425.6,366.0 427.7,365.5 429.7,365.2 431.2,365.1 432.8,365.1 434.4,365.5 436.7,366.1 439.1,366.2 441.3,366.1 443.5,365.9 445.8,365.7 448.0,365.5 449.0,365.5 449.2,362.9 448.0,362.8 445.7,362.6 443.4,362.5 441.2,362.4 439.3,362.3 437.5,362.0 435.8,361.3 433.8,360.5 431.2,360.1 428.8,360.6 426.5,361.3 424.3,362.2 422.3,363.1 420.3,364.0 418.3,365.1 416.6,366.1 415.1,366.9 413.4,367.4 411.3,367.7 409.3,367.8 407.7,367.8 405.8,367.5 404.0,366.6 402.4,365.5 400.5,364.2 398.5,362.7 396.8,361.4 395.0,360.1 393.3,358.7 391.7,357.4 390.3,356.3 388.8,354.9 387.6,353.7 386.0,352.2 384.4,350.8 382.7,349.2 380.9,347.7 379.4,346.3 377.6,344.6 375.9,343.1 374.1,341.8 372.1,340.9 370.2,340.3 368.2,339.6 366.2,338.9 364.1,338.1 361.9,337.4 359.7,336.9 357.8,336.5 355.7,336.2 353.4,336.0 351.3,336.0 348.9,336.0 346.5,336.1 344.4,336.2 343.0,336.2Z M266.5,376.4 267.9,375.6 269.9,374.6 272.2,373.2 274.1,371.9 275.7,370.6 277.3,369.1 278.9,367.7 280.5,366.4 282.1,365.1 283.7,363.9 285.3,362.6 286.9,361.4 288.5,360.1 290.1,358.9 291.8,357.6 293.4,356.3 295.0,354.9 296.7,353.5 298.3,352.0 299.9,350.6 301.4,349.2 303.1,347.9 304.9,346.6 306.7,345.4 308.4,344.3 310.2,343.3 312.1,342.4 313.9,341.6 315.8,340.9 317.7,340.3 319.7,339.7 321.7,339.3 323.7,338.8 325.8,338.4 327.9,338.0 329.9,337.8 332.1,337.7 334.3,337.7 336.4,337.9 338.9,338.0 341.2,338.2 342.9,338.3 343.1,336.5 341.4,336.3 339.0,336.1 336.6,335.9 334.3,335.8 332.1,335.8 329.7,335.8 327.6,336.1 325.5,336.5 323.3,336.9 321.3,337.4 319.2,337.9 317.2,338.4 315.2,339.1 313.2,339.8 311.3,340.6 309.3,341.6 307.4,342.7 305.6,343.8 303.8,345.0 301.9,346.3 300.2,347.7 298.6,349.1 296.9,350.6 295.4,352.1 293.8,353.5 292.2,354.8 290.5,356.1 288.9,357.3 287.3,358.6 285.7,359.8 284.1,361.1 282.5,362.3 280.9,363.5 279.3,364.8 277.6,366.2 276.0,367.7 274.4,369.1 272.9,370.3 271.1,371.6 269.0,372.8 266.9,373.9 265.5,374.6Z M305.4,355.0 307.5,354.2 309.6,353.7 311.6,353.5 313.7,353.4 315.4,353.5 317.4,353.9 319.4,354.7 321.2,355.5 323.4,356.4 325.9,357.3 327.8,357.7 329.9,358.2 332.0,358.6 334.2,359.0 336.1,359.3 338.1,359.6 340.0,359.8 341.8,359.8 343.9,359.8 345.8,359.7 347.9,359.5 350.1,359.3 352.4,358.9 354.5,358.4 356.5,357.8 358.6,357.1 360.6,356.3 362.6,355.6 364.3,355.1 366.6,354.4 368.6,353.8 370.5,353.4 372.5,353.2 374.5,353.3 376.4,353.5 378.4,354.0 378.8,352.6 376.7,352.1 374.5,351.9 372.4,351.8 370.3,352.0 368.3,352.4 366.2,353.0 363.9,353.7 362.1,354.3 360.2,355.0 358.1,355.8 356.1,356.5 354.1,357.1 352.1,357.5 349.9,357.9 347.8,358.1 345.7,358.3 343.8,358.4 341.8,358.4 340.1,358.4 338.3,358.2 336.3,357.9 334.4,357.6 332.3,357.2 330.1,356.8 328.1,356.4 326.3,355.9 323.9,355.1 321.8,354.2 320.0,353.4 317.8,352.5 315.6,352.1 313.7,352.0 311.5,352.1 309.4,352.3 307.1,352.9 304.9,353.7Z M265.4,386.9 267.1,387.3 269.4,387.7 271.7,388.3 273.4,388.8 275.2,389.6 277.5,390.6 279.6,391.5 281.5,392.2 283.5,393.0 285.7,393.8 288.0,394.5 290.4,395.0 292.9,395.1 295.4,395.1 297.9,395.0 300.2,394.7 302.4,394.4 305.0,393.8 307.2,393.1 309.1,392.3 310.9,391.8 312.8,391.3 314.9,390.5 317.0,389.3 319.0,387.9 320.7,386.5 322.2,384.9 323.7,383.2 325.1,381.4 326.6,379.5 328.0,377.4 329.5,375.6 330.9,373.8 332.5,372.2 334.3,370.7 336.2,369.7 337.9,368.9 339.9,368.1 341.9,367.6 343.9,367.6 345.6,367.7 347.6,368.3 349.5,369.4 351.0,370.6 352.6,372.0 354.3,373.5 356.0,375.1 357.7,376.7 359.2,378.1 360.8,379.7 362.3,381.2 363.9,382.8 365.4,384.3 367.0,385.6 368.8,387.0 370.7,388.3 372.6,389.3 374.4,390.1 376.5,390.8 378.8,391.4 381.0,391.8 383.2,392.0 385.3,392.2 387.5,392.3 389.7,392.2 391.9,392.0 394.1,391.6 396.1,391.2 398.1,390.9 400.3,390.5 402.2,390.1 404.3,390.1 406.1,390.2 408.2,390.6 410.4,391.1 412.5,391.6 414.6,392.2 416.5,393.0 418.5,393.8 420.8,394.5 422.7,394.9 423.8,395.1 424.1,393.1 423.2,392.9 421.4,392.5 419.3,391.7 417.5,390.8 415.5,389.9 413.4,389.0 411.3,388.2 409.1,387.3 406.8,386.6 404.7,386.1 401.9,386.0 399.6,386.4 397.5,386.7 395.4,387.0 393.4,387.3 391.4,387.6 389.5,387.7 387.5,387.8 385.6,387.7 383.6,387.6 381.7,387.3 379.7,387.0 377.8,386.5 376.0,385.9 374.4,385.3 372.8,384.6 371.1,383.6 369.4,382.5 368.0,381.4 366.5,380.0 364.8,378.6 363.2,377.1 361.4,375.7 359.6,374.3 357.8,373.0 355.8,371.6 353.9,370.3 352.0,369.1 350.3,368.1 348.2,367.0 345.9,366.3 343.9,366.1 341.7,366.1 339.5,366.6 337.3,367.6 335.5,368.4 333.6,369.4 331.5,370.8 329.7,372.3 327.9,373.9 326.2,375.5 324.4,377.1 322.7,378.6 320.9,380.0 319.2,381.4 317.6,382.5 316.1,383.4 314.5,384.1 312.7,384.7 310.7,385.1 308.6,385.6 306.4,386.2 304.5,386.9 302.8,387.4 300.8,387.6 299.2,387.7 297.2,387.7 295.2,387.6 293.1,387.5 291.2,387.1 289.5,386.8 287.7,386.3 285.7,385.8 283.7,385.1 281.9,384.5 279.9,383.9 277.8,383.1 275.9,382.3 273.7,381.5 270.9,380.9 268.4,380.4 266.6,380.1Z M266.8,394.8 268.5,394.4 271.0,393.9 273.5,393.3 275.6,392.5 277.8,391.6 279.5,390.9 280.1,390.6 278.9,385.8 278.2,385.8 276.4,386.1 274.1,386.3 271.9,386.5 269.4,387.1 267.0,387.6 265.2,388.0Z M265.7,392.7 267.4,393.1 269.7,393.6 272.0,394.4 273.5,395.3 275.2,396.6 277.0,398.0 278.9,399.4 281.0,400.6 283.0,401.7 285.0,402.9 287.0,404.0 289.1,405.1 291.3,406.1 293.4,407.0 295.6,407.8 297.9,408.4 300.1,408.8 302.3,409.2 304.6,409.4 306.8,409.5 309.0,409.6 311.2,409.6 313.5,409.5 315.9,409.4 318.2,409.1 320.5,408.8 322.8,408.5 325.1,408.1 327.4,407.6 329.6,407.1 331.8,406.6 333.7,406.2 335.7,405.9 337.8,405.8 339.8,405.7 341.9,405.7 343.9,405.8 345.9,405.9 348.1,406.2 350.2,406.5 352.1,406.8 354.3,407.2 356.0,407.6 358.1,408.4 359.6,409.1 361.5,409.9 363.4,410.9 365.3,411.9 366.9,412.8 368.7,413.9 370.4,415.1 372.4,416.4 374.4,417.5 376.2,418.5 378.1,419.5 380.2,420.5 382.4,421.3 384.7,421.9 387.0,422.2 389.2,422.4 391.5,422.4 393.8,422.0 396.0,421.5 398.1,421.0 400.2,420.5 401.3,420.3 401.2,418.7 400.2,418.5 398.0,418.2 396.0,417.7 393.9,417.2 391.9,416.5 389.9,416.1 388.1,415.7 386.4,415.2 384.8,414.6 383.2,413.9 381.5,413.0 379.8,412.0 378.2,411.0 376.5,410.0 374.9,408.8 373.1,407.4 370.9,406.0 369.0,405.0 367.0,403.9 364.9,402.8 362.9,401.9 360.9,401.0 358.4,400.1 356.0,399.5 353.5,399.0 351.4,398.7 349.1,398.3 346.7,398.1 344.3,397.9 341.8,397.9 339.4,398.0 337.0,398.3 334.6,398.7 332.3,399.2 330.0,399.9 327.8,400.6 325.8,401.2 323.7,401.8 321.5,402.4 319.4,402.9 317.3,403.4 315.2,403.7 313.1,404.0 311.1,404.1 308.9,404.3 306.9,404.3 304.9,404.3 302.9,404.2 300.9,404.0 298.9,403.7 296.9,403.3 294.9,402.7 292.9,402.1 290.8,401.3 288.6,400.4 286.7,399.6 284.7,398.6 282.7,397.5 280.9,396.4 279.1,395.2 277.3,393.8 275.4,392.4 273.4,391.2 270.7,390.2 268.1,389.6 266.3,389.3Z M311.8,421.7 313.3,420.2 314.9,418.7 316.5,417.1 318.1,415.6 319.7,414.1 321.4,412.5 323.0,411.1 324.5,409.9 326.2,408.4 328.0,407.2 329.7,406.1 327.9,402.4 325.8,403.2 323.6,404.2 321.3,405.5 319.5,406.9 317.7,408.5 316.0,410.1 314.3,411.6 312.7,413.2 311.1,415.0 309.6,416.6 308.2,418.1Z M388.2,423.7 390.3,424.4 392.3,424.9 394.3,425.4 396.3,425.7 398.4,426.0 400.7,426.2 403.0,426.4 405.4,426.4 407.8,426.1 410.2,425.6 412.6,425.0 414.6,424.2 416.6,423.2 418.6,422.3 420.5,421.4 422.4,420.8 424.5,420.3 426.7,419.9 428.9,419.5 430.7,419.2 432.2,419.1 434.3,419.6 435.8,419.7 437.6,419.7 439.5,419.7 441.6,419.7 443.8,419.8 446.1,419.9 448.3,420.0 450.3,420.2 452.3,420.5 454.3,420.9 456.5,421.4 458.7,421.9 460.8,422.5 462.9,423.1 464.9,423.7 466.7,424.1 468.4,424.5 471.8,425.0 474.1,425.0 475.5,425.0 475.5,422.0 474.2,422.0 472.2,421.9 469.0,421.3 467.6,420.9 465.9,420.4 463.9,419.8 461.8,419.1 459.7,418.4 457.4,417.8 455.2,417.2 453.0,416.7 450.8,416.3 448.6,416.1 446.2,416.0 443.9,415.9 441.6,415.9 439.5,416.0 437.6,416.0 435.9,416.0 434.7,416.0 432.5,415.6 430.4,415.7 428.4,415.9 426.2,416.1 423.8,416.4 421.5,416.7 419.2,417.2 416.9,417.8 414.8,418.4 412.8,419.0 411.0,419.4 408.9,419.9 406.9,420.3 405.0,420.4 403.0,420.6 401.0,420.6 398.9,420.6 396.7,420.5 394.7,420.4 392.4,420.8 390.5,421.2 388.5,421.3Z M289.0,426.3 290.9,427.5 292.8,428.8 294.6,430.0 296.2,431.0 299.1,432.0 301.9,431.4 303.9,430.5 305.9,429.2 307.8,427.7 309.6,426.0 311.2,424.2 312.8,422.3 314.1,420.6 314.7,419.9 310.3,416.5 309.8,417.3 308.5,419.1 307.2,420.9 305.8,422.6 304.5,424.1 303.0,425.7 301.5,426.9 300.3,427.8 299.1,428.4 297.2,428.2 295.8,427.7 294.0,426.8 292.1,425.7 290.1,424.6Z M265.9,421.6 267.6,421.8 270.2,422.2 272.9,422.4 275.1,422.3 277.2,422.0 279.2,421.9 281.0,422.2 282.6,422.8 284.4,423.7 286.3,424.7 288.2,425.7 289.1,424.0 287.3,423.0 285.3,421.9 283.4,421.0 281.5,420.3 279.3,419.9 277.0,420.0 274.9,420.3 272.9,420.4 270.4,420.2 267.9,419.9 266.1,419.6Z M441.5,418.2 443.7,418.3 445.9,418.5 448.3,418.6 450.8,418.4 453.4,417.4 455.3,416.0 456.8,414.3 458.0,412.4 459.1,410.4 460.2,408.6 461.3,407.0 462.4,405.6 463.8,403.9 465.1,402.3 466.5,400.7 467.8,399.3 469.0,398.1 470.6,396.7 472.3,395.6 473.1,395.2 475.3,395.0 475.7,395.1 475.3,388.1 474.1,388.3 471.1,389.2 468.8,390.6 466.8,392.4 465.1,394.2 463.8,395.6 462.4,397.1 461.0,398.7 459.5,400.4 458.1,402.2 456.8,404.0 455.6,405.9 454.6,407.9 453.6,409.8 452.6,411.4 451.8,412.7 451.0,413.6 449.7,414.4 448.0,414.8 445.9,414.9 443.7,415.0 441.5,415.2Z M266.0,445.5 267.3,445.5 268.9,445.5 270.9,445.5 273.1,445.4 275.4,445.4 277.8,445.4 280.2,445.4 282.6,445.4 284.7,445.4 286.6,445.4 288.7,445.3 291.1,445.4 293.1,445.5 295.0,445.5 296.7,445.6 298.4,445.7 300.5,445.7 302.9,445.9 304.0,445.9 304.5,442.9 303.4,442.6 301.0,442.0 298.9,441.5 297.3,441.1 295.6,440.7 293.6,440.4 291.5,440.1 289.0,439.8 286.7,439.6 284.8,439.4 282.6,439.4 280.2,439.4 277.8,439.4 275.4,439.4 273.0,439.4 270.8,439.5 268.9,439.5 267.2,439.5 266.0,439.5Z M265.6,431.1 267.1,431.4 269.1,431.9 271.2,432.6 272.9,433.6 274.4,434.7 276.0,436.1 277.7,437.6 279.4,438.9 281.3,440.2 283.3,441.5 285.2,442.7 287.3,443.6 289.5,444.3 291.7,444.6 293.9,444.8 296.0,445.0 298.2,445.2 300.4,445.4 302.6,445.5 304.4,445.7 304.6,443.7 302.8,443.4 300.7,443.1 298.5,442.8 296.3,442.5 294.2,442.1 292.1,441.8 290.2,441.4 288.3,440.8 286.6,440.0 284.8,439.0 283.0,437.8 281.2,436.5 279.6,435.3 278.0,433.8 276.3,432.4 274.5,431.0 272.4,429.9 270.0,429.0 267.8,428.5 266.4,428.1Z M266.0,428.5 267.8,428.5 270.2,428.5 272.5,428.9 274.1,429.7 275.8,430.9 277.7,432.2 279.6,433.5 281.5,434.7 283.4,435.9 285.3,437.1 287.2,438.1 289.4,439.1 291.6,440.1 293.8,440.8 296.0,441.4 298.2,441.6 300.4,441.8 302.5,441.9 304.7,442.1 306.9,442.3 308.9,442.5 309.2,440.0 307.1,439.8 304.9,439.6 302.7,439.5 300.6,439.3 298.5,439.2 296.5,438.9 294.5,438.4 292.5,437.7 290.4,436.9 288.4,435.9 286.5,434.9 284.7,433.8 282.8,432.6 281.0,431.5 279.2,430.2 277.3,428.8 275.3,427.5 273.3,426.5 270.4,426.0 267.7,426.0 266.0,426.1Z M366.3,446.7 367.7,446.2 369.5,445.7 371.6,445.0 373.8,444.3 376.1,443.5 378.3,442.7 380.4,442.0 382.3,441.3 384.4,440.7 386.7,440.0 388.8,439.4 390.7,439.0 392.6,438.6 394.4,438.2 396.6,437.9 398.6,437.6 400.6,437.5 402.4,437.4 404.3,437.5 406.2,437.7 408.1,438.0 410.0,438.5 412.0,439.1 414.0,439.7 416.1,440.3 418.2,441.0 420.0,441.8 422.0,442.9 423.0,443.5 424.5,441.4 423.5,440.6 421.4,439.2 419.4,438.2 417.3,437.2 415.1,436.4 413.0,435.7 410.9,435.1 408.8,434.6 406.7,434.2 404.6,434.0 402.4,433.9 400.4,434.0 398.3,434.1 396.1,434.4 393.8,434.8 391.9,435.1 389.9,435.6 387.9,436.0 385.7,436.6 383.4,437.3 381.2,438.0 379.3,438.7 377.1,439.4 374.9,440.3 372.6,441.2 370.5,442.1 368.5,443.0 366.8,443.7 365.4,444.3Z M381.4,446.1 382.9,445.1 384.7,443.8 386.7,442.5 388.8,441.4 390.6,440.7 392.7,439.9 394.8,439.2 396.9,438.7 399.0,438.2 401.0,438.0 403.1,437.8 405.1,437.8 407.2,437.9 409.2,438.2 411.3,438.6 413.2,439.1 415.3,439.8 417.4,440.7 418.4,441.1 419.2,439.3 418.1,438.8 416.0,437.9 413.8,437.2 411.7,436.6 409.5,436.2 407.4,436.0 405.2,435.8 403.0,435.8 400.9,436.0 398.7,436.3 396.4,436.7 394.2,437.3 392.0,438.0 389.9,438.8 388.0,439.6 385.7,440.8 383.6,442.1 381.7,443.5 380.2,444.5Z M435.4,444.6 437.4,443.4 439.4,442.1 441.2,440.7 442.9,439.2 444.5,437.7 446.1,436.2 447.7,434.6 449.3,432.9 450.9,431.2 452.3,429.7 453.4,428.8 454.9,428.2 457.2,428.4 458.9,428.5 461.0,428.7 463.3,429.0 465.6,429.3 467.7,429.5 470.1,429.7 472.7,429.9 474.7,430.1 475.4,430.1 475.6,427.1 474.9,427.1 472.9,426.9 470.3,426.7 468.0,426.5 465.9,426.3 463.6,426.0 461.3,425.7 459.2,425.5 457.4,425.4 454.5,425.2 452.0,426.2 450.3,427.5 448.7,429.1 447.1,430.8 445.6,432.5 444.0,434.1 442.5,435.7 441.0,437.3 439.5,438.8 437.9,440.2 436.2,441.6 434.3,443.0Z M451.8,445.6 453.2,445.5 455.1,445.4 457.3,445.3 459.6,445.2 462.0,445.0 464.3,444.8 466.4,444.6 468.2,444.5 470.6,444.4 473.2,444.4 474.8,444.6 475.5,444.6 475.5,439.6 474.9,439.6 473.1,439.7 470.4,439.9 467.7,440.2 465.9,440.5 463.8,440.9 461.5,441.3 459.2,441.7 456.9,442.3 454.8,442.8 452.9,443.2 451.4,443.6Z" fill="#000" stroke="#000" stroke-width="0.2"/>
<use href="#thin" transform="translate(419.0 233.2)" fill="none" stroke="#1c1c1c" stroke-width="1.20" stroke-linejoin="round"/>
<path d="M475.4,275.5 476.8,275.6 478.7,275.7 480.9,275.9 483.3,276.0 485.8,276.2 488.2,276.5 490.3,276.7 492.5,277.0 494.7,277.4 496.9,277.7 499.1,278.1 501.1,278.4 503.0,278.7 505.2,279.0 507.4,279.3 509.2,279.4 511.1,279.5 513.2,279.5 515.3,279.5 517.4,279.3 519.6,279.0 521.8,278.3 524.0,277.6 526.1,277.0 528.0,276.5 530.0,276.0 532.1,275.5 534.2,275.0 536.1,274.5 538.2,274.0 540.2,273.6 542.2,273.2 544.1,272.8 546.5,272.4 549.0,272.1 551.1,271.8 552.6,271.6 552.4,270.0 550.9,270.2 548.8,270.5 546.3,270.8 543.9,271.2 541.9,271.6 539.9,272.0 537.8,272.5 535.8,273.0 533.8,273.4 531.7,273.9 529.6,274.5 527.6,275.0 525.7,275.5 523.5,276.1 521.3,276.8 519.2,277.4 517.2,277.7 515.2,277.9 513.2,277.9 511.1,277.9 509.3,277.8 507.6,277.7 505.4,277.4 503.2,277.1 501.4,276.8 499.4,276.5 497.2,276.1 495.0,275.8 492.7,275.4 490.5,275.1 488.4,274.9 485.9,274.7 483.4,274.4 481.0,274.3 478.8,274.1 476.9,274.0 475.6,273.9Z M475.5,281.0 476.8,281.1 478.7,281.1 480.9,281.2 483.3,281.3 485.8,281.5 488.2,281.6 490.4,281.8 492.5,282.0 494.8,282.2 497.0,282.4 499.2,282.6 501.2,282.8 503.0,283.0 505.2,283.2 507.4,283.4 509.2,283.6 511.1,283.6 513.2,283.5 515.3,283.3 517.4,283.0 519.6,282.5 521.8,282.0 524.0,281.3 526.1,280.7 528.0,280.2 530.0,279.7 532.1,279.1 534.2,278.5 536.2,277.8 538.3,277.0 540.3,276.3 542.3,275.6 544.2,275.0 546.6,274.4 549.0,273.9 551.1,273.6 552.6,273.3 552.4,271.7 550.9,272.0 548.7,272.3 546.3,272.8 543.8,273.4 541.8,274.0 539.8,274.8 537.7,275.5 535.7,276.3 533.8,276.9 531.7,277.6 529.6,278.1 527.6,278.7 525.7,279.2 523.5,279.8 521.3,280.4 519.2,281.0 517.2,281.4 515.1,281.7 513.1,281.9 511.1,282.0 509.3,282.0 507.6,281.8 505.4,281.6 503.2,281.4 501.3,281.3 499.3,281.0 497.2,280.8 494.9,280.6 492.7,280.4 490.5,280.2 488.3,280.0 485.9,279.9 483.4,279.7 481.0,279.6 478.8,279.5 476.9,279.5 475.5,279.4Z M475.5,284.2 476.9,284.2 478.8,284.3 481.1,284.3 483.4,284.5 485.6,284.9 487.5,285.4 489.4,286.0 491.4,286.7 493.3,287.6 495.3,288.4 497.2,289.2 499.1,290.1 501.0,291.1 502.9,292.0 504.7,293.0 506.4,293.8 508.2,294.8 510.2,295.8 512.0,296.7 513.6,297.5 515.5,298.3 517.6,299.0 519.6,299.4 521.9,299.4 524.2,299.0 526.3,297.9 528.1,296.3 529.7,294.6 531.3,293.1 532.6,291.8 534.0,290.4 535.6,288.6 536.8,287.1 538.1,285.3 539.4,283.4 540.8,281.6 542.0,279.9 543.4,278.3 544.9,276.8 546.4,275.4 547.8,274.3 549.7,273.2 552.0,272.4 552.7,272.2 552.3,270.6 551.5,270.9 549.0,271.7 546.9,273.0 545.4,274.2 543.8,275.6 542.2,277.3 540.8,278.9 539.5,280.6 538.1,282.5 536.8,284.4 535.5,286.1 534.4,287.6 532.8,289.3 531.5,290.7 530.1,292.0 528.6,293.5 527.0,295.2 525.4,296.6 523.7,297.5 521.7,297.8 519.8,297.8 518.0,297.5 516.1,296.8 514.3,296.0 512.7,295.3 510.9,294.4 509.0,293.3 507.1,292.4 505.4,291.5 503.6,290.6 501.7,289.6 499.8,288.7 497.8,287.8 495.9,286.9 493.9,286.1 492.0,285.3 490.0,284.5 488.0,283.8 486.0,283.3 483.6,282.9 481.2,282.8 478.9,282.7 476.9,282.6 475.5,282.6Z M475.4,288.5 477.1,288.8 479.5,289.3 481.9,290.0 483.6,290.6 485.4,291.4 487.2,292.4 489.0,293.5 490.5,294.6 492.1,295.8 493.7,297.2 495.3,298.5 496.9,299.9 498.5,301.4 500.1,302.9 501.8,304.3 503.4,305.6 505.3,307.0 507.3,308.2 509.1,309.3 510.8,310.1 513.2,311.1 515.5,311.3 517.8,310.8 520.2,309.3 521.6,308.0 523.0,306.4 524.4,304.7 525.7,302.9 526.9,301.0 527.9,299.0 529.0,297.1 530.2,295.4 531.4,294.1 532.6,292.7 534.1,291.1 535.6,289.2 536.8,287.7 538.0,286.0 539.3,284.2 540.6,282.3 541.9,280.6 543.0,279.0 544.1,277.8 546.1,275.8 547.9,274.6 549.3,273.7 551.9,272.9 552.6,272.8 552.4,271.2 551.4,271.4 548.7,272.3 547.0,273.2 545.1,274.5 542.9,276.6 541.8,278.0 540.6,279.6 539.3,281.4 538.0,283.2 536.7,285.1 535.5,286.8 534.4,288.2 532.9,290.0 531.5,291.6 530.2,293.0 528.9,294.5 527.7,296.3 526.5,298.3 525.5,300.2 524.3,302.1 523.1,303.7 521.8,305.4 520.4,306.9 519.2,308.1 517.2,309.3 515.3,309.7 513.6,309.6 511.4,308.7 509.9,307.9 508.1,306.8 506.2,305.7 504.4,304.4 502.8,303.1 501.2,301.7 499.6,300.2 497.9,298.7 496.3,297.3 494.7,295.9 493.1,294.6 491.5,293.3 489.8,292.1 488.0,291.0 486.1,290.0 484.3,289.2 482.5,288.4 479.9,287.7 477.4,287.2 475.6,286.9Z M552.4,271.6 553.8,271.8 555.7,272.0 558.0,272.3 560.3,272.6 562.3,273.1 564.1,273.8 565.9,274.8 567.6,276.0 569.2,277.3 571.1,278.6 572.9,279.9 574.7,281.1 576.6,282.4 578.4,283.5 580.3,284.7 582.2,285.7 584.0,286.6 586.0,287.7 588.1,288.6 590.4,288.9 592.7,288.6 595.3,288.2 597.3,287.9 599.5,287.5 601.8,287.1 603.9,286.8 606.0,286.6 608.2,286.7 610.2,286.8 611.8,287.0 614.1,287.8 616.6,287.8 618.8,287.2 621.0,286.6 623.0,286.3 625.2,286.3 627.3,286.7 629.3,287.2 631.2,287.9 633.1,288.7 635.2,289.6 637.7,290.5 639.8,291.4 640.5,291.6 641.1,290.2 640.4,289.9 638.3,289.0 635.8,288.1 633.7,287.3 631.8,286.4 629.8,285.7 627.7,285.1 625.4,284.7 622.8,284.7 620.6,285.1 618.4,285.7 616.4,286.2 614.4,286.2 612.2,285.4 610.3,285.2 608.3,285.1 606.0,285.0 603.7,285.2 601.5,285.5 599.2,285.9 597.0,286.3 595.1,286.6 592.4,287.1 590.4,287.3 588.5,287.1 586.7,286.2 584.7,285.2 583.0,284.3 581.1,283.3 579.2,282.2 577.4,281.0 575.6,279.8 573.8,278.5 572.0,277.3 570.2,276.0 568.5,274.8 566.8,273.5 564.8,272.3 562.7,271.6 560.5,271.1 558.2,270.7 555.9,270.4 554.0,270.2 552.6,270.0Z M552.4,272.4 553.8,272.6 555.7,272.8 558.0,273.2 560.2,273.6 562.3,274.1 564.1,274.8 565.9,275.9 567.6,277.2 569.2,278.6 570.9,279.8 572.6,281.0 574.2,282.2 575.8,283.4 577.4,284.6 579.2,286.0 581.0,287.3 582.8,288.6 584.6,289.8 586.5,291.2 588.3,292.5 590.2,293.8 591.9,294.9 594.0,296.0 596.0,296.9 598.0,297.3 600.2,296.7 602.4,295.4 603.9,294.5 605.7,293.5 607.6,292.4 609.4,291.4 611.4,290.1 613.2,288.8 614.9,288.0 616.4,288.0 618.0,288.7 619.7,289.8 621.6,290.9 623.5,291.9 625.4,293.1 627.5,294.0 629.8,294.4 632.2,294.1 634.6,293.5 636.9,292.9 639.3,292.2 641.0,291.7 640.6,290.1 638.9,290.6 636.5,291.3 634.2,291.9 631.9,292.5 629.8,292.8 627.9,292.5 626.2,291.7 624.3,290.6 622.4,289.5 620.6,288.4 618.7,287.2 616.7,286.4 614.5,286.5 612.4,287.5 610.5,288.8 608.6,290.0 606.8,291.0 604.9,292.1 603.2,293.1 601.6,294.0 599.6,295.3 598.0,295.7 596.5,295.4 594.7,294.6 592.7,293.5 591.0,292.5 589.3,291.2 587.4,289.9 585.6,288.6 583.8,287.3 582.0,286.0 580.2,284.7 578.4,283.4 576.8,282.2 575.1,281.0 573.5,279.7 571.9,278.5 570.2,277.3 568.6,275.9 566.8,274.6 564.8,273.4 562.7,272.5 560.6,272.0 558.2,271.6 555.9,271.3 554.0,271.0 552.6,270.8Z M552.5,274.1 554.1,274.0 556.2,274.0 558.5,274.3 560.1,275.2 561.4,276.4 562.8,278.0 564.3,279.8 565.7,281.6 567.1,283.3 568.4,285.1 569.8,287.0 571.1,288.7 572.3,290.3 573.9,292.0 575.6,293.4 577.6,294.4 579.6,295.0 581.8,295.3 584.0,295.6 586.1,295.8 588.1,295.9 590.1,295.9 592.2,296.2 593.9,296.6 595.8,297.2 597.8,297.8 599.9,298.4 602.1,298.8 604.2,299.1 606.4,299.4 608.6,299.6 610.9,299.7 613.0,299.7 615.2,299.4 617.3,299.1 619.3,298.8 621.3,298.4 623.0,298.2 625.2,297.9 627.0,297.6 628.8,297.6 630.8,298.0 632.8,298.7 635.0,299.7 637.2,300.7 639.1,301.6 640.5,302.2 641.1,300.8 639.8,300.2 637.9,299.3 635.7,298.2 633.4,297.3 631.2,296.5 629.0,296.0 626.9,296.0 625.0,296.3 622.8,296.6 621.0,296.9 619.1,297.2 617.0,297.5 615.0,297.9 613.0,298.1 610.9,298.1 608.7,298.0 606.6,297.8 604.4,297.5 602.3,297.2 600.3,296.8 598.3,296.3 596.3,295.6 594.3,295.1 592.4,294.6 590.2,294.3 588.1,294.3 586.2,294.2 584.1,294.0 582.0,293.8 579.9,293.4 578.2,293.0 576.5,292.1 575.0,290.8 573.5,289.2 572.4,287.8 571.1,286.0 569.7,284.2 568.3,282.4 566.9,280.7 565.5,278.8 564.1,277.0 562.6,275.3 561.0,273.9 558.9,272.7 556.3,272.4 554.0,272.4 552.5,272.5Z M552.5,274.3 554.1,274.3 556.3,274.4 558.6,274.9 560.2,275.9 561.6,277.2 562.9,278.9 564.3,280.7 565.7,282.6 567.0,284.3 568.2,286.0 569.5,287.7 570.7,289.4 571.8,291.1 572.9,292.5 574.5,294.5 575.8,296.2 577.3,297.8 578.9,299.3 580.6,301.0 582.4,302.4 584.6,303.4 587.2,303.5 589.5,303.3 592.0,302.8 594.2,302.2 596.3,301.6 598.4,301.8 600.3,302.3 602.6,303.1 604.7,303.8 606.7,304.6 608.8,305.5 611.1,306.2 613.1,306.6 615.2,306.9 617.4,307.1 619.6,307.2 621.8,307.2 623.9,307.0 626.0,306.7 628.1,306.3 630.3,305.8 632.3,305.2 634.6,304.5 636.8,303.7 638.9,303.0 640.5,302.5 641.1,302.3 640.5,300.7 640.0,300.9 638.4,301.5 636.3,302.2 634.1,303.0 631.9,303.7 629.9,304.2 627.8,304.7 625.7,305.1 623.7,305.4 621.7,305.6 619.7,305.6 617.5,305.5 615.4,305.3 613.4,305.0 611.5,304.6 609.3,304.0 607.3,303.2 605.3,302.3 603.1,301.6 600.8,300.8 598.6,300.2 596.2,300.0 593.8,300.6 591.7,301.2 589.3,301.7 587.1,301.9 584.9,301.8 583.2,301.0 581.6,299.8 580.0,298.2 578.5,296.6 577.0,295.1 575.7,293.5 574.1,291.5 573.1,290.1 572.0,288.5 570.8,286.8 569.5,285.0 568.3,283.3 567.0,281.6 565.6,279.8 564.2,277.9 562.7,276.1 561.2,274.6 559.2,273.4 556.5,272.8 554.1,272.7 552.5,272.7Z M641.1,291.4 642.4,290.9 644.2,290.1 646.3,289.2 648.5,288.2 650.7,287.4 652.6,286.8 654.6,286.2 656.7,285.8 658.8,285.3 660.7,285.0 662.5,284.6 664.8,284.2 666.8,283.8 668.7,283.4 670.7,282.7 672.5,281.7 674.3,280.6 676.1,279.6 678.0,278.7 680.0,277.7 682.1,276.8 684.0,276.0 685.3,275.4 684.7,274.0 683.4,274.5 681.5,275.3 679.4,276.3 677.3,277.2 675.4,278.2 673.5,279.3 671.8,280.3 670.1,281.2 668.3,281.9 666.5,282.3 664.5,282.6 662.1,283.0 660.4,283.4 658.4,283.8 656.4,284.2 654.3,284.7 652.2,285.2 650.1,285.9 647.9,286.7 645.6,287.7 643.5,288.6 641.8,289.4 640.5,290.0Z M640.5,291.4 642.4,292.3 644.8,293.1 646.8,293.6 649.1,294.1 651.4,294.3 653.5,294.1 655.5,293.7 657.7,292.9 659.7,292.1 661.5,291.3 663.4,290.4 665.4,289.3 667.3,288.3 669.1,287.4 671.0,286.4 672.8,285.3 674.5,284.3 676.1,283.4 678.0,282.7 680.3,282.0 682.6,281.4 684.5,280.9 685.2,280.8 684.8,279.2 684.2,279.4 682.3,279.8 679.9,280.4 677.5,281.2 675.4,282.0 673.7,282.9 672.0,283.9 670.2,285.0 668.3,286.0 666.6,286.9 664.7,287.9 662.7,288.9 660.8,289.8 659.1,290.6 657.1,291.4 655.0,292.1 653.2,292.5 651.4,292.7 649.3,292.5 647.2,292.1 645.3,291.6 642.9,290.8 641.1,290.0Z M641.1,302.4 642.5,301.8 644.5,300.9 646.8,299.8 648.9,299.1 650.7,298.5 652.7,297.9 654.8,297.3 656.9,296.5 659.0,295.6 660.7,294.6 662.5,293.5 664.3,292.3 666.0,291.0 667.7,289.9 669.2,288.8 671.0,287.7 672.8,286.5 674.5,285.6 676.0,284.9 677.9,284.4 680.1,284.2 682.4,284.2 684.3,284.2 685.0,284.2 685.0,282.6 684.4,282.6 682.5,282.6 680.1,282.6 677.6,282.8 675.5,283.3 673.7,284.2 672.0,285.2 670.1,286.4 668.3,287.5 666.8,288.6 665.1,289.7 663.4,291.0 661.6,292.2 659.9,293.3 658.2,294.2 656.3,295.1 654.3,295.8 652.2,296.4 650.2,297.0 648.4,297.5 646.2,298.4 643.8,299.4 641.8,300.3 640.5,301.0Z M640.6,302.5 642.1,302.9 644.2,303.5 646.6,303.9 648.9,303.9 651.0,303.6 653.2,303.0 655.3,302.1 657.2,301.1 659.1,299.8 661.0,298.4 662.8,297.0 664.6,295.7 666.4,294.3 668.1,293.0 669.9,292.0 671.8,291.2 673.7,290.7 675.8,290.2 677.9,289.8 680.2,289.3 682.6,288.9 684.5,288.6 685.1,288.5 684.9,286.9 684.2,287.0 682.3,287.3 680.0,287.7 677.6,288.2 675.4,288.7 673.3,289.1 671.3,289.7 669.1,290.6 667.3,291.7 665.4,293.0 663.6,294.4 661.8,295.8 660.0,297.1 658.2,298.5 656.4,299.7 654.7,300.7 652.7,301.5 650.7,302.0 648.8,302.3 646.8,302.3 644.6,301.9 642.5,301.3 641.0,300.9Z M488.8,293.6 490.4,294.8 491.9,296.0 493.5,297.4 495.1,298.8 496.6,300.2 498.2,301.6 499.8,303.2 501.5,304.7 503.1,306.0 505.0,307.4 507.0,308.7 508.9,309.8 510.5,310.6 513.1,311.7 515.5,311.9 518.0,311.3 520.4,309.7 521.9,308.3 523.3,306.7 524.6,304.9 525.9,303.1 527.1,301.1 528.1,299.1 529.2,297.2 530.3,295.5 531.4,294.1 532.7,292.7 534.1,291.1 532.9,290.0 531.4,291.6 530.1,293.0 528.8,294.4 527.5,296.2 526.3,298.2 525.3,300.1 524.1,301.9 522.9,303.5 521.5,305.2 520.1,306.6 519.0,307.7 517.0,308.8 515.3,309.1 513.8,309.0 511.7,308.2 510.2,307.4 508.4,306.4 506.5,305.2 504.7,304.0 503.1,302.7 501.5,301.3 499.8,299.9 498.2,298.4 496.5,297.1 494.9,295.7 493.3,294.4 491.6,293.1 490.0,292.0Z M489.4,286.1 491.3,286.9 493.3,287.7 495.2,288.5 497.1,289.4 499.0,290.3 500.9,291.2 502.8,292.2 504.6,293.2 506.2,294.0 508.1,295.0 510.1,296.0 511.8,297.0 513.5,297.8 515.5,298.5 517.5,299.2 519.6,299.5 521.9,299.5 524.1,299.0 523.8,297.5 521.7,297.8 519.8,297.7 518.0,297.3 516.2,296.6 514.4,295.8 512.8,295.0 511.1,294.1 509.1,293.1 507.2,292.2 505.5,291.3 503.7,290.4 501.8,289.4 499.8,288.5 497.9,287.6 496.0,286.8 494.0,286.0 492.0,285.1 490.0,284.4Z M476.5,377.5 478.0,376.7 480.0,375.7 482.4,374.3 484.3,372.9 486.0,371.5 487.7,370.1 489.3,368.7 490.8,367.3 492.4,366.1 494.0,364.9 495.6,363.6 497.2,362.4 498.8,361.1 500.4,359.9 502.1,358.6 503.7,357.3 505.4,355.9 507.0,354.4 508.6,352.9 510.2,351.5 511.7,350.1 513.3,348.8 515.0,347.5 516.7,346.3 518.4,345.3 520.2,344.2 522.0,343.2 523.7,342.3 525.5,341.5 527.4,340.7 529.3,340.1 531.3,339.6 533.3,339.1 535.4,338.6 537.4,338.2 539.4,338.0 541.6,337.8 543.8,337.9 545.9,338.0 548.3,338.2 550.7,338.4 552.4,338.5 552.6,336.3 550.9,336.2 548.5,336.0 546.1,335.8 543.8,335.7 541.6,335.6 539.2,335.6 537.1,335.9 534.9,336.2 532.8,336.7 530.7,337.1 528.6,337.6 526.6,338.0 524.5,338.5 522.4,339.1 520.4,339.9 518.4,340.7 516.4,341.8 514.5,342.9 512.6,344.1 510.7,345.4 508.9,346.8 507.3,348.2 505.6,349.7 504.0,351.1 502.4,352.5 500.9,353.8 499.3,355.1 497.6,356.3 496.0,357.6 494.4,358.9 492.8,360.1 491.2,361.3 489.6,362.6 488.0,363.9 486.3,365.3 484.7,366.7 483.1,368.1 481.6,369.3 480.0,370.5 477.8,371.7 475.9,372.8 474.5,373.5Z M476.1,378.8 477.5,378.0 479.6,376.9 481.8,375.6 483.7,374.2 485.4,372.8 487.0,371.3 488.6,369.9 490.2,368.4 491.8,367.1 493.4,365.8 495.0,364.4 496.6,363.1 498.2,361.8 499.8,360.5 501.4,359.2 503.1,357.9 504.7,356.5 506.3,355.1 508.0,353.6 509.5,352.2 511.1,350.8 512.8,349.5 514.6,348.1 516.3,346.9 518.1,345.8 519.9,344.8 521.7,343.8 523.5,343.0 525.4,342.2 527.3,341.5 529.2,340.8 528.7,339.1 526.7,339.6 524.6,340.2 522.7,340.9 520.7,341.7 518.7,342.6 516.8,343.7 514.9,344.8 513.1,346.1 511.2,347.5 509.5,348.9 507.9,350.3 506.3,351.8 504.7,353.3 503.1,354.7 501.5,356.0 499.9,357.3 498.3,358.6 496.6,359.9 495.0,361.2 493.4,362.5 491.8,363.8 490.2,365.2 488.6,366.6 487.0,368.0 485.3,369.5 483.7,370.9 482.2,372.2 480.5,373.5 478.3,374.8 476.3,375.8 474.9,376.6Z M479.7,388.4 482.1,388.4 484.4,388.1 486.8,387.3 488.7,385.7 490.2,383.8 491.6,381.8 492.9,379.8 494.2,378.0 495.5,376.2 496.8,374.4 498.1,372.6 499.4,370.9 500.8,369.2 502.3,367.4 503.6,365.6 505.0,363.8 506.3,362.0 507.6,360.2 508.8,358.6 510.4,356.5 511.6,354.7 512.9,353.0 514.2,351.3 515.6,349.8 517.2,348.2 518.9,346.7 519.7,346.1 518.3,344.3 517.4,345.0 515.7,346.6 514.0,348.2 512.5,349.9 511.2,351.6 509.9,353.4 508.6,355.2 507.0,357.4 505.9,358.9 504.6,360.7 503.2,362.5 501.9,364.3 500.5,366.0 499.1,367.8 497.7,369.6 496.4,371.3 495.0,373.1 493.7,374.9 492.4,376.8 491.1,378.6 489.7,380.6 488.4,382.6 487.2,384.2 485.7,385.4 484.0,386.0 482.0,386.2 479.7,386.2Z M478.9,390.3 480.6,390.4 482.9,390.5 485.2,390.3 487.8,389.5 490.1,387.8 491.6,386.2 492.9,384.3 494.3,382.4 495.5,380.5 496.8,378.6 498.0,376.8 499.3,374.8 500.4,373.3 501.6,371.7 502.8,370.1 504.1,368.3 505.3,366.5 506.5,364.6 507.7,362.5 508.9,360.6 510.0,359.0 511.3,357.5 512.6,356.5 514.2,355.8 516.1,354.9 518.1,354.2 520.1,353.8 522.1,353.7 524.1,353.6 526.0,353.8 528.1,354.5 529.7,355.2 531.7,356.1 534.1,357.1 536.2,357.7 538.3,358.2 540.4,358.6 542.6,359.0 544.6,359.3 546.4,359.6 548.6,359.9 550.3,360.0 552.5,360.0 554.3,359.9 556.4,359.8 558.5,359.6 560.8,359.3 563.0,358.9 565.1,358.4 567.1,357.7 569.2,357.0 571.2,356.2 573.1,355.6 575.1,355.0 577.2,354.3 579.1,353.9 581.0,353.6 583.0,353.5 584.9,353.6 586.8,353.9 588.7,354.5 590.4,355.4 592.2,356.4 594.0,357.6 596.0,358.5 598.0,359.4 598.6,357.9 596.7,357.0 594.8,356.1 593.1,355.0 591.3,353.8 589.4,352.8 587.3,352.1 585.1,351.7 583.0,351.6 580.8,351.6 578.7,351.9 576.7,352.4 574.5,353.1 572.4,353.7 570.6,354.4 568.6,355.2 566.5,355.9 564.5,356.6 562.6,357.1 560.5,357.5 558.3,357.8 556.2,358.0 554.2,358.1 552.5,358.2 550.4,358.2 548.8,358.1 546.6,357.8 544.9,357.5 542.9,357.2 540.7,356.8 538.6,356.4 536.7,356.0 534.6,355.4 532.4,354.5 530.4,353.6 528.7,352.9 526.4,352.1 524.2,351.9 522.1,351.8 519.9,351.9 517.6,352.2 515.3,352.9 513.2,353.8 511.5,354.6 509.8,355.9 508.2,357.7 507.0,359.4 505.8,361.4 504.6,363.4 503.4,365.3 502.3,367.1 501.0,368.8 499.8,370.4 498.6,372.0 497.5,373.6 496.2,375.5 494.9,377.4 493.7,379.3 492.4,381.1 491.1,383.1 489.8,384.8 488.7,386.2 486.8,387.5 484.8,388.1 482.9,388.3 480.7,388.2 479.1,388.1Z M608.8,340.8 611.0,341.8 613.0,342.8 614.8,343.8 616.5,344.9 618.3,346.1 620.1,347.3 621.9,348.5 623.7,349.8 625.5,351.1 627.3,352.4 629.1,353.7 630.9,355.2 632.6,356.5 634.3,357.7 636.4,359.1 638.4,360.2 641.1,360.8 643.4,359.5 645.5,358.6 647.3,358.2 649.6,357.8 651.9,357.4 654.1,357.1 656.1,357.1 658.1,357.4 659.9,357.8 661.9,358.4 663.9,359.1 665.9,359.9 667.9,360.8 670.0,361.6 672.0,362.5 674.1,363.4 676.4,364.1 678.7,364.6 681.2,364.8 683.4,365.0 684.9,365.2 685.1,362.6 683.6,362.4 681.4,362.2 679.1,361.9 677.0,361.5 675.0,360.8 673.1,360.0 671.1,359.1 669.0,358.2 667.0,357.3 664.9,356.4 662.7,355.6 660.7,355.0 658.7,354.5 656.3,354.2 654.0,354.1 651.6,354.2 649.1,354.4 646.7,354.7 644.5,355.1 641.7,356.0 640.3,357.0 639.7,356.7 638.0,356.1 635.9,355.1 634.2,354.1 632.3,353.0 630.4,351.8 628.5,350.6 626.7,349.4 624.8,348.1 623.0,346.9 621.1,345.7 619.3,344.6 617.4,343.4 615.6,342.4 613.8,341.4 611.6,340.4 609.3,339.5Z M569.9,344.0 572.2,344.3 574.5,344.6 576.7,344.9 578.6,345.1 580.9,345.1 583.1,344.9 584.8,344.9 586.9,345.0 589.3,345.1 591.7,345.2 593.7,345.2 596.0,345.3 598.2,345.3 600.3,345.4 601.9,345.5 604.1,345.9 605.9,346.6 607.7,347.3 609.8,348.1 612.0,349.0 613.9,349.9 615.7,350.8 617.4,351.6 619.2,352.6 621.0,353.7 622.7,354.8 624.5,356.1 626.4,357.2 628.4,358.3 630.6,359.3 632.7,360.2 634.7,360.9 637.3,361.5 639.5,361.8 641.6,362.1 644.2,362.3 646.1,362.1 648.3,361.9 650.7,361.6 653.0,361.4 655.0,361.3 657.2,361.3 659.1,361.5 660.9,361.9 662.7,362.5 664.4,363.4 666.1,364.4 667.9,365.5 669.7,366.5 671.5,367.5 673.2,368.6 675.0,369.7 676.8,370.9 678.6,372.3 680.5,373.8 682.3,375.3 683.7,376.4 684.2,376.8 685.8,374.8 685.3,374.4 683.9,373.2 682.1,371.8 680.2,370.3 678.3,368.8 676.5,367.6 674.6,366.4 672.8,365.3 671.0,364.3 669.3,363.3 667.5,362.2 665.6,361.1 663.7,360.2 661.7,359.4 659.6,359.0 657.4,358.7 655.0,358.5 652.9,358.5 650.5,358.6 648.0,358.7 645.8,358.9 644.2,358.9 641.9,358.7 640.0,358.4 637.8,358.3 635.5,357.9 633.6,357.4 631.6,356.7 629.5,355.9 627.6,355.0 625.8,354.0 623.9,352.9 622.1,351.8 620.2,350.8 618.3,349.9 616.5,349.0 614.7,348.1 612.7,347.2 610.5,346.3 608.4,345.5 606.5,344.8 604.5,344.1 602.1,343.7 600.3,343.6 598.3,343.5 596.0,343.5 593.8,343.4 591.7,343.4 589.3,343.3 587.0,343.2 584.8,343.2 582.9,343.1 580.8,343.4 578.7,343.4 576.8,343.2 574.7,343.0 572.4,342.7 570.1,342.4Z M579.1,342.2 580.9,342.8 582.5,343.6 584.1,344.8 585.6,346.2 587.4,347.9 589.0,349.3 590.7,350.9 592.4,352.4 593.9,353.9 595.5,355.3 596.7,356.6 598.3,358.0 599.6,359.3 601.2,360.7 602.8,362.2 604.5,363.7 606.2,365.1 608.1,366.7 610.0,368.2 611.7,369.5 614.1,370.9 616.8,371.5 618.9,371.5 621.2,371.4 623.7,371.0 625.9,370.3 627.9,369.4 629.6,368.4 631.3,367.4 633.2,366.7 635.1,366.0 637.2,365.4 639.2,365.0 640.7,364.8 642.3,364.9 644.0,365.3 646.2,365.9 648.6,366.0 650.8,365.9 653.0,365.7 655.3,365.5 657.5,365.5 659.5,365.6 661.6,365.8 663.6,365.9 665.6,366.2 667.4,366.5 669.0,367.0 670.8,367.8 672.4,369.0 674.1,370.3 675.9,371.8 677.7,373.0 679.6,374.3 681.5,375.6 683.1,376.8 684.3,377.6 685.7,375.4 684.6,374.6 683.0,373.5 681.1,372.2 679.2,370.8 677.5,369.6 675.7,368.3 674.1,366.9 672.2,365.5 670.0,364.4 668.1,363.9 666.0,363.5 663.9,363.2 661.8,363.0 659.7,362.9 657.5,362.8 655.2,362.7 652.9,362.7 650.7,362.7 648.8,362.5 647.0,362.2 645.2,361.5 643.2,360.7 640.7,360.4 638.3,360.7 636.1,361.4 633.8,362.2 631.7,363.0 629.7,363.8 627.7,364.9 626.0,365.9 624.5,366.6 622.8,367.1 620.8,367.4 618.8,367.5 617.2,367.5 615.4,367.4 613.6,366.4 611.9,365.4 610.0,364.1 608.0,362.7 606.3,361.4 604.5,360.1 602.8,358.8 601.1,357.5 599.7,356.4 598.2,355.0 596.9,353.8 595.4,352.3 593.8,350.9 592.0,349.3 590.3,347.8 588.8,346.5 586.9,344.8 585.3,343.3 583.5,342.0 581.5,341.1 579.6,340.5Z M641.1,364.5 642.9,364.7 645.1,364.9 647.6,365.3 650.0,365.8 651.9,366.4 653.6,367.1 655.4,367.9 657.2,368.9 659.0,369.8 660.9,370.7 662.8,371.5 664.8,372.4 666.7,373.2 668.7,374.0 670.7,374.7 672.8,375.4 674.9,376.0 677.2,376.6 679.5,377.1 681.6,377.6 683.5,378.0 684.8,378.3 685.2,376.1 683.9,375.8 682.1,375.4 680.0,374.9 677.7,374.4 675.5,373.8 673.4,373.2 671.5,372.5 669.5,371.8 667.6,371.0 665.7,370.2 663.8,369.3 661.9,368.5 660.1,367.6 658.3,366.7 656.5,365.7 654.6,364.8 652.7,364.0 650.6,363.4 648.0,362.8 645.5,362.4 643.2,362.1 641.4,361.9Z M474.5,388.8 476.3,388.7 478.8,388.5 481.2,388.5 483.0,388.6 485.0,388.9 487.3,389.5 489.5,390.1 491.4,390.6 493.5,391.2 495.7,391.7 497.9,392.2 500.1,392.5 502.5,392.6 504.9,392.6 507.2,392.5 509.4,392.2 511.5,391.8 514.0,391.1 516.1,390.2 518.0,389.2 519.9,388.5 521.8,387.8 523.9,387.1 526.0,386.2 528.0,385.1 529.7,383.8 531.4,382.5 532.9,381.0 534.4,379.5 535.9,378.0 537.4,376.3 538.9,374.7 540.4,373.3 542.0,372.0 543.9,370.8 545.7,369.8 547.4,368.9 549.4,368.1 551.4,367.6 553.4,367.6 555.1,367.7 557.1,368.3 559.0,369.4 560.5,370.5 562.1,371.9 563.8,373.5 565.6,375.0 567.2,376.6 568.8,378.1 570.3,379.7 571.8,381.3 573.2,383.0 574.7,384.5 576.2,386.0 578.0,387.5 579.9,388.9 581.8,390.0 583.6,390.9 585.7,391.8 588.0,392.5 590.3,393.0 592.5,393.5 594.8,393.7 597.0,393.8 599.3,393.8 601.6,393.6 603.8,393.3 605.9,393.0 608.0,392.7 610.1,392.4 611.9,392.0 613.7,392.0 615.2,392.2 617.1,392.6 619.2,393.2 621.3,393.7 623.3,394.2 625.2,394.8 627.3,395.6 629.8,396.2 632.0,396.3 634.2,396.2 636.4,396.1 638.6,395.9 640.6,395.9 642.8,395.8 644.8,395.6 646.7,395.2 648.9,394.9 650.8,394.6 653.0,394.2 655.2,394.0 657.3,393.9 659.3,393.8 661.8,393.6 664.0,393.3 666.1,393.0 668.2,392.8 670.3,392.7 672.5,392.6 674.8,392.4 677.1,391.9 679.9,390.7 682.1,389.4 683.7,388.4 685.8,387.2 687.3,386.3 682.7,379.7 681.5,380.7 679.5,382.2 677.9,383.4 676.4,384.6 674.7,385.5 673.4,386.0 671.5,386.6 669.4,387.1 667.3,387.6 665.1,388.2 663.0,388.9 660.9,389.6 658.7,390.4 656.8,391.1 654.8,391.7 652.6,392.2 650.5,392.6 648.5,392.9 646.4,393.3 644.5,393.6 642.6,393.8 640.6,393.9 638.8,393.7 636.8,393.1 634.8,392.3 632.9,391.5 631.4,390.8 629.5,390.0 627.8,389.0 625.8,387.8 623.6,386.9 621.4,386.0 619.1,385.3 616.7,384.7 614.3,384.2 611.3,384.1 608.8,384.5 606.6,384.9 604.6,385.2 602.6,385.6 600.7,386.0 598.9,386.1 597.0,386.2 595.2,386.2 593.3,386.1 591.3,386.0 589.4,385.9 587.6,385.5 585.8,385.1 584.2,384.5 582.6,384.0 580.9,383.1 579.2,382.1 577.7,381.1 576.1,379.9 574.4,378.5 572.7,377.1 570.9,375.7 569.1,374.4 567.2,373.0 565.3,371.6 563.4,370.3 561.5,369.1 559.8,368.1 557.7,367.0 555.4,366.3 553.4,366.1 551.2,366.1 549.0,366.6 546.8,367.6 545.0,368.4 543.0,369.3 541.0,370.5 539.2,371.8 537.5,373.1 535.7,374.5 534.1,376.0 532.4,377.3 530.7,378.5 529.1,379.8 527.6,381.0 526.1,382.1 524.5,383.0 522.6,383.8 520.7,384.4 518.6,385.0 516.5,385.8 514.6,386.7 512.8,387.4 510.7,388.0 508.9,388.2 506.9,388.5 504.7,388.6 502.6,388.6 500.5,388.5 498.7,388.2 496.7,387.6 494.7,387.0 492.8,386.3 491.0,385.6 489.0,384.9 487.0,383.8 485.3,382.6 483.2,381.3 480.6,380.1 478.1,379.0 476.5,378.2Z M659.0,389.8 661.1,390.1 662.9,390.5 664.7,391.0 666.7,391.5 668.9,392.0 671.0,392.6 673.3,393.2 675.6,393.7 677.9,394.1 680.2,394.6 682.4,395.1 684.2,395.5 684.8,395.6 685.2,387.6 684.6,387.7 682.8,387.9 680.6,388.1 678.3,388.3 676.2,388.3 674.0,388.3 671.7,388.2 669.5,388.0 667.3,387.9 665.2,387.8 663.3,387.7 661.2,387.7 659.0,387.8Z M474.8,392.4 476.5,392.8 478.7,393.4 480.8,394.2 482.1,395.1 483.8,396.3 485.6,397.7 487.7,399.3 489.8,400.8 491.8,402.2 493.9,403.5 496.0,404.7 498.2,405.9 500.5,406.8 502.8,407.5 505.0,408.1 507.3,408.6 509.6,408.9 511.8,409.2 514.1,409.3 516.3,409.3 518.5,409.3 520.7,409.2 523.0,409.0 525.3,408.8 527.6,408.4 529.8,407.9 532.1,407.4 534.3,406.9 536.6,406.3 538.7,405.7 540.8,405.1 542.9,404.5 545.0,404.1 547.1,403.8 549.2,403.7 551.4,403.6 553.5,403.7 555.6,404.0 557.8,404.3 560.0,404.7 561.9,405.2 564.1,405.7 565.9,406.2 568.0,407.1 569.6,407.9 571.5,408.9 573.4,410.0 575.2,411.1 576.8,412.0 578.6,413.3 580.3,414.6 582.2,415.9 584.2,417.0 586.0,417.9 587.9,418.9 590.0,419.8 592.2,420.6 594.4,421.2 596.6,421.6 598.8,421.8 601.0,422.1 603.2,422.4 605.5,422.7 607.6,422.9 609.9,423.0 612.1,423.1 614.4,423.1 616.6,423.2 618.7,423.1 620.9,422.9 623.0,422.8 625.0,422.6 627.1,422.4 629.0,422.3 630.8,422.1 633.0,422.0 635.2,421.6 637.2,421.2 639.1,420.8 640.9,420.5 642.9,420.5 644.7,420.5 646.7,420.5 649.2,420.5 651.1,420.4 653.0,420.1 654.9,419.8 656.8,419.5 658.8,419.3 661.0,419.2 662.8,419.2 664.8,419.2 666.9,419.2 669.2,419.2 671.4,419.2 673.5,419.3 675.5,419.5 677.3,419.6 679.8,419.8 682.5,420.0 684.2,420.1 684.9,420.1 685.1,416.7 684.5,416.6 682.8,416.4 680.2,416.1 677.7,415.8 676.0,415.6 674.0,415.3 671.9,414.8 669.7,414.4 667.4,413.9 665.2,413.5 663.1,413.2 661.2,413.0 658.7,412.9 656.3,413.0 654.1,413.1 652.2,413.2 650.4,413.4 648.8,413.5 646.7,413.5 644.9,413.5 642.9,413.5 640.7,413.5 638.7,413.3 636.7,413.2 634.5,413.1 632.3,413.0 630.0,413.3 628.1,413.5 626.1,413.8 624.1,414.0 622.1,414.3 620.0,414.5 618.1,414.8 616.0,415.0 613.8,415.3 611.7,415.7 609.5,416.0 607.5,416.3 605.5,416.6 603.5,416.7 601.3,416.8 599.3,416.8 597.5,416.4 595.8,415.9 594.1,415.3 592.4,414.5 590.7,413.6 589.0,412.6 587.4,411.5 585.7,410.4 584.0,409.3 582.2,408.0 580.0,406.8 578.1,405.8 576.0,404.8 573.9,403.9 571.9,403.0 570.0,402.3 567.4,401.5 565.2,401.0 562.7,400.6 560.6,400.4 558.4,400.2 556.0,400.1 553.7,400.0 551.3,400.0 549.0,400.1 546.7,400.3 544.4,400.5 542.1,400.9 539.9,401.4 537.7,402.0 535.6,402.5 533.5,403.0 531.2,403.4 529.0,403.8 527.0,404.1 524.8,404.4 522.7,404.5 520.6,404.5 518.4,404.6 516.4,404.5 514.4,404.4 512.4,404.2 510.4,403.9 508.4,403.5 506.5,402.9 504.5,402.2 502.6,401.4 500.7,400.5 498.6,399.2 496.7,398.0 494.8,396.7 492.9,395.3 491.1,394.0 489.5,392.5 487.7,391.1 485.8,389.7 483.6,388.4 480.6,387.0 477.9,386.1 476.2,385.6Z M589.2,420.7 591.1,421.8 593.2,423.0 595.1,423.9 597.4,424.8 599.7,425.3 601.7,425.2 603.9,425.2 605.8,425.3 608.0,425.4 610.3,425.5 612.5,425.3 614.8,425.0 617.1,424.4 618.2,424.1 617.8,421.9 616.7,421.9 614.6,421.9 612.5,421.7 610.5,421.4 608.3,421.2 606.2,420.9 604.1,420.6 601.9,420.4 600.1,420.3 598.3,420.2 596.5,419.9 594.7,419.4 592.6,418.7 590.6,417.8Z M475.6,428.9 477.3,428.8 479.7,428.8 481.9,429.2 483.4,430.0 485.1,431.2 487.0,432.5 488.9,433.8 490.8,435.0 492.7,436.2 494.6,437.4 496.6,438.4 498.8,439.5 501.0,440.4 503.2,441.1 505.5,441.6 507.7,441.8 509.9,441.8 512.0,441.8 513.1,441.8 513.3,439.8 512.2,439.6 510.1,439.3 508.0,439.0 506.0,438.7 504.1,438.1 502.1,437.4 500.1,436.5 498.0,435.6 496.2,434.6 494.4,433.5 492.5,432.3 490.7,431.2 488.9,429.9 487.0,428.5 485.0,427.2 482.9,426.2 480.0,425.6 477.2,425.6 475.4,425.7Z M475.1,431.2 476.6,431.5 478.6,432.0 480.7,432.7 482.3,433.6 483.8,434.8 485.4,436.2 487.1,437.6 488.9,439.0 490.8,440.3 492.7,441.6 494.7,442.7 496.7,443.7 499.0,444.4 501.2,444.8 503.3,445.0 505.5,445.2 507.7,445.4 509.9,445.5 512.1,445.6 513.9,445.7 514.1,443.7 512.3,443.4 510.2,443.0 508.0,442.6 505.9,442.2 503.7,441.9 501.6,441.6 499.7,441.3 497.9,440.7 496.2,439.9 494.4,438.9 492.6,437.7 490.7,436.4 489.2,435.2 487.5,433.8 485.8,432.3 484.1,431.0 482.0,429.8 479.5,429.0 477.3,428.4 475.9,428.0Z M475.5,444.0 476.8,444.0 478.4,444.0 480.4,444.0 482.6,443.9 484.9,443.9 487.3,443.9 489.7,443.9 492.1,443.9 494.2,443.9 496.1,444.0 498.3,444.1 500.6,444.2 502.7,444.4 504.6,444.6 506.3,444.9 508.0,445.1 508.8,445.2 509.2,442.2 508.4,442.1 506.7,441.9 505.0,441.6 503.0,441.4 500.9,441.2 498.4,441.1 496.2,441.0 494.3,440.9 492.1,440.9 489.7,440.9 487.3,440.9 484.9,440.9 482.5,440.9 480.3,441.0 478.4,441.0 476.7,441.0 475.5,441.0Z M575.7,446.5 577.1,446.0 579.0,445.5 581.0,444.9 583.3,444.2 585.6,443.5 587.9,442.8 590.0,442.2 591.9,441.6 594.0,441.1 596.3,440.4 598.4,440.0 600.3,439.6 602.2,439.2 604.0,439.0 606.2,438.6 608.2,438.4 610.1,438.2 611.9,438.2 613.8,438.2 615.6,438.5 617.4,438.8 619.3,439.2 621.3,439.8 623.3,440.4 625.4,440.9 627.5,441.5 629.3,442.2 631.4,443.1 632.4,443.7 634.2,441.2 633.1,440.3 631.1,438.8 629.1,437.7 627.0,436.6 624.9,435.7 622.7,435.0 620.6,434.4 618.5,433.9 616.3,433.5 614.1,433.3 612.0,433.2 609.8,433.2 607.7,433.4 605.5,433.7 603.2,434.0 601.2,434.5 599.3,435.0 597.3,435.5 595.1,436.2 592.7,436.9 590.6,437.7 588.7,438.4 586.6,439.3 584.4,440.3 582.2,441.3 580.0,442.2 578.1,443.1 576.4,443.9 575.0,444.5Z M590.9,446.2 592.4,445.1 594.2,443.8 596.2,442.5 598.3,441.5 600.2,440.7 602.2,440.0 604.3,439.3 606.4,438.8 608.5,438.4 610.6,438.1 612.6,438.0 614.6,438.0 616.7,438.1 618.7,438.4 620.7,438.8 622.7,439.3 624.7,440.0 626.8,440.9 627.8,441.3 628.8,439.0 627.7,438.6 625.6,437.7 623.4,437.0 621.3,436.4 619.1,436.0 616.9,435.8 614.7,435.7 612.5,435.7 610.3,435.9 608.2,436.2 605.9,436.6 603.7,437.2 601.5,437.9 599.4,438.7 597.5,439.5 595.2,440.7 593.1,442.1 591.2,443.5 589.7,444.5Z M645.9,444.0 647.9,442.7 649.8,441.4 651.5,440.0 653.2,438.5 654.8,436.9 656.5,435.4 658.2,433.9 660.0,432.3 661.6,430.9 663.0,429.9 664.2,429.3 665.2,429.5 667.4,429.8 669.2,430.1 671.4,430.3 673.8,430.6 676.0,430.9 677.9,431.1 680.8,431.3 683.2,431.5 684.8,431.6 685.2,425.6 683.6,425.5 681.3,425.3 678.5,425.1 676.7,424.9 674.5,424.7 672.1,424.4 669.8,424.1 667.8,424.1 665.3,424.0 662.5,424.4 660.1,426.0 658.5,427.7 657.1,429.6 655.6,431.5 654.3,433.2 652.8,434.9 651.3,436.5 649.8,438.1 648.2,439.6 646.6,440.9 644.8,442.3Z M664.6,445.1 666.7,444.9 669.1,444.7 671.4,444.5 673.7,444.3 675.8,444.2 677.6,444.0 680.1,443.9 682.7,444.0 684.3,444.1 685.0,444.1 685.0,440.1 684.4,440.1 682.6,440.2 679.9,440.4 677.3,440.7 675.4,441.0 673.3,441.4 671.1,441.8 668.7,442.2 666.4,442.7 664.3,443.1Z M677.5,389.0a5.5,5.5 0 1,0 11.0,0a5.5,5.5 0 1,0 -11.0,0Z" fill="#000" stroke="#000" stroke-width="0.2"/>
</g>
<line x1="56.5" y1="554.8" x2="685.5" y2="554.8" stroke="#7a7a7a" stroke-width="1" stroke-dasharray="3.2,0.8"/>
<g clip-path="url(#cr2)">
<use href="#thin" transform="translate(0.0 466.5)" fill="none" stroke="#1c1c1c" stroke-width="1.05" stroke-linejoin="round"/>
<path d="M60.9,517.4 63.3,517.5 65.6,517.8 67.6,518.3 69.5,518.8 71.4,519.6 73.4,520.3 75.3,521.2 77.3,522.1 79.1,522.9 81.0,523.8 82.9,524.8 84.8,525.8 86.5,526.7 88.1,527.5 90.2,528.6 92.1,529.6 93.8,530.4 95.4,531.2 97.6,532.1 99.6,532.6 101.7,532.8 104.0,532.5 106.3,531.7 108.1,530.4 109.8,528.6 108.9,527.8 107.3,529.4 105.7,530.5 103.7,531.1 101.8,531.1 99.9,530.9 98.1,530.5 96.0,529.6 94.5,529.0 92.8,528.1 91.0,527.2 88.9,526.1 87.3,525.3 85.5,524.4 83.6,523.5 81.7,522.5 79.8,521.6 77.9,520.7 75.9,519.9 73.9,519.1 71.9,518.3 69.9,517.6 67.9,517.0 65.8,516.6 63.4,516.3 61.0,516.2Z M70.0,526.6 71.6,527.8 73.2,529.0 74.7,530.4 76.3,531.8 77.9,533.2 79.5,534.6 81.1,536.2 82.8,537.6 84.4,539.0 86.3,540.3 88.2,541.6 90.1,542.7 91.7,543.5 94.2,544.5 96.5,544.7 98.8,544.1 101.2,542.7 102.6,541.3 104.0,539.7 105.3,537.9 106.6,536.2 107.8,534.2 108.8,532.3 109.9,530.3 110.5,529.3 109.5,528.7 108.8,529.7 107.6,531.6 106.6,533.6 105.4,535.4 104.2,537.0 102.8,538.7 101.4,540.2 100.2,541.3 98.2,542.6 96.3,542.9 94.6,542.8 92.5,541.9 90.9,541.1 89.1,540.1 87.3,538.9 85.4,537.6 83.8,536.4 82.2,535.0 80.6,533.5 78.9,532.0 77.3,530.7 75.7,529.3 74.0,528.0 72.4,526.7 70.8,525.6Z M60.5,618.4 63.0,619.0 64.8,619.6 66.7,620.4 68.9,621.2 71.0,621.9 72.9,622.5 74.9,623.2 77.0,623.8 79.1,624.3 81.2,624.6 83.5,624.7 85.8,624.7 88.1,624.5 90.3,624.3 92.3,624.0 94.7,623.3 96.7,622.4 98.6,621.5 100.5,620.8 102.5,620.1 104.5,619.5 106.6,618.6 108.4,617.5 110.1,616.3 111.7,615.0 113.3,613.7 114.9,612.3 116.5,610.8 118.1,609.3 119.7,607.8 121.3,606.4 122.9,605.2 124.8,604.0 126.7,603.1 128.4,602.2 130.4,601.4 132.4,600.9 134.4,600.9 136.1,601.0 138.1,601.6 140.0,602.7 141.6,603.7 143.3,605.0 145.1,606.4 146.9,607.9 148.7,609.4 150.3,610.8 151.9,612.2 153.6,613.8 155.2,615.3 156.7,616.7 158.2,618.0 160.0,619.3 161.9,620.4 163.7,621.3 165.4,622.0 167.4,622.7 169.6,623.2 171.7,623.6 173.8,623.9 175.9,624.1 178.0,624.1 180.1,624.1 182.2,623.9 184.3,623.6 186.4,623.2 188.4,622.9 190.6,622.5 192.6,622.2 194.9,622.2 196.8,622.5 198.9,623.0 201.1,623.7 203.2,624.3 205.2,625.1 207.2,625.9 209.1,626.8 211.4,627.6 213.3,628.0 215.4,628.4 217.5,628.7 219.6,628.9 221.6,629.0 221.6,627.4 219.7,627.3 217.7,627.1 215.6,626.8 213.6,626.4 211.8,626.0 209.7,625.3 207.8,624.5 205.8,623.6 203.7,622.8 201.6,622.2 199.3,621.5 197.1,621.0 195.1,620.6 192.5,620.6 190.3,620.9 188.2,621.3 186.1,621.6 184.1,622.0 182.0,622.3 180.0,622.5 178.0,622.5 176.0,622.5 174.0,622.3 171.9,622.1 169.9,621.7 167.9,621.2 166.0,620.5 164.3,619.9 162.6,619.0 160.8,618.0 159.2,616.7 157.7,615.5 156.2,614.1 154.6,612.6 153.0,611.1 151.3,609.6 149.7,608.2 147.9,606.7 146.0,605.3 144.2,603.8 142.4,602.5 140.8,601.4 138.7,600.3 136.4,599.5 134.4,599.4 132.2,599.4 130.0,599.9 127.8,600.9 126.0,601.7 124.1,602.7 122.1,603.9 120.3,605.2 118.7,606.6 117.1,608.2 115.5,609.7 113.9,611.1 112.3,612.5 110.7,613.9 109.2,615.1 107.6,616.2 105.9,617.2 104.0,618.0 102.0,618.7 100.0,619.3 98.0,620.1 96.0,621.0 94.1,621.8 91.9,622.4 90.1,622.7 88.0,623.0 85.8,623.1 83.5,623.2 81.4,623.0 79.4,622.7 77.4,622.2 75.3,621.6 73.3,621.0 71.5,620.4 69.4,619.7 67.3,618.9 65.4,618.1 63.4,617.4 60.9,616.8Z M250.2,598.8 251.9,599.9 253.6,601.0 255.3,602.2 257.1,603.5 258.7,604.8 260.5,606.4 262.4,607.9 263.9,609.3 265.1,610.3 266.9,607.9 265.8,607.1 264.1,605.8 262.1,604.3 260.2,602.9 258.3,601.7 256.4,600.5 254.5,599.5 252.7,598.5 250.8,597.6Z M250.2,599.6 252.1,600.7 253.7,601.9 255.3,603.4 257.0,604.9 258.7,606.2 260.6,607.6 262.4,609.0 264.0,610.2 265.1,611.0 266.9,608.6 265.7,607.8 264.0,606.7 262.1,605.5 260.1,604.2 258.4,603.1 256.5,601.8 254.8,600.5 252.9,599.3 250.8,598.4Z M241.1,650.4 243.1,649.5 244.6,648.2 245.9,646.6 247.1,644.8 248.1,642.9 249.2,641.0 250.3,639.3 251.5,637.7 252.9,636.1 254.3,634.4 255.7,632.8 257.0,631.4 258.3,630.1 256.8,628.8 255.6,630.1 254.3,631.6 252.9,633.2 251.4,634.9 250.0,636.6 248.8,638.3 247.6,640.1 246.6,642.0 245.6,643.9 244.5,645.6 243.4,647.1 242.3,648.1 240.4,648.9Z M236.2,669.0 237.7,667.4 239.3,665.7 240.9,664.0 242.4,662.5 243.6,661.5 245.3,660.8 247.7,661.0 249.5,661.1 251.6,661.3 253.9,661.6 256.1,661.9 258.2,662.1 260.6,662.3 263.3,662.5 265.3,662.7 265.9,662.7 266.1,661.1 265.4,661.1 263.4,660.9 260.7,660.7 258.4,660.5 256.3,660.3 254.0,660.0 251.7,659.7 249.6,659.5 247.9,659.4 245.1,659.2 242.8,660.1 241.3,661.3 239.7,662.9 238.1,664.6 236.6,666.3 235.0,667.8Z M261.2,609.5a4.3,4.3 0 1,0 8.6,0a4.3,4.3 0 1,0 -8.6,0Z" fill="#000" stroke="#000" stroke-width="0.2"/>
<use href="#thin" transform="translate(209.5 466.5)" fill="none" stroke="#1c1c1c" stroke-width="1.50" stroke-linejoin="round"/>
<path d="M342.8,505.6 344.2,505.8 346.1,506.0 348.4,506.3 350.6,506.6 352.6,507.1 354.3,507.7 356.0,508.7 357.6,509.9 359.3,511.2 361.2,512.4 363.0,513.7 364.8,515.0 366.7,516.3 368.6,517.4 370.5,518.6 372.4,519.6 374.1,520.5 376.2,521.6 378.4,522.6 380.9,522.9 383.3,522.6 385.9,522.2 387.9,521.9 390.1,521.5 392.4,521.1 394.5,520.8 396.5,520.6 398.7,520.7 400.6,520.8 402.2,521.0 404.5,521.7 407.1,521.8 409.4,521.2 411.6,520.6 413.5,520.3 415.7,520.3 417.7,520.7 419.6,521.2 421.4,521.9 423.3,522.7 425.5,523.5 427.9,524.5 430.0,525.3 430.8,525.6 431.8,522.8 431.1,522.5 429.0,521.7 426.6,520.7 424.5,519.9 422.5,519.1 420.5,518.3 418.3,517.8 415.9,517.3 413.3,517.3 411.0,517.7 408.7,518.3 406.8,518.8 405.0,518.8 402.8,518.0 400.9,517.8 398.8,517.7 396.4,517.6 394.2,517.8 391.9,518.1 389.6,518.5 387.4,518.9 385.5,519.2 382.8,519.7 380.9,519.9 379.2,519.7 377.5,518.9 375.5,517.9 373.8,517.0 372.0,516.0 370.1,514.9 368.3,513.8 366.5,512.6 364.7,511.3 362.9,510.0 361.1,508.8 359.5,507.5 357.7,506.2 355.6,505.0 353.4,504.2 351.2,503.7 348.8,503.3 346.5,503.0 344.5,502.8 343.2,502.6Z M342.8,506.4 344.2,506.6 346.1,506.8 348.3,507.2 350.6,507.6 352.6,508.0 354.3,508.7 356.0,509.8 357.6,511.0 359.3,512.4 361.0,513.7 362.6,514.9 364.3,516.1 365.9,517.3 367.5,518.5 369.3,519.8 371.1,521.1 372.9,522.4 374.7,523.7 376.6,525.0 378.4,526.4 380.3,527.7 382.1,528.8 384.2,530.0 386.3,530.9 388.6,531.3 391.0,530.7 393.3,529.3 394.8,528.5 396.6,527.4 398.5,526.3 400.3,525.3 402.3,524.0 404.1,522.7 405.5,522.0 406.7,522.0 408.1,522.6 409.9,523.7 411.8,524.8 413.7,525.9 415.6,527.0 417.7,528.0 420.3,528.4 422.9,528.1 425.3,527.5 427.6,526.9 430.0,526.1 431.7,525.6 430.9,522.8 429.2,523.3 426.8,524.0 424.5,524.5 422.3,525.1 420.3,525.4 418.6,525.1 417.0,524.3 415.1,523.2 413.2,522.2 411.4,521.1 409.5,519.9 407.3,519.0 404.8,519.1 402.6,520.2 400.6,521.5 398.7,522.7 397.0,523.7 395.1,524.8 393.3,525.8 391.7,526.7 389.8,527.9 388.4,528.3 387.2,528.0 385.5,527.3 383.5,526.2 381.9,525.2 380.2,524.0 378.3,522.6 376.5,521.3 374.7,520.0 372.9,518.7 371.1,517.4 369.3,516.1 367.7,514.9 366.1,513.7 364.4,512.5 362.8,511.3 361.1,510.1 359.5,508.7 357.7,507.3 355.6,506.0 353.5,505.2 351.2,504.6 348.8,504.2 346.5,503.9 344.6,503.6 343.2,503.4Z M343.1,508.1 344.6,508.0 346.7,507.9 348.7,508.2 350.2,509.0 351.4,510.2 352.8,511.8 354.2,513.6 355.6,515.4 357.0,517.1 358.4,518.9 359.7,520.7 361.0,522.5 362.3,524.0 363.9,525.8 365.7,527.3 367.9,528.4 369.9,529.0 372.2,529.3 374.4,529.6 376.5,529.8 378.5,529.9 380.5,529.9 382.5,530.2 384.2,530.6 386.1,531.1 388.1,531.8 390.3,532.3 392.4,532.8 394.6,533.1 396.8,533.4 399.1,533.6 401.4,533.7 403.6,533.7 405.8,533.4 407.9,533.1 410.0,532.8 411.9,532.4 413.6,532.2 415.9,531.8 417.6,531.6 419.2,531.6 421.1,532.0 423.0,532.7 425.2,533.6 427.4,534.6 429.3,535.5 430.7,536.2 431.9,533.4 430.6,532.8 428.7,531.9 426.4,530.9 424.1,529.9 421.9,529.1 419.6,528.6 417.4,528.6 415.4,528.9 413.2,529.2 411.4,529.5 409.4,529.8 407.4,530.2 405.4,530.5 403.4,530.7 401.4,530.7 399.3,530.6 397.1,530.4 395.0,530.1 393.0,529.8 391.0,529.4 388.9,528.9 387.0,528.3 385.0,527.7 383.1,527.2 380.7,526.9 378.7,526.9 376.7,526.8 374.7,526.6 372.6,526.4 370.6,526.0 368.9,525.6 367.4,524.8 366.0,523.6 364.6,522.1 363.4,520.6 362.1,518.9 360.8,517.1 359.4,515.2 358.0,513.5 356.6,511.7 355.1,509.9 353.6,508.1 351.9,506.6 349.7,505.4 346.9,505.0 344.5,505.0 342.9,505.1Z M343.0,508.3 344.6,508.3 346.7,508.4 348.9,508.8 350.3,509.7 351.5,511.0 352.9,512.6 354.2,514.4 355.6,516.3 356.9,518.0 358.1,519.7 359.4,521.4 360.6,523.1 361.7,524.8 362.8,526.2 364.4,528.3 365.8,529.9 367.3,531.5 368.9,533.1 370.6,534.8 372.5,536.3 374.9,537.3 377.7,537.5 380.1,537.3 382.7,536.8 384.9,536.1 386.9,535.6 388.7,535.7 390.6,536.3 392.9,537.0 394.9,537.8 396.9,538.6 399.0,539.4 401.4,540.2 403.5,540.6 405.6,540.9 407.9,541.1 410.1,541.2 412.3,541.2 414.5,541.0 416.6,540.7 418.7,540.3 421.0,539.8 423.0,539.2 425.3,538.5 427.6,537.7 429.6,537.0 431.2,536.4 431.8,536.2 430.8,533.4 430.2,533.6 428.6,534.1 426.6,534.9 424.4,535.6 422.2,536.3 420.2,536.8 418.1,537.3 416.1,537.7 414.1,538.0 412.2,538.2 410.2,538.2 408.1,538.1 406.0,537.9 404.0,537.6 402.2,537.2 400.0,536.6 398.0,535.8 396.0,535.0 393.8,534.2 391.5,533.4 389.2,532.8 386.6,532.6 384.1,533.3 382.0,533.8 379.7,534.3 377.6,534.5 375.6,534.4 374.0,533.7 372.6,532.6 371.0,531.0 369.5,529.5 368.0,527.9 366.7,526.4 365.2,524.4 364.2,523.0 363.0,521.4 361.8,519.7 360.6,517.9 359.3,516.2 358.0,514.5 356.7,512.6 355.2,510.7 353.8,508.9 352.1,507.3 349.9,506.0 347.1,505.4 344.7,505.3 343.0,505.3Z M431.9,525.4 433.2,524.8 435.0,524.0 437.1,523.1 439.3,522.2 441.4,521.4 443.3,520.7 445.3,520.2 447.4,519.7 449.4,519.3 451.3,518.9 453.1,518.6 455.4,518.1 457.4,517.8 459.4,517.4 461.5,516.6 463.4,515.6 465.2,514.5 467.0,513.5 468.8,512.6 470.8,511.7 472.9,510.8 474.8,509.9 476.1,509.4 474.9,506.6 473.6,507.2 471.7,508.0 469.6,508.9 467.5,509.9 465.5,510.9 463.7,512.0 461.9,513.0 460.3,513.9 458.6,514.5 456.8,514.9 454.9,515.2 452.5,515.6 450.7,516.0 448.8,516.4 446.7,516.8 444.6,517.3 442.5,517.9 440.4,518.5 438.1,519.4 435.9,520.3 433.8,521.3 432.0,522.1 430.7,522.6Z M430.7,525.4 432.6,526.3 435.1,527.1 437.2,527.6 439.5,528.1 441.9,528.3 444.1,528.1 446.2,527.6 448.4,526.9 450.5,526.1 452.3,525.2 454.2,524.3 456.2,523.3 458.1,522.3 459.9,521.3 461.8,520.3 463.7,519.2 465.3,518.2 466.9,517.4 468.7,516.6 471.0,516.0 473.3,515.4 475.2,514.9 475.9,514.8 475.1,511.8 474.5,512.0 472.6,512.5 470.2,513.1 467.8,513.8 465.6,514.6 463.8,515.6 462.2,516.6 460.3,517.7 458.5,518.7 456.8,519.6 454.8,520.6 452.9,521.6 451.0,522.5 449.3,523.3 447.4,524.1 445.3,524.7 443.6,525.1 441.9,525.3 439.9,525.1 437.9,524.7 436.0,524.2 433.7,523.5 431.9,522.6Z M431.9,536.4 433.3,535.7 435.3,534.8 437.6,533.8 439.6,533.0 441.4,532.5 443.4,531.9 445.5,531.3 447.6,530.5 449.8,529.5 451.6,528.5 453.4,527.4 455.2,526.2 456.9,524.9 458.6,523.7 460.1,522.7 461.9,521.6 463.7,520.4 465.3,519.5 466.8,518.8 468.5,518.4 470.7,518.2 472.9,518.2 474.8,518.2 475.5,518.2 475.5,515.2 474.9,515.2 473.0,515.2 470.5,515.2 468.0,515.4 465.8,516.0 463.9,516.8 462.1,517.9 460.3,519.1 458.5,520.2 456.9,521.3 455.2,522.5 453.5,523.7 451.7,524.9 450.0,526.0 448.4,526.9 446.5,527.7 444.5,528.4 442.5,529.0 440.5,529.6 438.6,530.2 436.5,531.0 434.1,532.1 432.0,533.0 430.7,533.6Z M430.9,536.4 432.4,536.9 434.6,537.5 437.1,537.9 439.4,537.9 441.7,537.6 443.9,537.0 446.1,536.1 448.1,534.9 450.0,533.6 451.9,532.2 453.7,530.9 455.5,529.6 457.3,528.2 459.0,526.9 460.7,525.9 462.5,525.2 464.4,524.7 466.4,524.2 468.5,523.7 470.9,523.3 473.2,522.9 475.1,522.6 475.8,522.5 475.2,519.5 474.6,519.6 472.7,519.9 470.3,520.4 467.9,520.8 465.8,521.3 463.7,521.7 461.5,522.3 459.3,523.3 457.4,524.4 455.5,525.8 453.7,527.2 451.9,528.5 450.1,529.8 448.3,531.2 446.5,532.4 444.9,533.3 442.9,534.1 441.0,534.7 439.2,534.9 437.4,535.0 435.3,534.5 433.2,534.0 431.7,533.6Z M342.4,508.6 343.8,508.7 345.8,509.0 347.9,509.2 350.1,509.5 351.8,509.7 353.2,510.0 354.7,510.7 356.2,511.7 358.1,512.9 360.0,514.0 362.0,515.1 364.0,516.2 366.0,517.3 368.0,518.3 370.1,519.3 372.1,520.2 373.9,521.0 376.1,521.8 378.1,522.6 379.5,519.8 377.6,518.7 375.8,517.5 374.1,516.4 372.4,515.2 370.6,514.0 369.0,512.7 367.4,511.3 365.7,509.9 364.0,508.4 362.4,507.0 360.9,505.6 359.0,504.1 356.7,502.6 354.2,501.6 351.7,500.8 349.2,500.3 346.9,500.0 344.9,499.8 343.6,499.6Z M342.6,507.9 344.0,508.1 345.9,508.3 348.1,508.6 350.3,509.0 352.1,509.5 353.6,510.0 355.2,510.9 356.8,512.0 358.5,513.4 360.3,514.6 362.0,515.7 363.7,516.9 365.4,518.0 367.1,519.1 369.0,520.3 370.9,521.5 372.8,522.7 374.6,523.9 376.5,525.2 378.3,526.5 380.2,527.8 382.0,528.8 383.1,529.4 384.6,526.8 383.6,526.2 382.0,525.1 380.2,523.9 378.4,522.5 376.6,521.1 374.9,519.8 373.1,518.4 371.4,516.9 369.7,515.5 368.2,514.2 366.6,512.9 365.0,511.6 363.5,510.4 361.9,509.1 360.3,507.7 358.5,506.2 356.3,504.7 353.9,503.7 351.5,503.1 349.1,502.7 346.7,502.4 344.8,502.1 343.4,501.9Z M265.7,512.2 267.1,512.2 269.0,512.3 271.2,512.4 273.6,512.5 276.0,512.7 278.4,512.8 280.5,513.0 282.6,513.2 284.8,513.5 287.0,513.8 289.2,514.1 291.2,514.5 293.1,514.8 295.3,515.1 297.6,515.4 299.5,515.6 301.5,515.7 303.7,515.7 305.9,515.7 308.2,515.5 310.7,515.1 313.1,514.4 315.3,513.7 317.4,513.1 319.2,512.6 321.2,512.1 323.3,511.6 325.4,511.1 327.3,510.7 329.3,510.3 331.4,509.8 333.3,509.4 335.2,509.1 337.5,508.9 339.9,508.8 342.1,508.8 343.6,508.8 342.4,499.4 340.9,499.8 338.8,500.3 336.3,500.9 333.8,501.5 331.8,501.9 329.7,502.4 327.7,502.9 325.6,503.4 323.6,503.9 321.5,504.4 319.4,505.0 317.4,505.5 315.4,506.0 313.2,506.6 311.0,507.3 309.1,507.9 307.3,508.2 305.6,508.3 303.7,508.3 301.7,508.3 300.0,508.3 298.4,508.1 296.3,507.9 294.1,507.6 292.3,507.3 290.3,507.0 288.2,506.6 285.9,506.2 283.6,505.8 281.4,505.4 279.2,505.1 276.7,504.8 274.2,504.6 271.7,504.3 269.5,504.1 267.7,504.0 266.3,503.8Z M265.8,517.2 267.2,517.2 269.1,517.2 271.3,517.2 273.7,517.2 276.2,517.2 278.6,517.3 280.7,517.4 282.8,517.5 285.0,517.6 287.3,517.7 289.5,517.9 291.5,518.0 293.3,518.1 295.6,518.3 297.8,518.4 299.7,518.5 301.7,518.5 303.9,518.3 306.0,518.0 308.2,517.8 310.5,517.5 312.8,517.1 315.0,516.6 317.2,516.1 319.1,515.8 321.2,515.4 323.3,514.9 325.6,514.4 327.6,513.7 329.8,513.0 331.8,512.2 333.8,511.6 335.5,511.1 337.7,510.6 340.1,510.2 342.2,510.0 343.7,509.7 342.3,501.9 340.8,502.2 338.7,502.6 336.1,503.2 333.5,503.9 331.4,504.6 329.3,505.4 327.2,506.2 325.3,507.0 323.4,507.6 321.4,508.4 319.4,509.1 317.5,509.8 315.6,510.4 313.5,511.1 311.3,511.9 309.4,512.6 307.4,513.2 305.5,513.5 303.5,513.7 301.5,513.7 299.9,513.6 298.2,513.5 296.1,513.2 293.8,512.9 292.0,512.7 290.0,512.4 287.9,512.1 285.6,511.8 283.4,511.5 281.2,511.2 279.0,511.0 276.5,510.7 274.0,510.5 271.6,510.3 269.4,510.1 267.5,509.9 266.2,509.8Z M270.4,517.8 272.8,517.9 275.0,518.2 277.0,518.6 278.9,519.2 280.8,519.9 282.8,520.6 284.7,521.5 286.7,522.3 288.5,523.1 290.4,524.1 292.3,525.0 294.2,526.0 295.9,526.9 297.5,527.7 299.7,528.8 301.5,529.7 303.2,530.6 304.8,531.3 307.0,532.2 309.0,532.8 311.2,533.1 313.7,533.1 316.2,532.5 318.3,531.2 320.2,529.6 322.0,528.0 323.5,526.9 325.0,525.7 326.7,524.2 328.3,522.4 329.6,520.7 330.9,518.9 332.3,517.0 333.6,515.3 334.7,513.9 336.2,512.4 337.7,511.0 339.0,509.9 340.0,509.1 342.2,508.0 343.9,507.6 342.1,501.8 340.0,502.5 337.0,503.9 335.3,505.2 333.6,506.6 332.0,508.2 330.3,510.1 329.0,511.7 327.6,513.6 326.3,515.5 325.0,517.4 323.9,519.0 322.6,520.5 321.4,522.1 320.2,523.5 319.0,525.0 317.5,526.8 316.1,528.6 314.8,529.7 313.1,530.5 311.3,530.8 309.4,530.8 307.7,530.3 305.6,529.5 304.1,528.8 302.4,528.0 300.6,527.0 298.5,525.9 296.9,525.1 295.1,524.2 293.2,523.2 291.3,522.3 289.4,521.3 287.5,520.5 285.5,519.6 283.5,518.8 281.5,518.0 279.5,517.3 277.5,516.7 275.4,516.2 272.9,515.9 270.5,515.8Z M269.9,522.8 272.4,523.4 274.1,524.1 275.8,524.9 277.6,525.9 279.4,526.9 280.9,528.0 282.5,529.3 284.0,530.6 285.6,532.0 287.2,533.3 288.9,534.8 290.5,536.3 292.1,537.8 293.8,539.1 295.7,540.4 297.7,541.7 299.5,542.8 301.2,543.6 303.7,544.6 306.0,544.9 308.5,544.5 311.0,543.1 312.6,541.8 314.1,540.3 315.6,538.6 317.1,536.9 318.5,534.9 319.6,533.0 320.8,531.3 322.1,529.8 323.3,528.6 324.6,527.3 326.1,525.7 327.7,523.8 328.9,522.2 330.2,520.5 331.5,518.7 332.8,516.9 334.1,515.1 335.3,513.6 336.2,512.6 338.1,510.7 339.5,509.7 340.6,509.1 343.0,508.3 343.5,508.3 342.5,502.3 341.3,502.6 338.4,503.5 336.3,504.7 334.2,506.1 331.8,508.4 330.6,510.0 329.3,511.6 328.1,513.5 326.8,515.3 325.5,517.2 324.3,518.8 323.3,520.2 321.8,522.0 320.5,523.6 319.2,525.1 318.1,526.7 316.8,528.7 315.8,530.9 314.9,532.9 313.9,534.7 312.9,536.4 311.6,538.2 310.4,539.7 309.4,540.9 307.5,542.2 305.8,542.7 304.2,542.7 302.0,541.8 300.5,541.0 298.7,540.0 296.8,538.8 295.0,537.5 293.4,536.2 291.8,534.8 290.2,533.3 288.6,531.8 286.9,530.5 285.3,529.1 283.7,527.7 282.1,526.4 280.4,525.3 278.6,524.1 276.7,523.1 274.9,522.3 273.0,521.6 270.5,520.8Z M343.1,509.6 344.7,509.4 346.6,509.2 348.4,509.2 349.7,509.7 350.9,510.7 352.3,512.2 353.9,513.8 355.4,515.6 356.8,517.2 358.2,519.0 359.6,520.8 361.0,522.5 362.3,524.0 362.9,524.7 365.1,522.7 364.6,522.1 363.5,520.6 362.2,518.8 360.9,516.9 359.5,515.1 358.2,513.3 356.9,511.4 355.6,509.5 354.1,507.6 352.4,505.9 350.0,504.4 347.0,503.7 344.4,503.7 342.9,503.6Z M342.9,509.8 344.5,509.7 346.6,509.6 348.5,509.8 349.8,510.4 351.0,511.4 352.4,512.9 353.9,514.7 355.4,516.5 356.7,518.1 358.0,519.8 359.3,521.5 360.5,523.2 361.7,524.8 362.8,526.2 365.2,524.4 364.2,523.0 363.1,521.4 361.9,519.6 360.7,517.8 359.5,516.1 358.3,514.3 357.0,512.4 355.7,510.4 354.3,508.5 352.6,506.7 350.3,505.1 347.3,504.2 344.7,504.0 343.1,503.8Z M432.5,525.1 434.0,524.5 436.0,523.6 438.2,522.7 440.4,521.8 442.4,521.1 444.3,520.6 446.4,520.1 448.4,519.7 450.4,519.3 452.3,519.0 454.3,518.6 456.4,518.3 458.5,517.9 460.6,517.3 462.6,516.4 464.5,515.4 466.3,514.4 468.1,513.4 469.9,512.5 472.1,511.6 474.1,510.8 475.7,510.1 476.3,509.8 474.7,506.2 474.1,506.4 472.5,507.1 470.5,508.1 468.3,509.0 466.3,510.0 464.4,511.1 462.6,512.2 460.9,513.1 459.4,513.9 457.6,514.4 455.8,514.8 453.7,515.1 451.6,515.6 449.7,516.0 447.7,516.4 445.6,516.9 443.5,517.4 441.4,518.1 439.2,518.9 437.0,519.8 434.8,520.8 432.8,521.7 431.3,522.4Z M431.5,525.8 434.2,526.9 436.1,527.4 438.3,528.0 440.7,528.4 443.0,528.4 445.2,528.1 447.3,527.5 449.7,526.6 451.5,525.9 453.4,525.0 455.3,524.0 457.3,523.0 459.2,522.1 460.9,521.2 463.0,520.1 464.7,519.0 466.3,518.1 467.9,517.4 470.0,516.7 472.3,516.1 474.5,515.6 476.0,515.2 475.0,511.4 473.5,511.7 471.3,512.3 468.8,513.0 466.5,513.8 464.5,514.8 462.8,515.8 461.1,516.9 459.1,518.0 457.5,518.9 455.7,519.8 453.8,520.9 451.8,521.9 450.0,522.7 448.5,523.4 446.2,524.3 444.4,524.8 442.8,525.1 441.0,525.2 438.9,524.9 436.9,524.4 435.2,523.9 432.6,523.0Z M266.4,598.2 267.8,597.8 269.8,597.4 272.1,596.8 274.7,595.9 277.1,594.8 278.9,593.7 280.7,592.4 282.5,590.9 284.3,589.4 285.9,588.0 287.5,586.7 289.1,585.2 290.9,583.7 292.5,582.2 293.9,580.9 295.4,579.5 297.0,578.3 298.6,577.0 300.2,575.8 301.7,574.7 303.4,573.5 305.2,572.4 306.9,571.3 308.7,570.3 310.5,569.2 312.3,568.3 314.1,567.4 316.0,566.6 318.1,565.9 320.2,565.2 322.3,564.6 324.0,564.3 326.1,564.5 328.0,565.2 330.0,566.1 331.7,567.0 333.5,568.0 335.3,569.0 337.1,570.0 339.1,571.4 341.6,572.6 344.5,572.4 346.9,571.3 349.0,569.9 350.8,568.8 352.8,567.9 354.8,567.0 356.7,566.2 358.6,565.5 360.5,564.9 362.3,564.6 364.1,564.4 366.0,564.4 367.9,564.7 369.8,565.1 371.7,565.6 373.7,566.4 375.7,567.2 377.8,568.1 379.9,568.9 382.0,569.6 384.0,570.3 386.0,571.0 388.1,571.8 390.0,572.5 391.8,573.2 393.9,573.8 396.0,574.5 397.7,575.1 399.8,575.9 401.9,576.8 403.8,577.8 405.5,578.7 407.3,579.8 409.1,581.0 410.9,582.1 412.7,583.3 414.5,584.6 416.3,585.8 418.2,587.1 420.0,588.4 421.9,589.7 423.7,590.9 425.7,592.0 427.8,593.2 430.1,594.0 433.0,593.7 435.5,592.1 436.8,591.9 439.0,591.5 441.3,591.2 443.6,591.0 445.5,590.9 447.6,591.0 449.4,591.4 451.2,591.9 453.2,592.5 455.1,593.3 457.2,594.2 459.2,595.0 461.2,595.9 463.3,596.8 465.5,597.8 467.8,598.5 470.3,599.0 472.7,599.3 474.6,599.6 475.2,599.7 475.8,594.7 475.1,594.7 473.2,594.6 470.9,594.4 468.7,594.2 466.7,593.8 464.8,593.1 462.8,592.3 460.8,591.4 458.7,590.5 456.7,589.6 454.5,588.7 452.4,588.1 450.3,587.5 448.1,587.1 445.5,586.9 443.3,587.0 440.8,587.2 438.4,587.6 436.1,588.0 433.9,588.5 431.5,590.0 430.7,590.1 429.5,589.6 427.6,588.6 425.8,587.5 424.1,586.4 422.3,585.1 420.5,583.8 418.6,582.5 416.8,581.2 415.0,579.9 413.2,578.7 411.3,577.5 409.5,576.3 407.7,575.1 405.8,574.0 403.8,572.9 401.5,571.9 399.3,571.0 397.4,570.3 395.2,569.6 393.2,569.0 391.6,568.4 389.6,567.7 387.6,566.9 385.6,566.1 383.5,565.4 381.4,564.7 379.4,563.9 377.4,563.1 375.3,562.2 373.1,561.4 370.9,560.8 368.7,560.3 366.4,559.9 364.1,559.8 361.7,560.0 359.5,560.3 357.2,560.9 355.0,561.6 352.8,562.5 350.7,563.6 348.6,564.8 346.5,566.2 344.7,567.7 343.3,568.5 342.4,568.7 341.0,568.0 339.0,566.8 337.0,565.8 335.2,564.8 333.2,563.9 331.3,563.0 329.2,562.2 326.8,561.4 324.0,561.3 321.7,561.6 319.4,562.3 317.1,563.0 315.0,563.8 312.8,564.6 310.9,565.5 309.0,566.5 307.2,567.5 305.3,568.6 303.5,569.7 301.6,570.9 299.9,572.1 298.2,573.2 296.6,574.5 295.0,575.7 293.4,577.1 291.8,578.4 290.2,579.8 288.7,581.2 287.0,582.7 285.3,584.1 283.7,585.5 282.1,586.9 280.4,588.3 278.7,589.7 277.0,590.9 275.5,591.8 273.4,592.7 271.2,593.5 268.9,594.0 267.0,594.5 265.6,594.8Z M268.4,613.4 269.8,612.6 271.9,611.4 274.3,609.8 276.4,608.3 278.1,606.7 279.7,605.2 281.3,603.8 282.9,602.6 284.4,601.5 286.0,600.4 287.6,599.3 289.3,598.2 291.0,597.0 292.6,595.8 294.3,594.6 295.9,593.3 297.6,591.9 299.4,590.5 301.0,589.0 302.5,587.6 304.0,586.4 305.5,585.3 307.2,584.2 308.9,583.2 310.5,582.3 312.2,581.5 313.9,580.8 315.6,580.2 317.3,579.7 319.0,579.2 320.8,578.9 322.8,578.6 324.8,578.3 326.7,577.7 328.6,577.3 330.2,576.9 332.1,576.7 334.1,576.7 336.2,576.6 338.5,576.5 340.9,576.4 342.6,576.4 343.4,566.0 341.8,565.9 339.3,565.8 336.8,565.7 334.5,565.6 332.1,565.6 329.4,565.7 326.9,566.1 324.6,566.5 322.3,567.1 320.2,567.6 318.1,568.1 315.9,568.7 313.7,569.5 311.6,570.3 309.5,571.2 307.4,572.3 305.3,573.4 303.4,574.6 301.4,575.9 299.5,577.2 297.6,578.7 295.9,580.2 294.2,581.7 292.7,583.1 291.2,584.3 289.6,585.5 288.1,586.8 286.5,588.0 284.9,589.2 283.3,590.4 281.7,591.6 280.2,592.8 278.6,594.1 276.9,595.4 275.3,596.8 273.6,598.2 272.0,599.5 270.6,600.6 269.0,601.6 267.0,602.6 265.0,603.5 263.6,604.2Z M270.2,622.6 272.7,622.6 275.1,622.3 277.7,621.4 279.9,619.6 281.4,617.7 282.8,615.6 284.1,613.6 285.4,611.8 286.7,610.0 288.0,608.2 289.3,606.5 290.7,604.8 292.0,603.1 293.5,601.2 294.8,599.5 296.2,597.6 297.6,595.8 298.9,594.0 300.0,592.5 301.6,590.3 302.9,588.6 304.2,586.8 305.4,585.2 306.8,583.7 308.3,582.2 310.0,580.7 310.7,580.1 308.3,576.9 307.4,577.6 305.6,579.2 303.8,580.9 302.3,582.7 301.0,584.4 299.6,586.2 298.4,588.0 296.8,590.1 295.7,591.7 294.4,593.4 293.0,595.3 291.6,597.0 290.3,598.8 288.9,600.6 287.5,602.3 286.2,604.0 284.8,605.9 283.4,607.7 282.2,609.5 280.9,611.4 279.5,613.3 278.2,615.3 277.0,616.9 275.8,617.9 274.3,618.4 272.4,618.6 270.2,618.6Z M269.4,624.5 271.0,624.6 273.4,624.7 275.9,624.5 278.7,623.6 281.2,621.8 282.8,620.1 284.2,618.1 285.5,616.2 286.8,614.3 288.0,612.4 289.2,610.6 290.5,608.6 291.6,607.1 292.8,605.6 294.0,603.9 295.3,602.1 296.6,600.3 297.8,598.3 299.0,596.3 300.2,594.4 301.2,592.9 302.2,591.3 303.3,590.1 304.7,589.2 306.5,588.2 308.6,587.4 310.6,587.0 312.6,586.8 314.6,586.9 316.5,587.0 318.6,587.7 320.3,588.4 322.2,589.3 324.6,590.3 326.8,590.9 328.8,591.4 330.9,591.8 333.1,592.2 335.1,592.5 336.9,592.8 339.1,593.1 340.8,593.2 343.0,593.2 344.8,593.1 346.8,593.0 349.0,592.8 351.3,592.5 353.5,592.1 355.5,591.6 357.6,590.9 359.7,590.1 361.7,589.4 363.5,588.8 365.6,588.1 367.7,587.5 369.6,587.0 371.5,586.8 373.5,586.7 375.4,586.8 377.4,587.2 379.2,587.8 380.9,588.7 382.7,589.8 384.5,590.9 386.4,591.9 388.5,592.8 390.3,593.6 391.9,594.5 393.2,596.0 394.4,597.9 396.0,599.9 397.5,601.2 398.4,601.8 399.6,600.2 398.8,599.6 397.4,598.5 396.0,596.7 394.7,594.8 393.1,593.1 391.2,591.9 389.2,591.0 387.2,590.2 385.4,589.3 383.6,588.2 381.8,587.1 379.9,586.1 377.8,585.4 375.6,585.1 373.5,584.9 371.3,585.0 369.3,585.3 367.2,585.8 365.1,586.5 363.0,587.2 361.1,587.8 359.1,588.6 357.1,589.3 355.0,590.0 353.1,590.5 351.0,590.9 348.8,591.2 346.7,591.4 344.7,591.5 343.0,591.6 340.9,591.6 339.3,591.5 337.1,591.2 335.4,590.9 333.4,590.6 331.2,590.2 329.1,589.8 327.2,589.4 325.1,588.8 322.9,587.9 320.9,587.0 319.2,586.3 316.9,585.5 314.7,585.3 312.6,585.2 310.4,585.4 308.2,585.7 305.9,586.3 303.7,587.0 301.8,587.6 299.8,588.7 298.0,590.5 296.8,592.2 295.6,594.2 294.4,596.3 293.2,598.1 292.0,599.9 290.8,601.5 289.6,603.2 288.4,604.8 287.3,606.4 285.9,608.3 284.7,610.2 283.5,612.1 282.2,613.9 280.9,615.9 279.6,617.6 278.6,618.8 276.9,620.0 275.1,620.5 273.4,620.7 271.2,620.6 269.6,620.5Z M342.4,573.6 343.7,574.2 345.6,575.0 348.0,575.9 350.3,576.5 352.4,577.0 354.7,577.4 357.0,577.8 359.2,578.1 361.4,578.5 363.7,578.9 366.0,579.2 368.0,579.4 369.9,579.6 372.3,579.4 374.4,579.3 376.2,579.4 378.5,579.5 380.9,579.6 383.1,579.6 385.3,579.7 387.6,579.7 389.7,579.8 391.6,579.8 393.5,580.0 394.9,580.5 396.9,581.2 398.8,581.9 401.0,582.8 403.1,583.7 404.8,584.5 406.6,585.4 408.4,586.3 410.1,587.2 411.9,588.3 413.7,589.4 415.6,590.6 417.5,591.7 419.7,592.7 421.9,593.6 424.1,594.3 426.5,595.0 429.0,595.3 430.9,595.5 432.9,595.9 435.6,595.9 437.7,595.7 440.0,595.5 442.4,595.3 444.6,595.2 446.6,595.2 448.6,595.4 450.4,595.7 452.1,596.3 453.6,597.1 455.2,598.1 456.9,599.2 458.7,600.4 460.5,601.5 462.1,602.6 463.8,603.7 465.5,605.0 467.1,606.2 468.9,607.8 470.7,609.4 472.2,610.8 473.3,611.8 477.7,606.4 476.5,605.5 474.8,604.3 472.8,602.9 470.7,601.5 468.9,600.2 466.8,599.0 464.9,597.9 463.1,597.0 461.3,596.0 459.5,595.0 457.6,594.0 455.6,593.0 453.5,592.3 451.3,591.7 449.1,591.4 446.8,591.2 444.5,591.2 442.2,591.3 439.7,591.5 437.3,591.7 435.4,591.9 433.2,591.9 431.5,591.5 429.4,591.3 427.2,591.0 425.2,590.5 423.3,589.8 421.3,589.0 419.3,588.1 417.6,587.2 415.8,586.1 414.0,584.9 412.1,583.8 410.2,582.8 408.4,581.8 406.6,580.9 404.7,580.1 402.5,579.1 400.3,578.2 398.3,577.4 396.2,576.7 394.3,576.1 391.9,575.8 389.9,575.8 387.7,575.7 385.4,575.7 383.2,575.6 381.1,575.6 378.7,575.5 376.4,575.4 374.3,575.3 372.0,575.4 369.9,575.6 368.4,575.5 366.4,575.3 364.2,575.1 361.9,574.8 359.7,574.6 357.5,574.3 355.2,574.0 353.0,573.7 351.0,573.3 348.9,572.8 346.8,572.1 344.9,571.3 343.6,570.8Z M343.0,572.0 344.5,572.0 346.6,571.9 348.9,571.9 351.3,571.8 353.2,571.9 355.4,572.1 357.3,572.3 359.2,572.7 361.1,573.2 363.2,573.9 365.3,574.7 367.3,575.4 369.4,576.1 371.1,576.6 372.7,577.4 374.2,578.5 375.7,579.9 377.6,581.6 379.1,583.0 380.8,584.5 382.6,586.1 384.1,587.5 385.7,588.9 386.9,590.2 388.5,591.6 389.9,592.8 391.5,594.2 393.2,595.6 394.9,597.0 396.7,598.4 398.7,599.9 400.6,601.3 402.4,602.5 404.7,603.8 407.4,604.3 409.4,604.3 411.6,604.2 414.0,603.8 416.2,603.2 418.1,602.2 419.9,601.2 421.6,600.3 423.5,599.5 425.5,598.8 427.6,598.2 429.6,597.6 431.2,597.4 433.0,597.6 434.7,598.1 436.8,598.8 439.1,599.1 441.3,599.2 443.5,599.2 445.8,599.3 447.9,599.4 450.0,599.6 452.0,599.8 454.0,600.1 456.0,600.4 457.7,600.9 459.1,601.3 460.7,602.2 462.1,603.4 463.7,604.8 465.5,606.3 467.2,607.6 469.1,609.1 470.9,610.5 472.4,611.8 473.5,612.7 477.5,606.9 476.3,606.2 474.6,605.2 472.6,604.0 470.6,602.8 468.9,601.7 467.2,600.4 465.4,599.1 463.4,597.7 460.9,596.7 458.8,596.1 456.7,595.8 454.5,595.7 452.3,595.6 450.2,595.5 448.1,595.5 445.7,595.6 443.4,595.8 441.2,596.0 439.3,596.1 437.4,595.8 435.6,595.3 433.6,594.6 431.2,594.4 429.0,594.7 426.7,595.3 424.5,596.0 422.4,596.7 420.4,597.6 418.4,598.6 416.7,599.6 415.1,600.4 413.4,600.9 411.3,601.2 409.3,601.3 407.6,601.3 405.7,601.0 404.0,600.0 402.3,598.9 400.5,597.5 398.5,596.0 396.8,594.7 395.1,593.3 393.4,591.9 391.8,590.5 390.5,589.4 389.0,588.0 387.7,586.8 386.2,585.3 384.6,583.9 382.9,582.3 381.1,580.7 379.6,579.4 377.8,577.7 376.1,576.2 374.3,574.8 372.3,573.9 370.3,573.2 368.3,572.6 366.3,571.9 364.2,571.1 362.0,570.3 359.8,569.8 357.8,569.4 355.7,569.1 353.4,568.9 351.3,568.8 348.9,568.9 346.5,568.9 344.4,569.0 343.0,569.0Z M439.3,598.6 441.6,599.3 443.3,600.0 445.0,600.9 446.7,601.8 448.5,602.9 450.3,603.9 452.1,604.8 454.1,605.8 456.0,606.7 457.9,607.6 459.9,608.5 461.9,609.3 463.9,610.1 466.2,610.9 468.5,611.6 470.7,612.2 472.7,612.8 474.3,613.3 474.8,613.4 476.2,607.6 475.6,607.5 474.0,607.2 471.9,606.9 469.7,606.5 467.4,606.1 465.2,605.7 463.3,605.2 461.3,604.6 459.4,604.0 457.4,603.3 455.5,602.5 453.5,601.8 451.7,601.0 449.8,600.2 448.0,599.4 446.1,598.5 444.2,597.7 442.2,597.1 439.8,596.6Z M342.9,575.2 344.4,575.3 346.4,575.4 348.7,575.6 351.0,575.8 352.7,576.0 354.7,576.3 356.4,576.6 358.2,577.1 360.1,577.6 362.1,578.2 364.2,578.8 366.1,579.5 368.2,580.2 369.8,580.8 371.1,581.5 372.4,582.4 373.9,583.7 375.8,585.4 377.2,586.7 378.5,588.1 380.0,589.5 381.4,591.0 382.7,592.5 384.0,593.9 385.2,595.4 386.4,596.9 387.8,598.4 389.1,599.9 390.5,601.5 392.0,603.2 393.5,604.9 395.0,606.6 396.6,608.3 398.4,610.0 400.0,611.5 401.7,612.9 403.3,614.3 404.8,615.6 406.3,617.0 408.0,618.5 409.9,620.0 412.1,621.4 414.8,622.4 417.4,622.8 419.8,623.0 422.0,623.0 424.2,622.9 426.3,622.8 428.4,622.5 430.2,622.2 432.1,622.2 433.9,622.3 435.6,622.5 437.4,622.9 439.2,623.3 441.0,623.9 443.1,624.6 445.4,624.9 447.6,625.2 449.9,625.3 452.3,625.5 454.7,625.6 457.2,625.4 459.2,625.2 461.3,624.9 463.5,624.5 464.6,624.1 464.1,621.6 463.2,621.6 461.2,621.5 459.2,621.3 457.4,621.0 455.4,620.5 453.6,619.7 451.5,618.8 449.5,618.0 447.7,617.1 445.7,616.0 443.4,615.4 441.2,614.9 438.8,614.5 436.6,614.2 434.5,614.1 432.3,614.1 430.1,614.0 427.9,613.9 425.8,613.8 423.7,614.0 422.0,614.0 420.1,614.0 418.2,613.9 416.9,613.8 415.7,613.4 414.7,612.9 413.4,611.9 411.9,610.6 410.2,609.2 408.5,607.8 406.9,606.6 405.3,605.3 403.8,604.1 402.4,602.7 401.2,601.3 399.9,599.6 398.6,597.9 397.2,596.0 395.9,594.3 394.5,592.6 393.2,591.1 391.8,589.5 390.4,588.0 388.9,586.5 387.3,585.0 385.8,583.6 384.2,582.1 382.7,580.8 381.4,579.6 379.6,577.7 377.9,576.0 375.9,574.3 373.6,572.9 371.5,571.9 369.5,571.1 367.5,570.2 365.3,569.3 363.0,568.5 360.8,567.8 358.7,567.1 356.5,566.6 353.9,566.2 351.6,566.1 349.1,566.1 346.6,566.1 344.5,566.2 343.1,566.2Z M404.0,612.7 405.2,614.5 406.3,616.4 407.4,618.4 409.0,620.1 410.8,621.8 412.7,623.3 414.6,624.6 416.6,625.8 418.9,626.7 421.2,627.3 423.5,627.6 425.8,627.8 428.1,627.9 430.2,627.9 432.3,627.9 434.5,627.7 436.5,627.5 438.5,627.3 440.6,627.1 442.7,626.8 444.9,626.5 446.9,626.0 448.7,625.5 450.5,625.3 452.3,625.1 454.1,625.1 456.1,625.2 458.3,625.2 460.5,625.2 462.8,625.3 463.9,625.3 464.3,622.7 463.2,622.4 461.0,621.7 458.9,621.1 456.8,620.5 454.9,619.9 452.9,619.4 450.7,619.0 448.4,618.7 446.1,618.6 443.9,618.6 441.7,618.9 439.7,619.1 437.6,619.3 435.6,619.6 433.8,619.8 432.0,619.9 430.2,619.9 428.2,619.9 426.3,619.8 424.4,619.7 422.8,619.5 421.3,619.1 419.8,618.6 418.4,618.0 416.9,617.2 415.4,616.2 414.0,615.0 412.4,613.5 410.3,612.3 408.2,611.1 406.2,610.1Z M265.7,618.5 267.4,618.8 269.8,619.3 272.2,619.9 274.0,620.5 275.9,621.3 278.1,622.1 280.2,622.8 282.1,623.4 284.1,624.0 286.3,624.6 288.5,625.1 290.6,625.5 293.0,625.6 295.4,625.6 297.7,625.4 299.9,625.1 302.0,624.8 304.4,624.1 306.5,623.2 308.4,622.3 310.3,621.6 312.2,620.9 314.3,620.2 316.4,619.3 318.3,618.1 320.0,616.8 321.6,615.4 323.1,614.0 324.6,612.5 326.2,611.0 327.8,609.5 329.3,607.9 330.9,606.5 332.5,605.3 334.4,604.1 336.2,603.1 338.0,602.3 340.0,601.5 341.9,601.0 343.9,601.0 345.6,601.1 347.6,601.7 349.5,602.8 351.0,603.8 352.7,605.1 354.5,606.5 356.3,608.0 358.1,609.5 359.7,610.9 361.3,612.4 362.9,613.9 364.5,615.5 366.0,616.9 367.5,618.2 369.3,619.5 371.2,620.7 373.0,621.6 374.8,622.4 376.8,623.1 379.0,623.7 381.1,624.1 383.3,624.4 385.4,624.6 387.5,624.7 389.6,624.6 391.8,624.5 393.9,624.2 396.0,623.9 398.0,623.6 400.2,623.2 402.2,622.9 404.4,622.9 406.1,623.2 408.2,623.7 410.4,624.4 412.5,625.0 414.5,625.7 416.4,626.6 418.4,627.5 420.7,628.2 422.7,628.7 424.8,629.1 426.9,629.4 429.1,629.6 431.0,629.7 431.2,626.7 429.3,626.6 427.3,626.4 425.2,626.1 423.2,625.7 421.5,625.4 419.4,624.7 417.6,623.8 415.6,622.9 413.4,622.2 411.3,621.5 409.0,620.8 406.8,620.3 404.6,619.9 402.0,619.9 399.7,620.2 397.6,620.6 395.5,621.0 393.5,621.4 391.5,621.7 389.5,621.9 387.5,622.0 385.5,622.0 383.5,621.8 381.5,621.6 379.5,621.3 377.5,620.8 375.6,620.2 374.0,619.5 372.3,618.7 370.5,617.7 368.9,616.5 367.4,615.3 365.9,614.0 364.3,612.5 362.6,611.0 360.9,609.5 359.2,608.1 357.5,606.7 355.6,605.2 353.8,603.7 352.0,602.4 350.4,601.3 348.2,600.2 345.9,599.5 343.9,599.3 341.7,599.3 339.4,599.9 337.3,600.8 335.5,601.6 333.5,602.7 331.6,603.9 329.7,605.1 328.1,606.5 326.4,608.0 324.8,609.5 323.2,610.9 321.5,612.2 319.9,613.5 318.3,614.6 316.8,615.7 315.1,616.5 313.2,617.2 311.2,617.9 309.2,618.5 307.1,619.3 305.2,620.2 303.4,621.0 301.2,621.6 299.4,621.9 297.4,622.1 295.2,622.3 293.1,622.3 291.0,622.1 289.1,621.8 287.1,621.4 285.1,620.8 283.1,620.2 281.3,619.5 279.2,618.9 277.2,618.1 275.2,617.3 273.2,616.5 270.6,615.9 268.0,615.4 266.3,615.1Z M441.5,651.5 443.7,651.7 445.9,652.1 448.3,652.3 451.0,652.1 453.6,651.0 455.4,649.4 456.9,647.6 458.1,645.7 459.2,643.8 460.3,641.9 461.3,640.3 462.4,638.8 463.7,637.2 465.1,635.5 466.4,633.9 467.7,632.5 468.8,631.2 470.4,629.7 472.0,628.4 472.9,627.9 475.1,627.4 475.7,627.4 475.3,622.4 474.2,622.5 471.3,623.1 469.1,624.3 467.1,625.9 465.3,627.7 464.0,629.0 462.6,630.5 461.1,632.1 459.6,633.8 458.1,635.5 456.8,637.3 455.6,639.2 454.5,641.2 453.5,643.0 452.5,644.6 451.6,645.9 450.8,646.6 449.6,647.2 447.9,647.7 445.9,648.0 443.7,648.2 441.5,648.5Z M265.8,625.3 267.5,625.6 269.9,626.1 272.3,627.0 273.9,628.0 275.6,629.3 277.4,630.7 279.4,632.0 281.3,633.2 283.4,634.4 285.4,635.4 287.4,636.4 289.5,637.4 291.7,638.3 293.8,639.1 296.0,639.8 298.2,640.3 300.3,640.7 302.5,641.0 304.7,641.2 306.9,641.2 309.0,641.2 311.2,641.2 313.4,641.1 315.7,640.9 318.0,640.5 320.1,640.2 322.4,639.7 324.6,639.2 326.8,638.7 329.0,638.1 331.1,637.5 333.2,637.0 335.3,636.6 337.5,636.3 339.6,636.2 341.8,636.1 344.0,636.2 346.2,636.4 348.5,636.7 350.6,637.0 352.6,637.4 354.9,637.8 356.8,638.4 359.0,639.2 360.7,640.0 362.6,640.9 364.6,642.0 366.5,643.0 368.1,644.0 370.0,645.3 371.6,646.7 373.4,648.2 375.2,649.4 376.8,650.6 378.6,651.8 380.7,652.8 382.8,653.6 385.0,654.3 387.1,654.7 389.3,654.9 391.5,655.1 393.8,655.1 396.0,655.1 398.1,655.0 400.3,654.9 402.5,654.7 404.7,654.4 406.9,654.2 409.0,653.9 411.1,653.7 413.2,653.4 415.2,653.1 417.2,652.7 419.2,652.4 421.0,652.2 423.3,651.9 425.4,651.6 427.5,651.5 429.5,651.4 431.3,651.3 433.4,651.3 435.3,651.4 437.2,651.6 439.6,651.8 441.4,651.8 443.3,651.8 445.2,651.8 447.2,651.7 449.3,651.6 451.6,651.8 453.3,651.9 455.3,652.1 457.4,652.3 459.6,652.6 461.9,652.8 464.0,653.1 465.9,653.3 467.7,653.5 470.3,653.8 473.0,654.0 474.7,654.1 475.3,654.2 475.7,649.2 475.1,649.2 473.4,649.0 470.7,648.8 468.2,648.5 466.5,648.3 464.6,648.1 462.4,647.9 460.2,647.6 457.9,647.4 455.7,647.2 453.6,647.0 451.6,647.0 449.2,647.2 446.9,647.4 444.8,647.7 442.8,648.1 441.1,648.5 439.4,648.8 437.2,649.1 435.3,649.2 433.4,649.3 431.3,649.3 429.4,649.4 427.4,649.5 425.3,649.6 423.1,649.7 420.8,649.8 418.9,649.9 416.9,650.0 414.9,650.1 412.8,650.3 410.8,650.4 408.8,650.5 406.7,650.6 404.5,650.7 402.3,650.7 400.1,650.8 398.0,650.8 396.0,650.7 393.9,650.6 391.8,650.4 389.8,650.2 388.0,649.9 386.2,649.4 384.5,648.9 382.7,648.2 381.0,647.3 379.2,646.5 377.4,645.7 375.5,644.8 373.7,643.7 371.8,642.6 369.7,641.4 367.8,640.5 365.9,639.4 363.8,638.4 361.8,637.5 360.0,636.8 357.6,635.9 355.4,635.4 353.0,635.0 351.0,634.7 348.7,634.5 346.4,634.2 344.1,634.1 341.8,634.1 339.5,634.2 337.3,634.4 335.0,634.6 332.8,635.0 330.6,635.6 328.4,636.2 326.3,636.8 324.2,637.3 322.0,637.7 319.7,638.2 317.6,638.6 315.4,638.9 313.2,639.1 311.1,639.2 309.0,639.2 306.9,639.2 304.8,639.2 302.7,639.0 300.6,638.7 298.6,638.3 296.5,637.8 294.5,637.2 292.4,636.5 290.4,635.6 288.2,634.6 286.3,633.6 284.3,632.6 282.3,631.5 280.4,630.4 278.6,629.1 276.8,627.7 275.0,626.3 273.1,625.2 270.5,624.2 267.9,623.7 266.2,623.3Z M266.1,652.9 267.6,652.8 269.8,652.5 272.2,652.3 274.6,652.1 276.6,652.1 278.8,652.2 280.7,652.4 282.6,652.9 284.4,653.4 286.2,654.2 288.0,655.1 289.9,656.1 292.0,656.9 294.2,657.8 296.5,658.6 298.6,659.2 301.3,659.6 304.0,659.5 306.5,658.5 308.4,656.9 310.2,655.1 311.8,653.5 313.3,652.0 314.8,650.3 316.5,648.6 318.0,647.2 319.7,645.6 321.3,644.1 323.0,642.7 324.7,641.4 326.6,640.2 328.5,639.2 330.3,638.4 332.4,637.6 334.5,637.2 336.7,636.8 338.7,636.5 340.7,636.3 342.9,636.3 344.8,636.5 346.9,636.7 349.0,637.1 351.1,637.5 353.1,638.1 355.1,638.8 357.0,639.6 359.0,640.6 360.8,641.5 362.6,642.6 364.3,643.7 366.1,644.9 367.8,646.1 369.5,647.3 371.2,648.5 373.0,649.8 374.7,651.2 376.6,652.5 378.5,653.7 380.4,655.0 382.5,656.1 384.5,657.2 386.5,657.9 389.1,658.3 391.3,658.4 393.3,658.4 395.3,658.5 397.4,658.6 399.6,658.7 401.9,658.8 404.1,658.7 406.5,658.4 408.8,658.0 411.0,657.4 413.2,656.7 415.2,655.9 417.2,655.0 419.2,654.2 421.2,653.5 423.2,653.0 425.5,652.6 427.7,652.3 429.8,652.0 431.3,651.8 432.6,652.0 435.1,652.2 436.7,652.2 438.5,652.2 440.5,652.2 442.7,652.4 445.0,652.6 447.2,652.8 449.3,653.1 451.3,653.5 453.3,654.0 455.3,654.6 457.5,655.3 459.6,656.0 461.7,656.7 463.7,657.4 465.6,658.0 467.4,658.5 470.2,659.0 473.0,659.3 474.9,659.3 475.4,659.3 475.6,654.3 474.9,654.3 473.3,654.3 470.9,654.1 468.5,653.6 467.0,653.2 465.1,652.7 463.1,652.1 460.9,651.6 458.6,651.1 456.3,650.6 454.1,650.2 451.9,649.9 449.7,649.8 447.4,649.8 445.0,649.8 442.8,649.9 440.6,650.1 438.5,650.1 436.7,650.1 435.2,650.1 432.8,649.8 431.3,649.6 429.5,649.8 427.4,650.0 425.1,650.3 422.8,650.7 420.6,651.1 418.4,651.7 416.2,652.4 414.2,653.2 412.3,653.8 410.2,654.2 408.1,654.6 406.1,654.8 403.9,654.9 402.0,654.8 399.9,654.6 397.8,654.4 395.6,654.1 393.5,653.9 391.4,653.8 389.7,653.6 387.9,653.1 386.3,652.5 384.4,651.9 382.3,651.1 380.3,650.3 378.4,649.5 376.5,648.5 374.7,647.4 373.0,646.1 371.2,644.9 369.4,643.7 367.7,642.5 365.9,641.3 364.1,640.1 362.2,639.1 360.2,638.1 358.2,637.1 356.1,636.3 353.9,635.5 351.8,634.9 349.5,634.5 347.2,634.2 345.0,634.0 343.1,633.9 340.6,633.8 338.4,633.9 336.3,634.2 334.0,634.6 331.7,635.1 329.3,635.8 327.3,636.7 325.2,637.8 323.1,639.1 321.2,640.5 319.5,642.0 317.7,643.5 316.0,645.1 314.5,646.6 312.7,648.3 311.2,649.9 309.7,651.4 308.1,653.0 306.4,654.7 304.9,655.9 303.4,656.6 301.5,656.6 299.2,656.2 297.3,655.7 295.3,655.0 293.1,654.1 291.2,653.3 289.4,652.4 287.4,651.5 285.5,650.6 283.4,650.0 281.2,649.5 279.1,649.2 276.6,649.1 274.4,649.2 272.0,649.3 269.5,649.6 267.3,649.8 265.9,649.9Z M265.8,655.4 267.6,655.6 270.1,656.0 272.9,656.2 275.1,656.1 277.2,655.8 279.1,655.7 280.8,656.0 282.4,656.6 284.2,657.5 286.1,658.5 287.9,659.5 289.7,660.6 291.7,661.8 293.6,663.0 295.4,663.9 297.8,664.8 300.3,664.8 302.6,663.8 304.4,662.6 306.3,661.1 308.1,659.5 309.6,657.7 311.1,655.8 312.5,654.0 313.7,652.4 311.3,650.6 310.1,652.2 308.7,654.0 307.3,655.8 305.9,657.3 304.3,658.9 302.7,660.2 301.2,661.2 299.7,661.9 298.4,661.9 296.6,661.2 295.1,660.4 293.2,659.2 291.3,658.0 289.4,656.9 287.5,655.8 285.6,654.8 283.6,653.8 281.6,653.1 279.3,652.7 277.0,652.8 274.8,653.1 272.9,653.2 270.5,653.0 268.0,652.7 266.2,652.4Z M266.1,662.1 267.8,662.0 270.2,662.0 272.5,662.4 274.0,663.2 275.7,664.4 277.6,665.7 279.5,667.1 281.4,668.3 283.3,669.4 285.2,670.6 287.1,671.6 289.3,672.7 291.5,673.6 293.7,674.3 296.0,674.9 298.2,675.2 300.4,675.3 302.5,675.5 304.6,675.7 306.8,675.8 308.9,676.1 309.2,673.1 307.1,672.9 304.9,672.7 302.7,672.5 300.6,672.3 298.5,672.2 296.5,672.0 294.6,671.5 292.6,670.8 290.5,669.9 288.5,669.0 286.7,668.0 284.8,666.9 283.0,665.7 281.1,664.5 279.3,663.3 277.4,661.9 275.5,660.6 273.3,659.6 270.4,659.0 267.7,659.0 265.9,659.1Z M265.6,664.4 267.1,664.7 269.1,665.2 271.2,665.9 272.9,666.9 274.4,668.0 276.0,669.4 277.7,670.9 279.4,672.2 281.3,673.5 283.3,674.8 285.2,676.0 287.3,676.9 289.5,677.6 291.7,678.0 293.9,678.2 296.0,678.5 298.1,678.8 300.4,679.0 302.5,679.3 304.3,679.5 304.7,676.5 302.9,676.3 300.7,676.0 298.5,675.8 296.4,675.5 294.2,675.3 292.1,675.0 290.2,674.7 288.3,674.1 286.6,673.3 284.8,672.3 283.0,671.1 281.2,669.8 279.6,668.6 278.0,667.1 276.3,665.7 274.5,664.3 272.4,663.2 270.0,662.3 267.8,661.8 266.4,661.4Z M266.0,677.8 267.3,677.8 268.9,677.8 270.9,677.8 273.1,677.7 275.4,677.7 277.8,677.7 280.2,677.7 282.6,677.7 284.7,677.7 286.6,677.8 288.7,677.9 291.1,678.0 293.2,678.2 295.0,678.4 296.7,678.6 298.4,678.9 300.5,679.1 302.8,679.5 303.9,679.7 304.6,675.8 303.5,675.6 301.0,675.2 298.9,674.9 297.3,674.7 295.5,674.4 293.6,674.2 291.4,674.0 288.9,673.9 286.7,673.8 284.8,673.7 282.6,673.7 280.2,673.7 277.8,673.7 275.4,673.7 273.0,673.7 270.8,673.8 268.9,673.8 267.2,673.8 266.0,673.8Z M366.4,680.2 367.8,679.7 369.6,679.1 371.6,678.4 373.9,677.7 376.1,676.9 378.4,676.2 380.5,675.5 382.4,674.9 384.5,674.2 386.8,673.5 388.8,673.0 390.8,672.5 392.6,672.1 394.4,671.8 396.6,671.4 398.6,671.2 400.6,671.0 402.4,671.0 404.3,671.1 406.2,671.3 408.0,671.6 409.9,672.0 411.9,672.5 414.0,673.1 416.1,673.7 418.1,674.5 419.9,675.2 421.9,676.3 422.9,677.0 424.6,674.5 423.6,673.7 421.5,672.4 419.5,671.4 417.3,670.4 415.1,669.6 413.0,668.9 410.9,668.2 408.8,667.7 406.8,667.3 404.6,667.1 402.4,667.0 400.4,667.0 398.3,667.2 396.1,667.5 393.8,667.8 391.8,668.2 389.9,668.6 387.8,669.1 385.7,669.7 383.3,670.4 381.1,671.1 379.2,671.7 377.1,672.6 374.9,673.5 372.6,674.4 370.4,675.3 368.4,676.1 366.7,676.8 365.3,677.4Z M381.7,679.9 383.1,678.8 385.0,677.5 387.0,676.2 389.0,675.2 390.8,674.4 392.8,673.7 394.9,673.0 397.0,672.5 399.1,672.0 401.1,671.8 403.1,671.6 405.1,671.6 407.2,671.7 409.2,672.0 411.2,672.4 413.1,672.9 415.1,673.6 417.2,674.4 418.2,674.9 419.4,672.1 418.3,671.6 416.2,670.8 414.0,670.0 411.8,669.4 409.6,669.0 407.4,668.8 405.2,668.6 403.0,668.6 400.8,668.8 398.6,669.1 396.3,669.5 394.1,670.1 391.8,670.8 389.7,671.6 387.8,672.4 385.5,673.6 383.3,675.0 381.4,676.4 379.9,677.4Z M433.3,679.9 434.9,679.0 436.8,677.9 438.9,676.7 440.8,675.4 442.6,673.9 444.4,672.4 446.0,670.9 447.7,669.3 449.2,667.7 450.8,666.0 452.3,664.4 453.5,663.3 454.6,662.5 455.7,662.3 457.9,662.3 459.8,662.4 462.1,662.7 464.4,662.9 466.6,663.2 468.5,663.4 471.4,663.6 473.8,663.8 475.4,663.9 475.6,659.9 474.0,659.8 471.7,659.6 468.9,659.4 467.0,659.2 464.8,659.0 462.5,658.7 460.2,658.4 458.3,658.2 455.8,657.8 453.1,657.9 450.5,659.3 448.8,660.9 447.2,662.6 445.6,664.3 444.1,665.9 442.6,667.5 441.1,669.2 439.7,670.7 438.2,672.2 436.6,673.6 434.8,675.0 433.1,676.3 431.7,677.4Z M449.7,679.3 452.5,678.8 454.1,678.6 456.1,678.4 458.4,678.1 460.7,677.8 463.1,677.6 465.3,677.3 467.2,677.1 468.8,677.0 472.0,676.8 474.1,676.8 475.5,676.9 475.5,673.9 474.1,673.9 471.9,673.9 468.6,674.2 466.9,674.5 464.9,674.7 462.7,675.1 460.4,675.4 458.1,675.8 455.8,676.1 453.8,676.5 452.1,676.8 449.4,677.3Z M262.2,608.2a4.8,4.8 0 1,0 9.6,0a4.8,4.8 0 1,0 -9.6,0Z M262.5,509.0a4.5,4.5 0 1,0 9.0,0a4.5,4.5 0 1,0 -9.0,0Z M263.0,513.5a4.0,4.0 0 1,0 8.0,0a4.0,4.0 0 1,0 -8.0,0Z" fill="#000" stroke="#000" stroke-width="0.2"/>
<use href="#thin" transform="translate(419.0 466.5)" fill="none" stroke="#1c1c1c" stroke-width="1.30" stroke-linejoin="round"/>
<path d="M475.4,515.4 476.8,515.1 478.7,514.7 480.9,514.5 482.1,514.4 482.2,513.2 481.0,513.0 478.8,512.6 476.9,512.0 475.6,511.6Z M475.4,520.8 476.8,520.6 478.8,520.3 481.0,520.2 483.2,520.2 485.2,520.4 486.9,520.7 488.7,521.3 490.6,522.0 492.5,522.8 494.4,523.7 496.3,524.5 498.1,525.4 500.0,526.2 501.9,527.1 503.8,528.0 505.5,528.8 507.4,529.7 509.4,530.6 511.3,531.4 513.0,532.1 515.1,532.8 517.3,533.4 519.6,533.6 521.9,533.3 524.3,532.6 526.4,531.3 528.0,529.6 528.8,528.7 527.9,527.7 527.0,528.5 525.3,529.8 523.6,530.5 521.7,530.5 519.8,530.2 518.3,529.8 516.6,529.0 514.8,528.1 513.4,527.2 511.7,526.2 509.8,525.0 507.9,524.0 506.3,523.1 504.5,522.1 502.6,521.1 500.7,520.0 498.8,519.1 496.8,518.2 494.8,517.4 492.7,516.6 490.7,515.8 488.6,515.1 486.4,514.4 483.9,513.9 481.3,513.5 478.9,513.2 477.0,512.9 475.6,512.6Z M474.8,524.6 476.6,524.7 478.9,524.9 481.2,525.5 482.8,526.0 484.4,526.7 486.2,527.5 487.8,528.5 489.2,529.6 490.7,530.8 492.3,532.1 493.9,533.5 495.4,534.8 497.0,536.3 498.7,537.7 500.4,539.2 502.2,540.5 504.3,541.9 506.3,543.1 508.3,544.1 510.1,544.9 512.9,545.7 515.5,545.6 518.1,544.8 520.4,543.0 521.7,541.5 523.0,539.8 524.3,537.9 525.5,536.2 524.5,535.4 523.2,537.1 521.7,538.7 520.3,540.1 519.0,541.0 516.9,541.9 515.3,542.0 514.0,541.6 512.1,540.5 510.7,539.6 509.0,538.6 507.3,537.4 505.6,536.1 504.1,534.8 502.6,533.4 501.1,531.8 499.4,530.4 497.7,529.0 496.1,527.6 494.5,526.2 492.8,524.9 491.0,523.7 489.0,522.5 487.1,521.4 485.2,520.4 483.2,519.5 480.4,518.7 477.9,517.9 476.2,517.4Z M579.4,517.4 581.2,518.7 582.9,519.8 584.5,520.8 586.7,522.3 589.2,523.1 591.6,523.1 594.1,522.7 596.4,522.3 598.5,522.0 600.8,521.6 603.0,521.2 604.9,521.0 607.1,521.0 609.2,521.1 610.9,521.2 612.9,521.7 615.5,522.3 617.9,521.9 620.2,521.3 622.2,520.8 624.1,520.7 626.1,520.9 628.1,521.4 629.8,521.9 631.7,522.7 633.7,523.5 636.0,524.4 638.4,525.4 640.1,526.1 641.5,522.3 639.8,521.7 637.4,520.8 635.1,519.9 633.2,519.1 631.2,518.3 629.1,517.6 626.7,517.1 624.2,516.9 621.6,517.0 619.2,517.6 617.0,518.2 615.7,518.5 613.7,518.0 611.5,517.6 609.4,517.4 607.2,517.3 604.7,517.4 602.5,517.6 600.2,518.0 597.9,518.4 595.8,518.8 593.5,519.2 591.2,519.6 589.6,519.7 587.9,519.3 585.7,518.4 584.1,517.7 582.2,516.9 580.2,516.0Z M583.8,522.5 585.5,523.9 587.2,525.4 589.0,526.9 590.7,528.3 592.6,529.6 594.7,530.7 596.9,531.4 599.5,531.4 601.7,530.3 603.6,529.2 605.3,528.2 607.2,527.1 609.0,526.1 611.0,524.9 612.9,523.6 614.5,522.6 615.7,522.3 616.8,522.5 618.3,523.4 620.1,524.6 622.0,525.7 623.9,526.8 626.0,527.9 628.3,528.7 631.2,528.8 633.7,528.2 636.0,527.6 638.5,527.0 640.7,526.3 641.4,526.1 640.2,522.3 639.5,522.5 637.4,523.1 635.0,523.8 632.8,524.4 630.7,524.9 628.9,524.9 627.6,524.4 625.8,523.4 623.9,522.3 622.0,521.4 620.2,520.2 618.1,519.0 615.5,518.5 613.0,519.2 610.9,520.5 609.0,521.9 607.2,522.9 605.4,524.0 603.5,525.1 601.8,526.0 599.9,527.1 598.6,528.0 597.5,527.9 596.0,527.5 594.2,526.6 592.3,525.7 590.5,524.7 588.5,523.6 586.6,522.4 584.6,521.2Z M589.0,529.1 591.1,529.4 593.0,529.8 594.8,530.4 596.7,531.1 598.7,531.8 600.9,532.4 603.0,532.9 605.2,533.2 607.4,533.5 609.7,533.7 612.0,533.7 614.2,533.6 616.3,533.3 618.4,532.9 620.4,532.6 622.3,532.3 624.3,532.0 626.3,531.7 627.9,531.5 629.8,531.8 631.5,532.3 633.6,533.1 635.8,534.1 637.9,535.1 639.6,535.9 640.2,536.2 641.4,533.4 640.8,533.2 639.2,532.4 637.1,531.4 634.8,530.4 632.5,529.5 630.4,528.8 627.9,528.5 625.9,528.7 623.9,529.1 621.8,529.3 619.9,529.6 617.9,530.0 615.9,530.3 613.9,530.6 612.0,530.7 609.9,530.7 607.7,530.5 605.6,530.3 603.5,530.0 601.5,529.8 599.4,529.4 597.4,528.9 595.4,528.4 593.4,528.0 591.3,527.7 589.1,527.6Z M608.8,538.7 611.1,539.5 613.1,539.9 615.2,540.3 617.4,540.6 619.6,540.7 621.8,540.7 623.9,540.6 626.0,540.4 628.2,540.0 630.4,539.5 632.5,539.0 634.8,538.3 637.0,537.6 639.1,536.9 640.7,536.4 641.3,536.2 640.3,533.4 639.7,533.6 638.1,534.2 636.1,534.9 633.9,535.7 631.7,536.5 629.8,537.1 627.7,537.6 625.6,538.0 623.7,538.4 621.7,538.6 619.7,538.7 617.6,538.6 615.4,538.5 613.4,538.2 611.5,537.9 609.2,537.3Z M642.2,525.6 643.7,524.9 645.7,524.0 647.8,523.1 650.0,522.2 652.0,521.4 653.9,520.9 655.9,520.4 658.0,519.9 660.0,519.5 661.8,519.1 663.9,518.7 666.0,518.3 668.0,518.0 670.1,517.3 672.1,516.4 673.9,515.4 675.7,514.3 677.5,513.3 679.4,512.4 681.5,511.5 683.5,510.6 685.1,509.9 685.7,509.6 684.3,506.4 683.7,506.6 682.1,507.3 680.1,508.2 677.9,509.2 675.9,510.1 673.9,511.1 672.1,512.2 670.4,513.2 668.9,513.9 667.1,514.4 665.3,514.7 663.2,515.0 661.1,515.4 659.2,515.8 657.2,516.2 655.1,516.6 652.9,517.2 650.8,517.8 648.6,518.5 646.3,519.4 644.1,520.4 642.1,521.2 640.6,521.9Z M640.8,526.2 643.5,527.3 645.5,527.8 647.7,528.4 650.2,528.8 652.6,528.7 654.7,528.4 656.9,527.8 659.3,526.9 661.1,526.1 663.0,525.2 665.0,524.2 666.9,523.2 668.8,522.2 670.5,521.4 672.5,520.2 674.3,519.1 675.8,518.2 677.4,517.5 679.5,516.8 681.8,516.1 684.0,515.6 685.5,515.2 684.5,511.4 683.0,511.7 680.8,512.3 678.3,512.9 676.0,513.7 674.0,514.7 672.2,515.7 670.5,516.7 668.5,517.8 666.9,518.7 665.1,519.7 663.1,520.7 661.2,521.6 659.4,522.5 657.9,523.1 655.6,524.0 653.9,524.5 652.2,524.7 650.5,524.8 648.5,524.5 646.5,524.0 644.9,523.5 642.3,522.5Z M642.1,536.3 643.9,535.5 646.0,534.6 648.5,533.6 650.1,533.1 652.0,532.6 654.0,532.0 656.2,531.3 658.4,530.5 660.4,529.5 662.3,528.4 664.1,527.2 665.9,525.9 667.6,524.7 669.1,523.6 670.6,522.7 672.6,521.4 674.3,520.4 675.7,519.6 677.2,519.0 679.1,518.7 681.3,518.7 683.5,518.7 685.0,518.7 685.0,514.7 683.5,514.7 681.3,514.7 678.7,514.8 676.2,515.2 674.1,515.9 672.3,516.9 670.5,518.0 668.4,519.3 666.9,520.3 665.3,521.5 663.6,522.7 661.8,523.9 660.1,525.0 658.5,526.0 656.8,526.9 654.9,527.6 652.9,528.3 650.9,528.9 649.0,529.5 647.1,530.2 644.6,531.3 642.4,532.3 640.7,533.1Z M640.9,536.8 642.8,537.4 645.3,538.1 647.8,538.3 650.1,538.2 652.4,537.7 654.7,536.9 656.9,535.9 658.9,534.7 660.8,533.3 662.6,532.0 664.4,530.7 666.2,529.3 668.0,527.9 669.6,526.8 671.3,526.0 673.1,525.4 675.0,524.9 677.1,524.5 679.3,524.0 681.6,523.6 683.8,523.2 685.3,523.0 684.7,519.0 683.2,519.3 681.0,519.6 678.5,520.1 676.3,520.5 674.1,521.0 672.0,521.5 669.7,522.3 667.6,523.4 665.6,524.7 663.8,526.1 662.0,527.4 660.2,528.7 658.4,530.1 656.6,531.4 655.0,532.5 653.2,533.4 651.4,534.0 649.6,534.5 647.8,534.7 645.9,534.5 643.8,534.0 641.9,533.5Z M476.3,599.8 477.7,599.3 479.7,598.5 482.1,597.5 484.8,596.2 487.4,594.7 489.4,593.2 491.3,591.7 493.2,590.2 494.9,588.6 496.6,587.1 498.2,585.7 499.9,584.2 501.6,582.6 503.2,581.2 504.7,580.0 506.2,578.9 507.7,577.8 509.2,576.7 510.8,575.7 512.3,574.7 513.9,573.6 515.6,572.6 517.4,571.5 519.1,570.6 520.8,569.7 522.6,568.8 524.3,568.1 526.2,567.5 528.1,567.0 530.2,566.5 532.2,566.2 533.6,565.9 535.3,566.0 537.0,566.6 538.9,567.3 540.6,568.1 542.5,569.0 544.3,569.9 546.0,571.0 548.0,572.4 550.9,573.7 554.3,573.5 557.0,572.1 559.0,570.7 560.8,569.6 562.7,568.6 564.6,567.7 566.5,566.9 568.4,566.3 570.2,565.8 572.0,565.5 573.7,565.3 575.4,565.4 577.2,565.7 579.1,566.1 580.9,566.6 582.8,567.3 584.8,568.2 586.9,569.0 589.1,569.8 591.2,570.6 593.2,571.3 595.2,572.0 597.2,572.7 599.2,573.4 601.0,574.1 603.1,574.7 605.2,575.3 606.9,576.0 609.0,576.7 611.1,577.6 612.9,578.5 614.6,579.5 616.3,580.5 618.1,581.7 619.9,582.8 621.7,584.0 623.5,585.3 625.4,586.5 627.2,587.8 629.1,589.1 630.9,590.4 632.8,591.6 634.8,592.7 637.0,593.9 639.5,594.8 642.8,594.4 645.3,592.7 646.4,592.5 648.5,592.1 650.9,591.7 653.1,591.4 655.0,591.3 657.1,591.3 658.8,591.6 660.6,592.2 662.6,592.8 664.5,593.6 666.5,594.5 668.6,595.4 670.6,596.2 672.6,597.2 674.9,598.1 677.3,598.7 679.8,599.1 682.2,599.4 684.1,599.6 684.7,599.7 685.3,594.7 684.6,594.6 682.7,594.5 680.4,594.3 678.2,593.9 676.3,593.5 674.5,592.8 672.5,591.9 670.4,591.0 668.4,590.2 666.3,589.3 664.1,588.5 661.9,587.8 659.9,587.3 657.6,586.8 655.0,586.5 652.8,586.6 650.3,586.8 647.8,587.0 645.5,587.4 643.1,587.9 640.7,589.4 640.3,589.3 639.3,588.9 637.5,587.9 635.7,586.8 634.1,585.7 632.3,584.4 630.4,583.1 628.6,581.8 626.8,580.5 625.0,579.2 623.1,578.0 621.3,576.7 619.5,575.5 617.6,574.4 615.7,573.2 613.6,572.1 611.3,571.1 609.1,570.2 607.2,569.5 605.0,568.7 603.0,568.1 601.4,567.5 599.5,566.8 597.4,566.0 595.4,565.2 593.3,564.4 591.3,563.7 589.3,563.0 587.3,562.2 585.2,561.3 582.9,560.4 580.6,559.8 578.3,559.3 576.0,558.9 573.5,558.9 571.1,559.0 568.8,559.5 566.5,560.1 564.2,560.9 562.0,561.8 559.8,562.9 557.6,564.0 555.4,565.5 553.6,566.8 552.5,567.5 552.1,567.6 551.0,567.1 549.1,565.9 547.0,564.8 545.2,563.8 543.3,562.8 541.3,561.8 539.2,560.9 536.5,560.0 533.4,559.7 530.9,560.0 528.4,560.4 526.0,561.0 523.8,561.5 521.7,562.1 519.6,562.9 517.7,563.8 515.8,564.8 513.9,565.7 512.0,566.7 510.1,567.9 508.3,569.0 506.6,570.0 505.0,571.2 503.3,572.3 501.6,573.5 500.0,574.8 498.5,576.1 496.9,577.4 495.3,578.9 493.6,580.4 492.1,581.8 490.4,583.3 488.7,584.8 487.1,586.2 485.5,587.4 484.2,588.5 482.3,589.7 480.2,590.8 478.0,591.8 476.1,592.6 474.7,593.2Z M569.8,577.8 572.1,578.1 574.4,578.4 576.6,578.7 578.5,578.9 580.9,579.0 583.1,578.7 584.7,578.8 586.9,578.9 589.2,579.0 591.7,579.2 593.7,579.2 596.0,579.3 598.2,579.4 600.2,579.4 601.8,579.5 603.9,579.9 605.6,580.6 607.4,581.3 609.5,582.1 611.7,583.0 613.6,583.9 615.3,584.7 617.1,585.6 618.9,586.5 620.6,587.5 622.4,588.6 624.2,589.8 626.2,591.0 628.2,592.0 630.4,592.9 632.6,593.7 634.7,594.4 637.3,594.9 639.5,595.1 641.6,595.4 644.2,595.6 646.1,595.5 648.3,595.4 650.7,595.1 653.0,595.0 655.0,594.9 657.2,595.0 659.1,595.3 660.8,595.7 662.5,596.3 664.2,597.1 665.9,598.1 667.7,599.2 669.5,600.2 671.3,601.2 673.0,602.3 674.7,603.4 676.4,604.7 678.2,606.1 680.1,607.6 681.9,609.1 683.3,610.3 683.8,610.7 686.2,607.5 685.7,607.2 684.3,606.0 682.5,604.6 680.5,603.1 678.6,601.7 676.7,600.5 674.8,599.3 673.0,598.2 671.3,597.2 669.5,596.2 667.7,595.1 665.8,594.0 663.9,593.0 661.8,592.3 659.7,591.8 657.5,591.6 655.0,591.5 652.9,591.5 650.4,591.7 648.0,591.9 645.8,592.1 644.2,592.2 641.9,592.0 640.0,591.7 637.8,591.5 635.5,591.0 633.7,590.4 631.7,589.7 629.7,588.8 627.8,587.9 626.1,586.8 624.3,585.7 622.4,584.5 620.5,583.5 618.7,582.5 616.9,581.6 615.0,580.7 613.0,579.8 610.8,578.9 608.6,578.1 606.8,577.4 604.7,576.7 602.2,576.3 600.4,576.1 598.3,576.1 596.0,576.1 593.8,576.1 591.7,576.0 589.4,576.0 587.0,575.9 584.8,575.9 582.9,575.9 580.8,576.2 578.7,576.2 576.9,576.0 574.8,575.8 572.5,575.5 570.2,575.2Z M579.0,575.8 580.7,576.5 582.3,577.3 583.7,578.5 585.2,580.0 587.0,581.7 588.5,583.2 590.1,584.8 591.8,586.4 593.3,587.9 594.8,589.3 596.0,590.6 597.5,592.1 598.9,593.4 600.5,594.8 602.2,596.3 603.9,597.8 605.6,599.2 607.5,600.8 609.4,602.2 611.2,603.5 613.8,605.0 616.7,605.5 618.9,605.6 621.3,605.4 623.8,605.1 626.2,604.3 628.2,603.3 630.0,602.3 631.6,601.4 633.4,600.6 635.3,599.7 637.3,598.9 639.2,598.3 640.7,597.9 642.4,598.0 644.0,598.6 646.2,599.2 648.6,599.4 650.8,599.4 653.0,599.3 655.3,599.2 657.4,599.2 659.5,599.3 661.5,599.5 663.6,599.7 665.5,599.9 667.3,600.3 668.8,600.7 670.6,601.6 672.1,602.7 673.7,604.1 675.6,605.5 677.3,606.8 679.2,608.1 681.1,609.5 682.7,610.6 683.9,611.4 686.1,608.2 685.0,607.4 683.4,606.2 681.5,604.9 679.5,603.6 677.8,602.5 676.1,601.1 674.4,599.7 672.5,598.4 670.2,597.3 668.2,596.7 666.1,596.3 663.9,596.1 661.8,595.9 659.7,595.8 657.6,595.7 655.2,595.6 652.9,595.7 650.7,595.7 648.8,595.7 647.0,595.4 645.2,594.8 643.2,594.2 640.7,593.9 638.3,594.1 636.0,594.5 633.7,595.1 631.5,595.7 629.4,596.5 627.3,597.5 625.6,598.5 624.2,599.2 622.6,599.7 620.7,600.0 618.7,600.1 617.3,600.1 615.7,599.8 614.1,599.0 612.5,597.9 610.6,596.6 608.7,595.2 606.9,593.9 605.2,592.6 603.5,591.3 601.8,590.0 600.5,588.9 598.9,587.5 597.6,586.4 596.0,584.9 594.4,583.6 592.6,582.0 590.8,580.6 589.2,579.3 587.4,577.6 585.6,576.1 583.7,574.9 581.7,574.0 579.7,573.4Z M644.0,598.1 646.4,598.5 648.8,598.9 651.0,599.6 652.7,600.2 654.4,601.1 656.1,602.0 657.9,603.0 659.8,604.0 661.6,604.9 663.6,605.8 665.5,606.6 667.4,607.5 669.4,608.3 671.5,609.0 673.6,609.7 675.8,610.3 678.1,610.9 680.4,611.5 682.4,611.9 684.0,612.3 684.5,612.4 685.5,608.6 684.9,608.4 683.3,608.1 681.3,607.7 679.0,607.2 676.7,606.7 674.6,606.1 672.7,605.5 670.7,604.8 668.8,604.1 666.9,603.3 665.0,602.5 663.0,601.7 661.2,601.0 659.4,600.1 657.6,599.2 655.7,598.3 653.8,597.5 651.8,596.8 649.4,596.3 646.8,595.9 644.3,595.6Z M476.3,610.3 477.7,609.6 479.8,608.5 482.1,607.2 484.0,605.8 485.7,604.5 487.3,603.0 488.9,601.6 490.5,600.3 492.1,599.0 493.7,597.8 495.3,596.6 496.9,595.3 498.5,594.0 500.1,592.8 501.7,591.5 503.4,590.2 505.0,588.8 506.7,587.4 508.3,585.9 509.9,584.4 511.4,583.1 513.1,581.8 514.8,580.5 516.6,579.4 518.3,578.3 520.1,577.3 521.9,576.4 523.7,575.6 525.6,574.9 527.4,574.3 529.4,573.7 531.3,573.2 533.4,572.7 535.4,572.3 537.5,571.9 539.4,571.6 541.6,571.5 543.7,571.5 545.9,571.6 548.3,571.7 550.7,571.8 552.4,571.9 552.6,569.5 550.9,569.3 548.5,569.0 546.1,568.8 543.9,568.7 541.6,568.6 539.2,568.6 537.0,568.8 534.8,569.2 532.7,569.6 530.6,570.1 528.6,570.5 526.5,571.1 524.4,571.7 522.4,572.4 520.5,573.2 518.5,574.2 516.5,575.3 514.7,576.4 512.8,577.7 511.0,579.0 509.2,580.4 507.5,581.8 505.9,583.3 504.3,584.8 502.8,586.2 501.2,587.5 499.6,588.8 498.0,590.0 496.3,591.3 494.7,592.5 493.1,593.8 491.5,595.0 489.9,596.3 488.3,597.5 486.6,598.9 485.0,600.4 483.4,601.8 481.9,603.0 480.2,604.2 478.1,605.5 476.1,606.5 474.7,607.3Z M515.0,588.5 517.2,588.2 519.4,588.3 521.2,588.6 523.1,588.9 524.6,589.1 526.2,589.5 528.0,590.3 529.7,591.2 531.9,592.3 534.6,593.3 536.6,593.8 538.8,594.3 541.0,594.8 543.2,595.3 545.1,595.6 547.2,595.9 549.3,596.2 551.3,596.2 553.5,596.1 555.5,596.0 557.7,595.8 560.0,595.6 562.4,595.2 564.7,594.7 567.0,594.0 569.1,593.2 571.2,592.4 573.0,591.7 574.7,591.2 577.0,590.5 578.8,589.9 580.4,589.5 582.1,589.3 583.8,589.1 585.5,589.2 587.1,589.5 588.6,590.0 590.4,590.7 592.3,591.6 594.4,592.4 596.6,593.1 598.7,593.7 600.4,594.4 601.8,595.5 602.9,597.1 604.3,599.1 606.0,600.8 607.7,602.0 609.2,600.0 607.7,598.8 606.4,597.4 605.2,595.6 603.8,593.6 602.0,592.0 599.9,591.0 598.0,589.9 596.2,588.8 594.8,587.6 593.1,586.2 591.2,584.8 589.1,583.7 586.6,583.0 584.2,582.6 581.8,582.4 579.4,582.5 577.1,582.9 574.9,583.5 572.5,584.2 570.6,584.8 568.6,585.5 566.6,586.2 564.7,586.9 562.8,587.4 561.0,587.8 559.0,588.1 557.0,588.4 555.0,588.5 553.2,588.6 551.3,588.7 549.8,588.6 548.2,588.4 546.3,588.1 544.4,587.9 542.3,587.6 540.2,587.2 538.2,586.9 536.6,586.5 534.4,585.9 532.4,585.1 530.4,584.4 527.9,583.5 525.4,583.1 523.2,583.1 520.9,583.5 518.6,584.3 516.3,585.5 514.3,586.8Z M559.5,572.0 561.8,572.1 563.8,572.3 565.9,572.7 567.7,573.2 569.7,573.8 571.8,574.4 573.9,575.2 575.9,575.9 577.9,576.7 579.8,577.5 581.6,578.3 583.2,579.4 584.7,580.7 586.4,582.4 588.0,583.9 589.4,585.2 590.8,586.6 592.3,588.1 593.8,589.5 595.2,591.0 596.5,592.4 597.8,593.9 599.1,595.5 600.5,597.0 601.8,598.6 603.2,600.3 604.6,602.1 606.0,603.8 607.5,605.5 609.0,607.1 610.7,608.6 612.3,609.9 613.9,611.3 615.5,612.5 617.1,613.9 617.9,614.6 619.3,613.0 618.5,612.3 616.9,610.9 615.3,609.5 613.7,608.3 612.1,606.9 610.6,605.5 609.1,604.0 607.7,602.4 606.3,600.7 604.9,598.9 603.5,597.2 602.2,595.6 600.8,594.0 599.5,592.5 598.2,591.0 596.8,589.5 595.4,588.0 593.9,586.5 592.4,585.0 590.9,583.6 589.5,582.3 587.9,580.8 586.2,579.1 584.5,577.7 582.7,576.4 580.7,575.5 578.8,574.7 576.7,573.9 574.7,573.1 572.5,572.3 570.3,571.6 568.3,571.1 566.3,570.6 564.2,570.2 561.9,569.9 559.7,569.8Z M583.8,579.1 584.9,580.1 586.5,581.5 588.3,583.1 590.1,584.8 591.6,586.3 593.2,587.9 594.7,589.5 596.0,591.1 597.3,592.7 598.7,594.4 600.0,596.1 601.4,598.0 602.7,599.7 603.8,601.3 604.9,603.0 606.2,604.8 607.5,606.5 609.0,608.1 610.6,609.5 612.2,610.9 613.9,612.2 615.5,613.6 617.0,615.1 617.8,615.9 619.4,614.4 618.6,613.6 616.9,612.0 615.3,610.6 613.6,609.2 612.0,607.9 610.5,606.5 609.2,605.0 608.0,603.5 606.8,601.8 605.6,600.1 604.4,598.4 603.1,596.6 601.8,594.8 600.5,593.1 599.1,591.3 597.7,589.7 596.3,588.1 594.8,586.4 593.2,584.7 591.6,583.2 589.8,581.5 587.9,579.9 586.3,578.5 585.2,577.5Z M475.3,617.9 477.0,618.2 479.4,618.7 481.9,619.3 483.7,619.9 485.6,620.7 487.8,621.5 489.9,622.2 491.8,622.8 493.8,623.5 495.9,624.1 498.1,624.6 500.2,624.9 502.5,625.0 504.8,625.0 507.1,624.9 509.3,624.6 511.3,624.3 513.8,623.6 515.8,622.7 517.7,621.8 519.6,621.1 521.6,620.5 523.6,619.8 525.7,618.9 527.6,617.8 529.3,616.6 530.9,615.3 532.5,613.9 534.1,612.5 535.7,611.1 537.3,609.5 538.9,608.0 540.5,606.7 542.1,605.5 544.0,604.3 545.8,603.3 547.5,602.5 549.5,601.7 551.4,601.2 553.3,601.2 555.0,601.3 557.0,601.9 558.9,602.9 560.4,604.0 562.1,605.2 563.9,606.7 565.7,608.2 567.5,609.6 569.1,611.0 570.8,612.4 572.4,614.0 574.0,615.5 575.5,616.9 577.1,618.2 578.8,619.5 580.7,620.6 582.6,621.5 584.3,622.3 586.3,622.9 588.5,623.5 590.7,623.9 592.8,624.1 594.9,624.3 597.0,624.3 599.1,624.3 601.2,624.1 603.4,623.8 605.4,623.4 607.5,623.0 609.6,622.7 611.7,622.3 613.9,622.3 615.8,622.6 617.9,623.1 618.3,621.4 616.1,620.8 614.1,620.5 611.5,620.4 609.3,620.8 607.1,621.2 605.1,621.5 603.1,621.8 601.0,622.1 599.0,622.3 597.0,622.3 595.0,622.2 593.0,622.1 591.0,621.8 588.9,621.4 586.9,620.9 585.1,620.3 583.4,619.6 581.8,618.8 580.0,617.7 578.3,616.5 576.9,615.3 575.4,613.9 573.8,612.4 572.2,610.9 570.5,609.4 568.8,608.0 567.1,606.5 565.2,605.0 563.4,603.6 561.6,602.3 560.0,601.1 557.8,600.0 555.5,599.3 553.4,599.1 551.2,599.1 548.9,599.7 546.7,600.6 544.9,601.4 542.9,602.5 540.9,603.7 539.1,605.0 537.5,606.4 535.8,607.9 534.3,609.5 532.7,610.9 531.1,612.2 529.5,613.6 528.0,614.9 526.4,616.0 524.8,616.9 522.9,617.7 520.9,618.4 518.9,619.0 516.8,619.8 514.9,620.7 513.0,621.5 510.9,622.1 509.0,622.4 506.9,622.7 504.8,622.8 502.6,622.8 500.4,622.7 498.5,622.4 496.5,621.9 494.4,621.3 492.4,620.7 490.6,620.1 488.5,619.5 486.4,618.6 484.5,617.8 482.5,617.1 479.9,616.5 477.4,616.0 475.7,615.7Z M520.1,621.3 522.1,620.7 524.5,619.9 526.7,618.9 528.5,617.7 530.1,616.4 531.7,615.1 533.3,613.8 534.9,612.7 536.7,611.7 538.4,610.7 540.2,609.8 542.0,609.0 544.2,608.3 546.3,607.7 548.1,607.3 550.3,607.0 552.5,607.0 554.4,606.8 556.2,606.8 558.4,607.3 559.9,607.9 561.7,608.8 563.6,609.9 565.6,611.1 567.5,612.3 568.4,612.9 569.6,611.1 568.7,610.5 566.7,609.2 564.7,608.0 562.7,606.9 560.8,605.9 559.0,605.1 556.4,604.6 554.2,604.7 552.5,604.8 550.2,604.8 547.7,605.1 545.7,605.6 543.5,606.2 541.3,606.9 539.2,607.8 537.4,608.7 535.5,609.8 533.7,610.9 532.0,612.1 530.3,613.4 528.8,614.7 527.2,615.9 525.7,616.9 523.7,617.8 521.5,618.6 519.4,619.2Z M475.7,653.6 477.2,653.5 479.3,653.3 481.8,653.1 484.1,652.9 486.1,652.8 488.3,653.0 490.1,653.2 491.9,653.6 493.6,654.1 495.4,654.8 497.2,655.7 499.2,656.7 501.3,657.5 503.5,658.4 505.8,659.1 508.0,659.7 510.8,660.0 513.5,659.7 516.0,658.6 517.9,656.8 519.5,654.9 520.9,653.1 522.3,651.5 521.2,650.4 519.6,651.8 517.8,653.2 516.0,654.8 514.4,655.9 512.8,656.4 511.0,656.2 508.8,655.7 507.0,655.2 505.0,654.5 502.9,653.6 501.0,652.7 499.2,651.8 497.2,650.8 495.2,649.9 493.0,649.2 490.9,648.8 488.6,648.5 486.1,648.4 483.9,648.4 481.4,648.6 478.9,648.8 476.8,649.0 475.3,649.2Z M475.2,655.9 477.0,656.1 479.6,656.5 482.4,656.7 484.7,656.6 486.8,656.3 488.6,656.2 490.2,656.5 491.7,657.1 493.5,657.9 495.3,658.9 497.2,659.9 499.0,661.0 500.9,662.2 502.8,663.4 504.7,664.4 507.2,665.3 509.9,665.3 512.2,664.1 514.1,662.8 515.8,661.2 516.7,660.3 514.6,658.1 513.8,658.8 512.0,660.0 510.5,660.9 509.1,661.4 508.0,661.4 506.3,660.8 504.8,659.9 503.0,658.8 501.1,657.6 499.1,656.4 497.2,655.4 495.3,654.4 493.3,653.4 491.3,652.6 488.9,652.2 486.4,652.3 484.3,652.6 482.4,652.7 480.0,652.5 477.5,652.2 475.8,651.9Z M568.6,638.9 570.3,639.7 572.2,640.6 574.2,641.7 576.1,642.7 577.8,643.7 579.7,645.0 581.4,646.3 583.3,647.6 585.1,648.7 586.8,649.7 588.7,650.8 590.6,651.8 592.6,652.7 594.7,653.3 596.8,653.8 598.9,654.1 601.1,654.3 603.3,654.4 605.5,654.5 607.6,654.5 609.8,654.4 612.0,654.3 614.2,654.1 616.4,654.0 618.5,653.8 620.6,653.7 622.7,653.5 624.7,653.3 626.8,653.0 628.7,652.8 630.5,652.7 632.8,652.5 635.0,652.4 637.0,652.2 639.0,652.1 640.8,652.0 642.9,652.1 644.8,652.2 646.7,652.3 649.1,652.3 650.9,652.2 652.8,652.0 654.7,651.9 656.7,651.7 658.8,651.7 661.1,651.6 662.8,651.7 664.8,651.9 667.0,652.1 669.2,652.3 671.4,652.6 673.5,652.8 675.5,653.1 677.2,653.3 679.8,653.5 682.5,653.7 684.2,653.9 684.8,653.9 685.2,649.5 684.6,649.4 682.9,649.3 680.2,649.0 677.7,648.8 676.0,648.6 674.0,648.4 671.9,648.1 669.7,647.9 667.4,647.6 665.2,647.4 663.1,647.2 661.1,647.2 658.7,647.2 656.4,647.4 654.3,647.6 652.3,647.9 650.5,648.2 648.9,648.3 646.7,648.4 644.8,648.5 642.9,648.5 640.8,648.6 638.8,648.6 636.8,648.8 634.7,648.9 632.5,649.1 630.3,649.3 628.4,649.5 626.4,649.7 624.4,649.9 622.3,650.2 620.3,650.4 618.3,650.6 616.2,650.8 614.0,650.9 611.8,651.1 609.6,651.2 607.5,651.3 605.5,651.4 603.4,651.3 601.3,651.2 599.2,651.1 597.3,650.8 595.5,650.4 593.6,649.9 591.8,649.2 590.0,648.3 588.2,647.4 586.5,646.4 584.6,645.4 582.9,644.2 581.1,643.0 579.0,641.7 577.2,640.7 575.2,639.7 573.2,638.7 571.2,637.8 569.4,637.1Z M583.7,650.1 585.5,651.3 587.4,652.5 589.4,653.5 591.4,654.6 593.4,655.6 595.4,656.4 597.6,657.0 599.8,657.4 601.8,657.5 603.9,657.6 605.9,657.8 608.0,658.1 610.3,658.2 612.5,658.3 614.8,658.2 617.1,658.0 619.4,657.5 621.7,656.9 623.7,656.3 625.7,655.5 627.7,654.7 629.8,654.0 631.7,653.5 633.9,653.1 636.2,652.8 638.4,652.5 640.2,652.3 641.8,652.2 643.8,652.7 645.4,652.8 647.1,652.8 649.0,652.9 651.1,652.9 653.3,653.0 655.6,653.1 657.8,653.3 659.8,653.5 661.8,653.8 663.8,654.3 665.9,654.8 668.1,655.4 670.3,656.0 672.4,656.7 674.3,657.2 676.2,657.8 677.8,658.2 681.3,658.7 683.6,658.8 685.0,658.8 685.0,654.8 683.7,654.8 681.7,654.7 678.6,654.2 677.2,653.9 675.4,653.4 673.5,652.8 671.4,652.2 669.2,651.5 667.0,650.9 664.7,650.4 662.5,649.9 660.3,649.6 658.1,649.4 655.7,649.3 653.4,649.3 651.1,649.4 649.0,649.4 647.1,649.5 645.4,649.5 644.2,649.5 642.0,649.2 639.9,649.3 638.0,649.5 635.8,649.8 633.4,650.2 631.1,650.6 628.9,651.2 626.7,651.9 624.6,652.7 622.7,653.5 620.9,654.1 618.7,654.6 616.7,655.0 614.6,655.2 612.5,655.3 610.5,655.2 608.3,655.1 606.1,654.9 604.1,654.8 601.9,654.8 600.0,654.8 598.1,654.6 596.2,654.0 594.4,653.4 592.4,652.5 590.4,651.5 588.4,650.6 586.6,649.5 584.8,648.4Z M475.6,662.1 477.3,662.0 479.7,662.0 482.0,662.4 483.5,663.2 485.2,664.4 487.1,665.7 489.0,667.1 490.9,668.3 492.8,669.4 494.7,670.6 496.6,671.6 498.8,672.7 501.0,673.6 503.2,674.3 505.5,674.9 507.7,675.2 509.9,675.3 512.0,675.5 513.0,675.6 513.3,672.6 512.2,672.5 510.1,672.3 508.0,672.2 506.0,672.0 504.1,671.5 502.1,670.8 500.0,669.9 498.0,669.0 496.2,668.0 494.3,666.9 492.5,665.7 490.6,664.5 488.8,663.3 486.9,661.9 485.0,660.6 482.8,659.6 479.9,659.0 477.2,659.0 475.4,659.1Z M475.1,664.4 476.6,664.7 478.6,665.2 480.7,665.9 482.4,666.9 483.9,668.0 485.5,669.4 487.2,670.9 488.9,672.2 490.8,673.5 492.8,674.8 494.7,676.0 496.8,676.9 499.0,677.6 501.2,678.0 503.4,678.2 505.5,678.5 507.6,678.8 508.8,678.9 509.1,675.9 508.0,675.8 505.9,675.5 503.7,675.3 501.6,675.0 499.7,674.7 497.8,674.1 496.1,673.3 494.3,672.3 492.5,671.1 490.7,669.8 489.1,668.6 487.5,667.1 485.8,665.7 484.0,664.3 481.9,663.2 479.5,662.3 477.3,661.8 475.9,661.4Z M507.6,679.8 509.0,679.1 510.9,677.9 513.1,676.8 515.0,676.1 516.5,675.7 518.3,675.8 520.4,676.4 522.4,677.0 524.4,677.8 526.4,678.5 528.7,679.1 530.0,679.4 530.8,677.3 529.7,676.7 527.8,675.5 526.0,674.3 523.8,673.3 521.5,672.6 519.0,671.9 516.2,671.7 513.5,672.4 511.3,673.9 509.3,675.6 507.6,677.1 506.4,678.2Z M575.9,680.2 577.3,679.7 579.1,679.1 581.1,678.3 583.3,677.6 585.6,676.8 587.8,676.0 589.9,675.3 591.8,674.7 593.9,674.0 596.2,673.4 598.3,672.9 600.3,672.4 602.1,672.1 603.9,671.8 606.1,671.4 608.1,671.1 610.1,671.0 611.9,670.9 613.8,671.0 615.7,671.1 617.5,671.5 619.5,671.9 621.5,672.4 623.5,673.0 625.6,673.7 627.6,674.5 628.9,671.3 626.8,670.4 624.6,669.6 622.5,668.9 620.4,668.3 618.3,667.8 616.2,667.4 614.1,667.2 611.9,667.1 609.9,667.1 607.8,667.2 605.6,667.5 603.3,667.8 601.3,668.2 599.4,668.7 597.4,669.2 595.2,669.8 592.8,670.6 590.7,671.3 588.8,672.0 586.7,672.8 584.4,673.6 582.2,674.5 580.0,675.4 578.0,676.2 576.2,676.8 574.8,677.4Z M649.8,674.7 651.6,673.3 653.3,671.8 654.9,670.3 656.6,668.7 658.2,667.2 659.8,665.5 661.4,664.0 662.7,662.9 664.0,662.1 665.2,662.1 667.4,662.2 669.3,662.4 671.6,662.7 673.9,662.9 676.1,663.2 678.0,663.4 680.9,663.6 683.3,663.8 684.9,663.9 685.1,659.9 683.5,659.8 681.2,659.6 678.4,659.4 676.5,659.2 674.3,659.0 672.0,658.7 669.7,658.4 667.8,658.3 665.3,658.1 662.7,658.3 660.4,659.7 658.8,661.3 657.2,663.1 655.7,664.8 654.2,666.5 652.7,668.1 651.2,669.8 649.8,671.3 648.2,672.9Z M657.8,650.8 660.0,650.6 662.3,649.8 663.9,648.5 665.3,646.9 666.4,645.0 667.5,643.1 668.6,641.2 669.6,639.6 670.8,638.0 672.2,636.3 673.6,634.7 675.0,633.1 676.3,631.7 677.5,630.4 679.2,628.9 680.9,627.6 682.1,626.9 684.4,626.4 685.1,626.4 684.9,623.4 683.9,623.5 681.1,624.1 679.2,625.2 677.3,626.7 675.6,628.5 674.3,629.8 673.0,631.3 671.5,632.9 670.1,634.6 668.7,636.3 667.4,638.0 666.3,639.9 665.2,641.8 664.2,643.7 663.1,645.4 662.1,646.8 661.1,647.8 659.5,648.7 657.5,649.2Z" fill="#000" stroke="#000" stroke-width="0.2"/>
</g>
<line x1="133.5" y1="25.9" x2="133.5" y2="212.3" stroke="#111" stroke-width="1.1"/>
<line x1="343.0" y1="25.9" x2="343.0" y2="212.3" stroke="#111" stroke-width="1.5"/>
<line x1="552.5" y1="25.9" x2="552.5" y2="212.3" stroke="#111" stroke-width="1.1"/>
<line x1="221.6" y1="25.9" x2="221.6" y2="212.3" stroke="#111" stroke-width="1.2"/>
<line x1="431.5" y1="25.9" x2="431.5" y2="212.3" stroke="#111" stroke-width="1.1"/>
<line x1="641.0" y1="25.9" x2="641.0" y2="212.3" stroke="#1a1a1a" stroke-width="1.5"/>
<line x1="56.5" y1="187.2" x2="63.5" y2="187.2" stroke="#222" stroke-width="1"/>
<line x1="259.0" y1="187.2" x2="273.0" y2="187.2" stroke="#222" stroke-width="1"/>
<line x1="469.0" y1="187.2" x2="483.0" y2="187.2" stroke="#222" stroke-width="1"/>
<line x1="678.5" y1="187.2" x2="685.5" y2="187.2" stroke="#222" stroke-width="1"/>
<line x1="56.5" y1="162.4" x2="63.5" y2="162.4" stroke="#222" stroke-width="1"/>
<line x1="259.0" y1="162.4" x2="273.0" y2="162.4" stroke="#222" stroke-width="1"/>
<line x1="469.0" y1="162.4" x2="483.0" y2="162.4" stroke="#222" stroke-width="1"/>
<line x1="678.5" y1="162.4" x2="685.5" y2="162.4" stroke="#222" stroke-width="1"/>
<line x1="56.5" y1="137.7" x2="63.5" y2="137.7" stroke="#222" stroke-width="1"/>
<line x1="259.0" y1="137.7" x2="273.0" y2="137.7" stroke="#222" stroke-width="1"/>
<line x1="469.0" y1="137.7" x2="483.0" y2="137.7" stroke="#222" stroke-width="1"/>
<line x1="678.5" y1="137.7" x2="685.5" y2="137.7" stroke="#222" stroke-width="1"/>
<line x1="56.5" y1="112.8" x2="63.5" y2="112.8" stroke="#222" stroke-width="1"/>
<line x1="259.0" y1="112.8" x2="273.0" y2="112.8" stroke="#222" stroke-width="1"/>
<line x1="469.0" y1="112.8" x2="483.0" y2="112.8" stroke="#222" stroke-width="1"/>
<line x1="678.5" y1="112.8" x2="685.5" y2="112.8" stroke="#222" stroke-width="1"/>
<line x1="56.5" y1="88.0" x2="63.5" y2="88.0" stroke="#222" stroke-width="1"/>
<line x1="259.0" y1="88.0" x2="273.0" y2="88.0" stroke="#222" stroke-width="1"/>
<line x1="469.0" y1="88.0" x2="483.0" y2="88.0" stroke="#222" stroke-width="1"/>
<line x1="678.5" y1="88.0" x2="685.5" y2="88.0" stroke="#222" stroke-width="1"/>
<line x1="56.5" y1="63.2" x2="63.5" y2="63.2" stroke="#222" stroke-width="1"/>
<line x1="259.0" y1="63.2" x2="273.0" y2="63.2" stroke="#222" stroke-width="1"/>
<line x1="469.0" y1="63.2" x2="483.0" y2="63.2" stroke="#222" stroke-width="1"/>
<line x1="678.5" y1="63.2" x2="685.5" y2="63.2" stroke="#222" stroke-width="1"/>
<line x1="56.5" y1="38.4" x2="63.5" y2="38.4" stroke="#222" stroke-width="1"/>
<line x1="259.0" y1="38.4" x2="273.0" y2="38.4" stroke="#222" stroke-width="1"/>
<line x1="469.0" y1="38.4" x2="483.0" y2="38.4" stroke="#222" stroke-width="1"/>
<line x1="678.5" y1="38.4" x2="685.5" y2="38.4" stroke="#222" stroke-width="1"/>
<path d="M56.5 25.9V212.3H685.5V25.9" fill="none" stroke="#111" stroke-width="1.3"/>
<line x1="55.9" y1="25.9" x2="266" y2="25.9" stroke="#8a8a8a" stroke-width="1.6"/>
<line x1="266" y1="25.9" x2="686.1" y2="25.9" stroke="#444" stroke-width="1.6"/>
<line x1="266.0" y1="25.9" x2="266.0" y2="212.3" stroke="#000" stroke-width="2"/>
<line x1="476.0" y1="25.9" x2="476.0" y2="212.3" stroke="#000" stroke-width="2"/>
<line x1="133.5" y1="259.1" x2="133.5" y2="445.5" stroke="#111" stroke-width="1.1"/>
<line x1="343.0" y1="259.1" x2="343.0" y2="445.5" stroke="#111" stroke-width="1.5"/>
<line x1="552.5" y1="259.1" x2="552.5" y2="445.5" stroke="#111" stroke-width="1.1"/>
<line x1="221.6" y1="259.1" x2="221.6" y2="445.5" stroke="#111" stroke-width="1.2"/>
<line x1="431.5" y1="259.1" x2="431.5" y2="445.5" stroke="#111" stroke-width="1.1"/>
<line x1="641.0" y1="259.1" x2="641.0" y2="445.5" stroke="#1a1a1a" stroke-width="1.5"/>
<line x1="56.5" y1="420.4" x2="63.5" y2="420.4" stroke="#222" stroke-width="1"/>
<line x1="259.0" y1="420.4" x2="273.0" y2="420.4" stroke="#222" stroke-width="1"/>
<line x1="469.0" y1="420.4" x2="483.0" y2="420.4" stroke="#222" stroke-width="1"/>
<line x1="678.5" y1="420.4" x2="685.5" y2="420.4" stroke="#222" stroke-width="1"/>
<line x1="56.5" y1="395.6" x2="63.5" y2="395.6" stroke="#222" stroke-width="1"/>
<line x1="259.0" y1="395.6" x2="273.0" y2="395.6" stroke="#222" stroke-width="1"/>
<line x1="469.0" y1="395.6" x2="483.0" y2="395.6" stroke="#222" stroke-width="1"/>
<line x1="678.5" y1="395.6" x2="685.5" y2="395.6" stroke="#222" stroke-width="1"/>
<line x1="56.5" y1="370.9" x2="63.5" y2="370.9" stroke="#222" stroke-width="1"/>
<line x1="259.0" y1="370.9" x2="273.0" y2="370.9" stroke="#222" stroke-width="1"/>
<line x1="469.0" y1="370.9" x2="483.0" y2="370.9" stroke="#222" stroke-width="1"/>
<line x1="678.5" y1="370.9" x2="685.5" y2="370.9" stroke="#222" stroke-width="1"/>
<line x1="56.5" y1="346.1" x2="63.5" y2="346.1" stroke="#222" stroke-width="1"/>
<line x1="259.0" y1="346.1" x2="273.0" y2="346.1" stroke="#222" stroke-width="1"/>
<line x1="469.0" y1="346.1" x2="483.0" y2="346.1" stroke="#222" stroke-width="1"/>
<line x1="678.5" y1="346.1" x2="685.5" y2="346.1" stroke="#222" stroke-width="1"/>
<line x1="56.5" y1="321.2" x2="63.5" y2="321.2" stroke="#222" stroke-width="1"/>
<line x1="259.0" y1="321.2" x2="273.0" y2="321.2" stroke="#222" stroke-width="1"/>
<line x1="469.0" y1="321.2" x2="483.0" y2="321.2" stroke="#222" stroke-width="1"/>
<line x1="678.5" y1="321.2" x2="685.5" y2="321.2" stroke="#222" stroke-width="1"/>
<line x1="56.5" y1="296.4" x2="63.5" y2="296.4" stroke="#222" stroke-width="1"/>
<line x1="259.0" y1="296.4" x2="273.0" y2="296.4" stroke="#222" stroke-width="1"/>
<line x1="469.0" y1="296.4" x2="483.0" y2="296.4" stroke="#222" stroke-width="1"/>
<line x1="678.5" y1="296.4" x2="685.5" y2="296.4" stroke="#222" stroke-width="1"/>
<line x1="56.5" y1="271.6" x2="63.5" y2="271.6" stroke="#222" stroke-width="1"/>
<line x1="259.0" y1="271.6" x2="273.0" y2="271.6" stroke="#222" stroke-width="1"/>
<line x1="469.0" y1="271.6" x2="483.0" y2="271.6" stroke="#222" stroke-width="1"/>
<line x1="678.5" y1="271.6" x2="685.5" y2="271.6" stroke="#222" stroke-width="1"/>
<rect x="56.5" y="259.1" width="629.0" height="186.4" fill="none" stroke="#111" stroke-width="1.3"/>
<line x1="266.0" y1="259.1" x2="266.0" y2="445.5" stroke="#000" stroke-width="2"/>
<line x1="476.0" y1="259.1" x2="476.0" y2="445.5" stroke="#000" stroke-width="2"/>
<line x1="133.5" y1="492.4" x2="133.5" y2="678.8" stroke="#111" stroke-width="1.1"/>
<line x1="343.0" y1="492.4" x2="343.0" y2="678.8" stroke="#111" stroke-width="1.5"/>
<line x1="552.5" y1="492.4" x2="552.5" y2="678.8" stroke="#111" stroke-width="1.1"/>
<line x1="221.6" y1="492.4" x2="221.6" y2="678.8" stroke="#111" stroke-width="1.2"/>
<line x1="431.5" y1="492.4" x2="431.5" y2="678.8" stroke="#111" stroke-width="1.1"/>
<line x1="641.0" y1="492.4" x2="641.0" y2="678.8" stroke="#1a1a1a" stroke-width="1.5"/>
<line x1="56.5" y1="653.8" x2="63.5" y2="653.8" stroke="#222" stroke-width="1"/>
<line x1="259.0" y1="653.8" x2="273.0" y2="653.8" stroke="#222" stroke-width="1"/>
<line x1="469.0" y1="653.8" x2="483.0" y2="653.8" stroke="#222" stroke-width="1"/>
<line x1="678.5" y1="653.8" x2="685.5" y2="653.8" stroke="#222" stroke-width="1"/>
<line x1="56.5" y1="628.9" x2="63.5" y2="628.9" stroke="#222" stroke-width="1"/>
<line x1="259.0" y1="628.9" x2="273.0" y2="628.9" stroke="#222" stroke-width="1"/>
<line x1="469.0" y1="628.9" x2="483.0" y2="628.9" stroke="#222" stroke-width="1"/>
<line x1="678.5" y1="628.9" x2="685.5" y2="628.9" stroke="#222" stroke-width="1"/>
<line x1="56.5" y1="604.1" x2="63.5" y2="604.1" stroke="#222" stroke-width="1"/>
<line x1="259.0" y1="604.1" x2="273.0" y2="604.1" stroke="#222" stroke-width="1"/>
<line x1="469.0" y1="604.1" x2="483.0" y2="604.1" stroke="#222" stroke-width="1"/>
<line x1="678.5" y1="604.1" x2="685.5" y2="604.1" stroke="#222" stroke-width="1"/>
<line x1="56.5" y1="579.3" x2="63.5" y2="579.3" stroke="#222" stroke-width="1"/>
<line x1="259.0" y1="579.3" x2="273.0" y2="579.3" stroke="#222" stroke-width="1"/>
<line x1="469.0" y1="579.3" x2="483.0" y2="579.3" stroke="#222" stroke-width="1"/>
<line x1="678.5" y1="579.3" x2="685.5" y2="579.3" stroke="#222" stroke-width="1"/>
<line x1="56.5" y1="554.5" x2="63.5" y2="554.5" stroke="#222" stroke-width="1"/>
<line x1="259.0" y1="554.5" x2="273.0" y2="554.5" stroke="#222" stroke-width="1"/>
<line x1="469.0" y1="554.5" x2="483.0" y2="554.5" stroke="#222" stroke-width="1"/>
<line x1="678.5" y1="554.5" x2="685.5" y2="554.5" stroke="#222" stroke-width="1"/>
<line x1="56.5" y1="529.8" x2="63.5" y2="529.8" stroke="#222" stroke-width="1"/>
<line x1="259.0" y1="529.8" x2="273.0" y2="529.8" stroke="#222" stroke-width="1"/>
<line x1="469.0" y1="529.8" x2="483.0" y2="529.8" stroke="#222" stroke-width="1"/>
<line x1="678.5" y1="529.8" x2="685.5" y2="529.8" stroke="#222" stroke-width="1"/>
<line x1="56.5" y1="504.9" x2="63.5" y2="504.9" stroke="#222" stroke-width="1"/>
<line x1="259.0" y1="504.9" x2="273.0" y2="504.9" stroke="#222" stroke-width="1"/>
<line x1="469.0" y1="504.9" x2="483.0" y2="504.9" stroke="#222" stroke-width="1"/>
<line x1="678.5" y1="504.9" x2="685.5" y2="504.9" stroke="#222" stroke-width="1"/>
<rect x="56.5" y="492.4" width="629.0" height="186.4" fill="none" stroke="#111" stroke-width="1.3"/>
<line x1="266.0" y1="492.4" x2="266.0" y2="678.8" stroke="#000" stroke-width="2"/>
<line x1="476.0" y1="492.4" x2="476.0" y2="678.8" stroke="#000" stroke-width="2"/>
<g style="font-kerning:none" text-rendering="geometricPrecision">
<text transform="matrix(0.23707 0 0 0.25349 36.61 44.80)" font-family='"Liberation Sans", Arial, sans-serif' font-size="100" fill="#000">2</text>
<text transform="matrix(0.21338 0 0 0.24152 37.57 94.36)" font-family='"Liberation Sans", Arial, sans-serif' font-size="100" fill="#000">0</text>
<text transform="matrix(0.21902 0 0 0.24920 31.13 144.20)" font-family='"Liberation Sans", Arial, sans-serif' font-size="100" fill="#000">-2</text>
<text transform="matrix(0.21461 0 0 0.24855 31.05 193.00)" font-family='"Liberation Sans", Arial, sans-serif' font-size="100" fill="#000">-4</text>
<text transform="matrix(0 -0.25789 0.26000 0 18.60 152.82)" font-family='"Liberation Sans", Arial, sans-serif' font-size="100" fill="#000">E ( eV )</text>
<text transform="matrix(0.23707 0 0 0.25349 36.61 278.00)" font-family='"Liberation Sans", Arial, sans-serif' font-size="100" fill="#000">2</text>
<text transform="matrix(0.21338 0 0 0.24152 37.57 327.56)" font-family='"Liberation Sans", Arial, sans-serif' font-size="100" fill="#000">0</text>
<text transform="matrix(0.21902 0 0 0.24920 31.13 377.40)" font-family='"Liberation Sans", Arial, sans-serif' font-size="100" fill="#000">-2</text>
<text transform="matrix(0.21461 0 0 0.24855 31.05 426.20)" font-family='"Liberation Sans", Arial, sans-serif' font-size="100" fill="#000">-4</text>
<text transform="matrix(0 -0.25789 0.26000 0 18.60 386.02)" font-family='"Liberation Sans", Arial, sans-serif' font-size="100" fill="#000">E ( eV )</text>
<text transform="matrix(0.23707 0 0 0.25349 36.61 511.30)" font-family='"Liberation Sans", Arial, sans-serif' font-size="100" fill="#000">2</text>
<text transform="matrix(0.21338 0 0 0.24152 37.57 560.86)" font-family='"Liberation Sans", Arial, sans-serif' font-size="100" fill="#000">0</text>
<text transform="matrix(0.21902 0 0 0.24920 31.13 610.70)" font-family='"Liberation Sans", Arial, sans-serif' font-size="100" fill="#000">-2</text>
<text transform="matrix(0.21461 0 0 0.24855 31.05 659.50)" font-family='"Liberation Sans", Arial, sans-serif' font-size="100" fill="#000">-4</text>
<text transform="matrix(0 -0.25789 0.26000 0 18.60 619.32)" font-family='"Liberation Sans", Arial, sans-serif' font-size="100" fill="#000">E ( eV )</text>
<text transform="matrix(0.23349 0 0 0.27594 108.18 18.88)" font-family='"Liberation Sans", Arial, sans-serif' font-size="100" fill="#000">Pt:</text>
<text transform="matrix(0.23163 0 0 0.29100 140.46 18.82)" font-family='"Liberation Sans", Arial, sans-serif' font-size="100" fill="#000">s</text>
<text transform="matrix(0.23444 0 0 0.27594 316.28 18.88)" font-family='"Liberation Sans", Arial, sans-serif' font-size="100" fill="#000">Pt:</text>
<text transform="matrix(0.20013 0 0 0.25231 348.01 14.96)" font-family='"Liberation Sans", Arial, sans-serif' font-size="100" fill="#000">p</text>
<text transform="matrix(0.17889 0 0 0.19499 362.00 19.35)" font-family='"Liberation Sans", Arial, sans-serif' font-size="100" fill="#000">x+y</text>
<text transform="matrix(0.23158 0 0 0.27450 526.10 18.39)" font-family='"Liberation Sans", Arial, sans-serif' font-size="100" fill="#000">Pt:</text>
<text transform="matrix(0.19568 0 0 0.26170 559.94 15.37)" font-family='"Liberation Sans", Arial, sans-serif' font-size="100" fill="#000">p</text>
<text transform="matrix(0.22213 0 0 0.20442 572.60 21.20)" font-family='"Liberation Sans", Arial, sans-serif' font-size="100" fill="#000">z</text>
<text transform="matrix(0.23063 0 0 0.27594 109.21 250.98)" font-family='"Liberation Sans", Arial, sans-serif' font-size="100" fill="#000">Pt:</text>
<text transform="matrix(0.23571 0 0 0.26417 137.81 251.14)" font-family='"Liberation Sans", Arial, sans-serif' font-size="100" fill="#000">d</text>
<text transform="matrix(0.20993 0 0 0.21010 153.65 254.30)" font-family='"Liberation Sans", Arial, sans-serif' font-size="100" fill="#000">z</text>
<text transform="matrix(0.14487 0 0 0.15324 163.37 243.20)" font-family='"Liberation Sans", Arial, sans-serif' font-size="100" fill="#000">2</text>
<text transform="matrix(0.23063 0 0 0.26732 317.91 251.59)" font-family='"Liberation Sans", Arial, sans-serif' font-size="100" fill="#000">Pt:</text>
<text transform="matrix(0.24016 0 0 0.27915 346.49 251.73)" font-family='"Liberation Sans", Arial, sans-serif' font-size="100" fill="#000">d</text>
<text transform="matrix(0.17942 0 0 0.19116 361.87 253.03)" font-family='"Liberation Sans", Arial, sans-serif' font-size="100" fill="#000">zx+zy</text>
<text transform="matrix(0.23539 0 0 0.26013 526.97 250.70)" font-family='"Liberation Sans", Arial, sans-serif' font-size="100" fill="#000">Pt:</text>
<text transform="matrix(0.25127 0 0 0.26145 555.94 250.84)" font-family='"Liberation Sans", Arial, sans-serif' font-size="100" fill="#000">d</text>
<text transform="matrix(0.15271 0 0 0.17982 570.73 252.70)" font-family='"Liberation Sans", Arial, sans-serif' font-size="100" fill="#000">x</text>
<text transform="matrix(0.13390 0 0 0.14178 579.53 242.70)" font-family='"Liberation Sans", Arial, sans-serif' font-size="100" fill="#000">2</text>
<text transform="matrix(0.15382 0 0 0.19434 586.92 252.57)" font-family='"Liberation Sans", Arial, sans-serif' font-size="100" fill="#000">-y</text>
<text transform="matrix(0.15146 0 0 0.14178 600.24 242.70)" font-family='"Liberation Sans", Arial, sans-serif' font-size="100" fill="#000">2</text>
<text transform="matrix(0.16893 0 0 0.18607 607.98 252.74)" font-family='"Liberation Sans", Arial, sans-serif' font-size="100" fill="#000">+xy</text>
<text transform="matrix(0.25069 0 0 0.29237 99.46 481.51)" font-family='"Liberation Sans", Arial, sans-serif' font-size="100" fill="#000">Se:</text>
<text transform="matrix(0.22705 0 0 0.26904 139.87 481.54)" font-family='"Liberation Sans", Arial, sans-serif' font-size="100" fill="#000">s</text>
<text transform="matrix(0.25069 0 0 0.29943 309.06 481.51)" font-family='"Liberation Sans", Arial, sans-serif' font-size="100" fill="#000">Se:</text>
<text transform="matrix(0.23126 0 0 0.25634 347.21 479.58)" font-family='"Liberation Sans", Arial, sans-serif' font-size="100" fill="#000">p</text>
<text transform="matrix(0.18144 0 0 0.19881 361.30 484.67)" font-family='"Liberation Sans", Arial, sans-serif' font-size="100" fill="#000">x+y</text>
<text transform="matrix(0.25362 0 0 0.29661 519.85 481.71)" font-family='"Liberation Sans", Arial, sans-serif' font-size="100" fill="#000">Se:</text>
<text transform="matrix(0.20458 0 0 0.24694 559.68 478.58)" font-family='"Liberation Sans", Arial, sans-serif' font-size="100" fill="#000">p</text>
<text transform="matrix(0.21237 0 0 0.22524 573.64 484.20)" font-family='"Liberation Sans", Arial, sans-serif' font-size="100" fill="#000">z</text>
<text transform="matrix(0.21227 0 0 0.24274 44.96 700.40)" font-family='"Liberation Sans", Arial, sans-serif' font-size="100" fill="#000">M</text>
<text transform="matrix(0.25527 0 0 0.26421 123.76 700.30)" font-family='"Liberation Serif", "Times New Roman", serif' font-size="100" fill="#000">Γ</text>
<text transform="matrix(0.21962 0 0 0.25000 214.10 700.30)" font-family='"Liberation Sans", Arial, sans-serif' font-size="100" fill="#000">K</text>
<text transform="matrix(0.21078 0 0 0.25146 256.27 700.30)" font-family='"Liberation Sans", Arial, sans-serif' font-size="100" fill="#000">M</text>
<text transform="matrix(0.25914 0 0 0.26421 335.35 700.30)" font-family='"Liberation Serif", "Times New Roman", serif' font-size="100" fill="#000">Γ</text>
<text transform="matrix(0.21264 0 0 0.25146 426.06 700.30)" font-family='"Liberation Sans", Arial, sans-serif' font-size="100" fill="#000">K</text>
<text transform="matrix(0.22872 0 0 0.25146 467.52 700.10)" font-family='"Liberation Sans", Arial, sans-serif' font-size="100" fill="#000">M</text>
<text transform="matrix(0.24947 0 0 0.26268 544.48 700.30)" font-family='"Liberation Serif", "Times New Roman", serif' font-size="100" fill="#000">Γ</text>
<text transform="matrix(0.21264 0 0 0.24855 635.06 700.30)" font-family='"Liberation Sans", Arial, sans-serif' font-size="100" fill="#000">K</text>
<text transform="matrix(0.21676 0 0 0.24855 676.72 700.30)" font-family='"Liberation Sans", Arial, sans-serif' font-size="100" fill="#000">M</text>
</g>
</svg></body></html>
